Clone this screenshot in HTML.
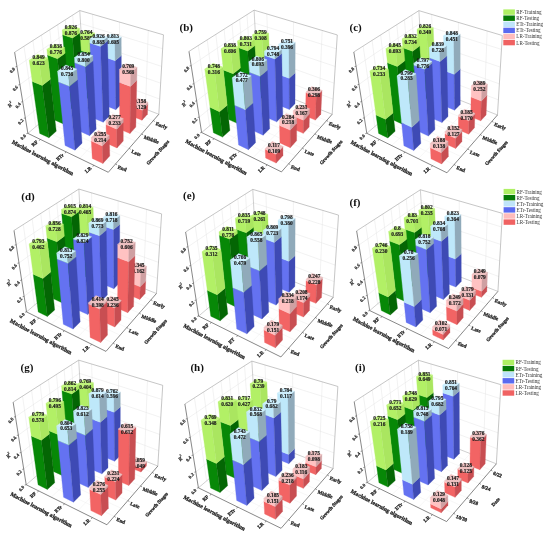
<!DOCTYPE html>
<html><head><meta charset="utf-8"><style>
html,body{margin:0;padding:0;background:#fff;}
svg{display:block;}
text{font-family:"Liberation Serif", "Times New Roman", serif;}
</style></head><body>
<svg width="550" height="538" viewBox="0 0 550 538">
<rect width="550" height="538" fill="#fff"/>
<line x1="35.83" y1="126.61" x2="23.97" y2="46.27" stroke="#e2e2e2" stroke-width="0.45"/>
<line x1="35.83" y1="126.61" x2="115.52" y2="163.98" stroke="#eeeeee" stroke-width="0.45"/>
<line x1="43.52" y1="120.11" x2="32.92" y2="40.54" stroke="#e2e2e2" stroke-width="0.45"/>
<line x1="43.52" y1="120.11" x2="122.45" y2="156.03" stroke="#eeeeee" stroke-width="0.45"/>
<line x1="50.94" y1="113.83" x2="41.51" y2="35.04" stroke="#e2e2e2" stroke-width="0.45"/>
<line x1="50.94" y1="113.83" x2="129.11" y2="148.38" stroke="#eeeeee" stroke-width="0.45"/>
<line x1="58.09" y1="107.77" x2="49.77" y2="29.76" stroke="#e2e2e2" stroke-width="0.45"/>
<line x1="58.09" y1="107.77" x2="135.51" y2="141.03" stroke="#eeeeee" stroke-width="0.45"/>
<line x1="65.01" y1="101.93" x2="57.71" y2="24.68" stroke="#e2e2e2" stroke-width="0.45"/>
<line x1="65.01" y1="101.93" x2="141.67" y2="133.96" stroke="#eeeeee" stroke-width="0.45"/>
<line x1="71.69" y1="96.27" x2="65.34" y2="19.79" stroke="#e2e2e2" stroke-width="0.45"/>
<line x1="71.69" y1="96.27" x2="147.60" y2="127.14" stroke="#eeeeee" stroke-width="0.45"/>
<line x1="78.15" y1="90.81" x2="72.70" y2="15.09" stroke="#e2e2e2" stroke-width="0.45"/>
<line x1="78.15" y1="90.81" x2="153.32" y2="120.58" stroke="#eeeeee" stroke-width="0.45"/>
<line x1="95.87" y1="89.95" x2="92.57" y2="14.26" stroke="#e2e2e2" stroke-width="0.45"/>
<line x1="119.89" y1="99.22" x2="119.46" y2="22.06" stroke="#e2e2e2" stroke-width="0.45"/>
<line x1="145.44" y1="109.08" x2="148.28" y2="30.42" stroke="#e2e2e2" stroke-width="0.45"/>
<line x1="40.11" y1="139.29" x2="95.87" y2="89.95" stroke="#eeeeee" stroke-width="0.45"/>
<line x1="52.79" y1="145.42" x2="107.70" y2="94.52" stroke="#eeeeee" stroke-width="0.45"/>
<line x1="65.93" y1="151.77" x2="119.89" y2="99.22" stroke="#eeeeee" stroke-width="0.45"/>
<line x1="79.54" y1="158.36" x2="132.47" y2="104.07" stroke="#eeeeee" stroke-width="0.45"/>
<line x1="93.66" y1="165.19" x2="145.44" y2="109.08" stroke="#eeeeee" stroke-width="0.45"/>
<line x1="25.35" y1="117.96" x2="83.51" y2="71.09" stroke="#e2e2e2" stroke-width="0.45"/>
<line x1="83.51" y1="71.09" x2="159.72" y2="99.10" stroke="#e2e2e2" stroke-width="0.45"/>
<line x1="22.71" y1="101.73" x2="82.58" y2="55.98" stroke="#e2e2e2" stroke-width="0.45"/>
<line x1="82.58" y1="55.98" x2="160.65" y2="83.17" stroke="#e2e2e2" stroke-width="0.45"/>
<line x1="19.91" y1="84.61" x2="81.60" y2="40.15" stroke="#e2e2e2" stroke-width="0.45"/>
<line x1="81.60" y1="40.15" x2="161.63" y2="66.40" stroke="#e2e2e2" stroke-width="0.45"/>
<line x1="16.97" y1="66.51" x2="80.58" y2="23.55" stroke="#e2e2e2" stroke-width="0.45"/>
<line x1="80.58" y1="23.55" x2="162.67" y2="48.73" stroke="#e2e2e2" stroke-width="0.45"/>
<line x1="14.64" y1="52.24" x2="79.78" y2="10.55" stroke="#a0a0a0" stroke-width="0.6"/>
<line x1="79.78" y1="10.55" x2="163.48" y2="34.83" stroke="#a0a0a0" stroke-width="0.6"/>
<line x1="163.48" y1="34.83" x2="158.83" y2="114.25" stroke="#a0a0a0" stroke-width="0.6"/>
<line x1="84.39" y1="85.52" x2="79.78" y2="10.55" stroke="#a0a0a0" stroke-width="0.5"/>
<line x1="27.86" y1="133.36" x2="84.39" y2="85.52" stroke="#a0a0a0" stroke-width="0.5"/>
<line x1="84.39" y1="85.52" x2="158.83" y2="114.25" stroke="#a0a0a0" stroke-width="0.5"/>
<line x1="27.86" y1="133.36" x2="14.64" y2="52.24" stroke="#555" stroke-width="0.7"/>
<line x1="27.86" y1="133.36" x2="108.30" y2="172.27" stroke="#555" stroke-width="0.7"/>
<line x1="108.30" y1="172.27" x2="158.83" y2="114.25" stroke="#555" stroke-width="0.7"/>
<line x1="27.86" y1="133.36" x2="26.36" y2="133.66" stroke="#555" stroke-width="0.6"/>
<text x="23.26" y="137.16" font-size="4.7" font-weight="bold" text-anchor="middle" dominant-baseline="central" fill="#222" stroke="#222" stroke-width="0.15" transform="rotate(-47.0 23.26 137.16)">0.0</text>
<line x1="25.35" y1="117.96" x2="23.85" y2="118.26" stroke="#555" stroke-width="0.6"/>
<text x="20.75" y="121.76" font-size="4.7" font-weight="bold" text-anchor="middle" dominant-baseline="central" fill="#222" stroke="#222" stroke-width="0.15" transform="rotate(-47.0 20.75 121.76)">0.2</text>
<line x1="22.71" y1="101.73" x2="21.21" y2="102.03" stroke="#555" stroke-width="0.6"/>
<text x="18.11" y="105.53" font-size="4.7" font-weight="bold" text-anchor="middle" dominant-baseline="central" fill="#222" stroke="#222" stroke-width="0.15" transform="rotate(-47.0 18.11 105.53)">0.4</text>
<line x1="19.91" y1="84.61" x2="18.41" y2="84.91" stroke="#555" stroke-width="0.6"/>
<text x="15.31" y="88.41" font-size="4.7" font-weight="bold" text-anchor="middle" dominant-baseline="central" fill="#222" stroke="#222" stroke-width="0.15" transform="rotate(-47.0 15.31 88.41)">0.6</text>
<line x1="16.97" y1="66.51" x2="15.47" y2="66.81" stroke="#555" stroke-width="0.6"/>
<text x="12.37" y="70.31" font-size="4.7" font-weight="bold" text-anchor="middle" dominant-baseline="central" fill="#222" stroke="#222" stroke-width="0.15" transform="rotate(-47.0 12.37 70.31)">0.8</text>
<line x1="40.11" y1="139.29" x2="39.21" y2="140.79" stroke="#555" stroke-width="0.6"/>
<line x1="65.93" y1="151.77" x2="65.03" y2="153.27" stroke="#555" stroke-width="0.6"/>
<line x1="93.66" y1="165.19" x2="92.76" y2="166.69" stroke="#555" stroke-width="0.6"/>
<line x1="115.52" y1="163.98" x2="117.02" y2="164.88" stroke="#555" stroke-width="0.6"/>
<line x1="129.11" y1="148.38" x2="130.61" y2="149.28" stroke="#555" stroke-width="0.6"/>
<line x1="141.67" y1="133.96" x2="143.17" y2="134.86" stroke="#555" stroke-width="0.6"/>
<line x1="153.32" y1="120.58" x2="154.82" y2="121.48" stroke="#555" stroke-width="0.6"/>
<polygon points="82.36,96.30 91.14,99.82 88.71,53.10 79.30,49.89" fill="#078807" stroke="#078807" stroke-width="0.3" stroke-linejoin="round"/>
<polygon points="91.14,99.82 97.06,94.49 95.10,48.18 88.71,53.10" fill="#046604" stroke="#046604" stroke-width="0.3" stroke-linejoin="round"/>
<polygon points="79.30,49.89 88.71,53.10 87.91,37.83 78.30,34.73" fill="#b2f066" stroke="#b2f066" stroke-width="0.3" stroke-linejoin="round"/>
<polygon points="88.71,53.10 95.10,48.18 94.47,33.07 87.91,37.83" fill="#aae660" stroke="#aae660" stroke-width="0.3" stroke-linejoin="round"/>
<polygon points="78.30,34.73 87.91,37.83 94.47,33.07 84.95,30.08" fill="#bff47c" stroke="#bff47c" stroke-width="0.3" stroke-linejoin="round"/>
<text x="86.41" y="33.60" font-size="5.4" font-weight="bold" text-anchor="middle" fill="#1a1a1a" stroke="#1a1a1a" stroke-width="0.15">0.764</text>
<text x="86.41" y="39.50" font-size="5.4" font-weight="bold" text-anchor="middle" fill="#1a1a1a" stroke="#1a1a1a" stroke-width="0.15">0.589</text>
<polygon points="69.12,107.81 78.06,111.59 72.58,38.03 62.65,34.76" fill="#078807" stroke="#078807" stroke-width="0.3" stroke-linejoin="round"/>
<polygon points="78.06,111.59 84.40,105.89 79.77,33.01 72.58,38.03" fill="#046604" stroke="#046604" stroke-width="0.3" stroke-linejoin="round"/>
<polygon points="62.65,34.76 72.58,38.03 72.22,33.29 62.23,30.06" fill="#b2f066" stroke="#b2f066" stroke-width="0.3" stroke-linejoin="round"/>
<polygon points="72.58,38.03 79.77,33.01 79.47,28.32 72.22,33.29" fill="#aae660" stroke="#aae660" stroke-width="0.3" stroke-linejoin="round"/>
<polygon points="62.23,30.06 72.22,33.29 79.47,28.32 69.57,25.22" fill="#bff47c" stroke="#bff47c" stroke-width="0.3" stroke-linejoin="round"/>
<text x="70.87" y="28.89" font-size="5.4" font-weight="bold" text-anchor="middle" fill="#1a1a1a" stroke="#1a1a1a" stroke-width="0.15">0.926</text>
<text x="70.87" y="34.79" font-size="5.4" font-weight="bold" text-anchor="middle" fill="#1a1a1a" stroke="#1a1a1a" stroke-width="0.15">0.876</text>
<polygon points="106.43,105.95 115.77,109.70 115.16,60.75 105.08,57.33" fill="#6472f1" stroke="#6472f1" stroke-width="0.3" stroke-linejoin="round"/>
<polygon points="115.77,109.70 121.47,104.04 121.32,55.52 115.16,60.75" fill="#3e4ab4" stroke="#3e4ab4" stroke-width="0.3" stroke-linejoin="round"/>
<polygon points="105.08,57.33 115.16,60.75 114.93,42.06 104.57,38.78" fill="#bee8fa" stroke="#bee8fa" stroke-width="0.3" stroke-linejoin="round"/>
<polygon points="115.16,60.75 121.32,55.52 121.26,37.02 114.93,42.06" fill="#90aaba" stroke="#90aaba" stroke-width="0.3" stroke-linejoin="round"/>
<polygon points="104.57,38.78 114.93,42.06 121.26,37.02 111.01,33.87" fill="#cdeefc" stroke="#cdeefc" stroke-width="0.3" stroke-linejoin="round"/>
<text x="112.94" y="37.60" font-size="5.4" font-weight="bold" text-anchor="middle" fill="#1a1a1a" stroke="#1a1a1a" stroke-width="0.15">0.813</text>
<text x="112.94" y="43.50" font-size="5.4" font-weight="bold" text-anchor="middle" fill="#1a1a1a" stroke="#1a1a1a" stroke-width="0.15">0.605</text>
<polygon points="54.94,120.15 64.02,124.22 57.50,58.73 47.51,55.10" fill="#078807" stroke="#078807" stroke-width="0.3" stroke-linejoin="round"/>
<polygon points="64.02,124.22 70.83,118.10 65.16,53.18 57.50,58.73" fill="#046604" stroke="#046604" stroke-width="0.3" stroke-linejoin="round"/>
<polygon points="47.51,55.10 57.50,58.73 56.91,52.87 46.85,49.29" fill="#b2f066" stroke="#b2f066" stroke-width="0.3" stroke-linejoin="round"/>
<polygon points="57.50,58.73 65.16,53.18 64.65,47.39 56.91,52.87" fill="#aae660" stroke="#aae660" stroke-width="0.3" stroke-linejoin="round"/>
<polygon points="46.85,49.29 56.91,52.87 64.65,47.39 54.68,43.95" fill="#bff47c" stroke="#bff47c" stroke-width="0.3" stroke-linejoin="round"/>
<text x="55.78" y="48.04" font-size="5.4" font-weight="bold" text-anchor="middle" fill="#1a1a1a" stroke="#1a1a1a" stroke-width="0.15">0.838</text>
<text x="55.78" y="53.94" font-size="5.4" font-weight="bold" text-anchor="middle" fill="#1a1a1a" stroke="#1a1a1a" stroke-width="0.15">0.776</text>
<polygon points="93.63,118.18 103.16,122.22 100.59,46.40 89.91,42.89" fill="#6472f1" stroke="#6472f1" stroke-width="0.3" stroke-linejoin="round"/>
<polygon points="103.16,122.22 109.27,116.15 107.52,41.02 100.59,46.40" fill="#3e4ab4" stroke="#3e4ab4" stroke-width="0.3" stroke-linejoin="round"/>
<polygon points="89.91,42.89 100.59,46.40 100.46,42.42 89.71,38.94" fill="#bee8fa" stroke="#bee8fa" stroke-width="0.3" stroke-linejoin="round"/>
<polygon points="100.59,46.40 107.52,41.02 107.43,37.09 100.46,42.42" fill="#90aaba" stroke="#90aaba" stroke-width="0.3" stroke-linejoin="round"/>
<polygon points="89.71,38.94 100.46,42.42 107.43,37.09 96.79,33.75" fill="#cdeefc" stroke="#cdeefc" stroke-width="0.3" stroke-linejoin="round"/>
<text x="98.59" y="37.71" font-size="5.4" font-weight="bold" text-anchor="middle" fill="#1a1a1a" stroke="#1a1a1a" stroke-width="0.15">0.926</text>
<text x="98.59" y="43.61" font-size="5.4" font-weight="bold" text-anchor="middle" fill="#1a1a1a" stroke="#1a1a1a" stroke-width="0.15">0.885</text>
<polygon points="132.06,116.23 142.02,120.23 142.33,110.26 132.20,106.32" fill="#f26464" stroke="#f26464" stroke-width="0.3" stroke-linejoin="round"/>
<polygon points="142.02,120.23 147.46,114.21 147.85,104.31 142.33,110.26" fill="#c84e52" stroke="#c84e52" stroke-width="0.3" stroke-linejoin="round"/>
<polygon points="132.20,106.32 142.33,110.26 142.40,107.97 132.23,104.04" fill="#ffc2c2" stroke="#ffc2c2" stroke-width="0.3" stroke-linejoin="round"/>
<polygon points="142.33,110.26 147.85,104.31 147.94,102.04 142.40,107.97" fill="#cfa0a2" stroke="#cfa0a2" stroke-width="0.3" stroke-linejoin="round"/>
<polygon points="132.23,104.04 142.40,107.97 147.94,102.04 137.88,98.26" fill="#ecc0c0" stroke="#ecc0c0" stroke-width="0.3" stroke-linejoin="round"/>
<text x="140.11" y="102.74" font-size="5.4" font-weight="bold" text-anchor="middle" fill="#1a1a1a" stroke="#1a1a1a" stroke-width="0.15">0.158</text>
<text x="140.11" y="108.64" font-size="5.4" font-weight="bold" text-anchor="middle" fill="#1a1a1a" stroke="#1a1a1a" stroke-width="0.15">0.129</text>
<polygon points="39.69,133.42 48.93,137.81 42.22,85.44 32.26,81.38" fill="#078807" stroke="#078807" stroke-width="0.3" stroke-linejoin="round"/>
<polygon points="48.93,137.81 56.25,131.22 50.33,79.28 42.22,85.44" fill="#046604" stroke="#046604" stroke-width="0.3" stroke-linejoin="round"/>
<polygon points="32.26,81.38 42.22,85.44 39.49,64.04 29.23,60.14" fill="#b2f066" stroke="#b2f066" stroke-width="0.3" stroke-linejoin="round"/>
<polygon points="42.22,85.44 50.33,79.28 47.91,58.10 39.49,64.04" fill="#aae660" stroke="#aae660" stroke-width="0.3" stroke-linejoin="round"/>
<polygon points="29.23,60.14 39.49,64.04 47.91,58.10 37.74,54.36" fill="#bff47c" stroke="#bff47c" stroke-width="0.3" stroke-linejoin="round"/>
<text x="38.60" y="58.82" font-size="5.4" font-weight="bold" text-anchor="middle" fill="#1a1a1a" stroke="#1a1a1a" stroke-width="0.15">0.849</text>
<text x="38.60" y="64.72" font-size="5.4" font-weight="bold" text-anchor="middle" fill="#1a1a1a" stroke="#1a1a1a" stroke-width="0.15">0.623</text>
<polygon points="79.88,131.33 89.59,135.68 85.60,66.70 74.81,62.81" fill="#6472f1" stroke="#6472f1" stroke-width="0.3" stroke-linejoin="round"/>
<polygon points="89.59,135.68 96.18,129.15 93.03,60.77 85.60,66.70" fill="#3e4ab4" stroke="#3e4ab4" stroke-width="0.3" stroke-linejoin="round"/>
<polygon points="74.81,62.81 85.60,66.70 85.30,61.45 74.43,57.60" fill="#bee8fa" stroke="#bee8fa" stroke-width="0.3" stroke-linejoin="round"/>
<polygon points="85.60,66.70 93.03,60.77 92.79,55.58 85.30,61.45" fill="#90aaba" stroke="#90aaba" stroke-width="0.3" stroke-linejoin="round"/>
<polygon points="74.43,57.60 85.30,61.45 92.79,55.58 82.03,51.89" fill="#cdeefc" stroke="#cdeefc" stroke-width="0.3" stroke-linejoin="round"/>
<text x="83.63" y="56.29" font-size="5.4" font-weight="bold" text-anchor="middle" fill="#1a1a1a" stroke="#1a1a1a" stroke-width="0.15">0.854</text>
<text x="83.63" y="62.19" font-size="5.4" font-weight="bold" text-anchor="middle" fill="#1a1a1a" stroke="#1a1a1a" stroke-width="0.15">0.800</text>
<polygon points="119.78,129.25 129.97,133.57 130.50,86.40 119.50,82.39" fill="#f26464" stroke="#f26464" stroke-width="0.3" stroke-linejoin="round"/>
<polygon points="129.97,133.57 135.82,127.09 136.80,80.32 130.50,86.40" fill="#c84e52" stroke="#c84e52" stroke-width="0.3" stroke-linejoin="round"/>
<polygon points="119.50,82.39 130.50,86.40 130.65,73.26 119.42,69.35" fill="#ffc2c2" stroke="#ffc2c2" stroke-width="0.3" stroke-linejoin="round"/>
<polygon points="130.50,86.40 136.80,80.32 137.07,67.31 130.65,73.26" fill="#cfa0a2" stroke="#cfa0a2" stroke-width="0.3" stroke-linejoin="round"/>
<polygon points="119.42,69.35 130.65,73.26 137.07,67.31 125.97,63.54" fill="#ecc0c0" stroke="#ecc0c0" stroke-width="0.3" stroke-linejoin="round"/>
<text x="128.27" y="68.02" font-size="5.4" font-weight="bold" text-anchor="middle" fill="#1a1a1a" stroke="#1a1a1a" stroke-width="0.15">0.709</text>
<text x="128.27" y="73.92" font-size="5.4" font-weight="bold" text-anchor="middle" fill="#1a1a1a" stroke="#1a1a1a" stroke-width="0.15">0.566</text>
<polygon points="65.06,145.49 74.96,150.20 69.52,86.22 58.61,81.91" fill="#6472f1" stroke="#6472f1" stroke-width="0.3" stroke-linejoin="round"/>
<polygon points="74.96,150.20 82.07,143.15 77.52,79.69 69.52,86.22" fill="#3e4ab4" stroke="#3e4ab4" stroke-width="0.3" stroke-linejoin="round"/>
<polygon points="58.61,81.91 69.52,86.22 68.61,75.50 57.53,71.28" fill="#bee8fa" stroke="#bee8fa" stroke-width="0.3" stroke-linejoin="round"/>
<polygon points="69.52,86.22 77.52,79.69 76.76,69.09 68.61,75.50" fill="#90aaba" stroke="#90aaba" stroke-width="0.3" stroke-linejoin="round"/>
<polygon points="57.53,71.28 68.61,75.50 76.76,69.09 65.78,65.05" fill="#cdeefc" stroke="#cdeefc" stroke-width="0.3" stroke-linejoin="round"/>
<text x="67.17" y="69.88" font-size="5.4" font-weight="bold" text-anchor="middle" fill="#1a1a1a" stroke="#1a1a1a" stroke-width="0.15">0.845</text>
<text x="67.17" y="75.78" font-size="5.4" font-weight="bold" text-anchor="middle" fill="#1a1a1a" stroke="#1a1a1a" stroke-width="0.15">0.736</text>
<polygon points="106.56,143.29 116.97,147.95 116.76,129.14 106.02,124.57" fill="#f26464" stroke="#f26464" stroke-width="0.3" stroke-linejoin="round"/>
<polygon points="116.97,147.95 123.28,140.97 123.28,122.28 116.76,129.14" fill="#c84e52" stroke="#c84e52" stroke-width="0.3" stroke-linejoin="round"/>
<polygon points="106.02,124.57 116.76,129.14 116.72,125.44 105.91,120.90" fill="#ffc2c2" stroke="#ffc2c2" stroke-width="0.3" stroke-linejoin="round"/>
<polygon points="116.76,129.14 123.28,122.28 123.28,118.62 116.72,125.44" fill="#cfa0a2" stroke="#cfa0a2" stroke-width="0.3" stroke-linejoin="round"/>
<polygon points="105.91,120.90 116.72,125.44 123.28,118.62 112.58,114.25" fill="#ecc0c0" stroke="#ecc0c0" stroke-width="0.3" stroke-linejoin="round"/>
<text x="114.62" y="119.46" font-size="5.4" font-weight="bold" text-anchor="middle" fill="#1a1a1a" stroke="#1a1a1a" stroke-width="0.15">0.277</text>
<text x="114.62" y="125.36" font-size="5.4" font-weight="bold" text-anchor="middle" fill="#1a1a1a" stroke="#1a1a1a" stroke-width="0.15">0.233</text>
<polygon points="92.28,158.44 102.92,163.50 102.27,146.04 91.32,141.06" fill="#f26464" stroke="#f26464" stroke-width="0.3" stroke-linejoin="round"/>
<polygon points="102.92,163.50 109.75,155.95 109.33,138.59 102.27,146.04" fill="#c84e52" stroke="#c84e52" stroke-width="0.3" stroke-linejoin="round"/>
<polygon points="91.32,141.06 102.27,146.04 102.14,142.57 91.12,137.61" fill="#ffc2c2" stroke="#ffc2c2" stroke-width="0.3" stroke-linejoin="round"/>
<polygon points="102.27,146.04 109.33,138.59 109.24,135.14 102.14,142.57" fill="#cfa0a2" stroke="#cfa0a2" stroke-width="0.3" stroke-linejoin="round"/>
<polygon points="91.12,137.61 102.14,142.57 109.24,135.14 98.34,130.38" fill="#ecc0c0" stroke="#ecc0c0" stroke-width="0.3" stroke-linejoin="round"/>
<text x="100.21" y="136.07" font-size="5.4" font-weight="bold" text-anchor="middle" fill="#1a1a1a" stroke="#1a1a1a" stroke-width="0.15">0.255</text>
<text x="100.21" y="141.97" font-size="5.4" font-weight="bold" text-anchor="middle" fill="#1a1a1a" stroke="#1a1a1a" stroke-width="0.15">0.214</text>
<text x="34.71" y="143.49" font-size="4.8" font-weight="bold" text-anchor="middle" dominant-baseline="central" fill="#222" stroke="#222" stroke-width="0.28" transform="rotate(-42.0 34.71 143.49)">RF</text>
<text x="59.93" y="157.27" font-size="4.8" font-weight="bold" text-anchor="middle" dominant-baseline="central" fill="#222" stroke="#222" stroke-width="0.28" transform="rotate(-42.0 59.93 157.27)">ETr</text>
<text x="88.26" y="169.79" font-size="4.8" font-weight="bold" text-anchor="middle" dominant-baseline="central" fill="#222" stroke="#222" stroke-width="0.28" transform="rotate(-42.0 88.26 169.79)">LR</text>
<text x="42.83" y="157.67" font-size="5.75" font-weight="bold" text-anchor="middle" dominant-baseline="central" fill="#222" stroke="#222" stroke-width="0.28" transform="rotate(28.0 42.83 157.67)">Machine learning algorithm</text>
<text x="118.02" y="166.58" font-size="5.1" font-weight="bold" text-anchor="start" dominant-baseline="central" fill="#222" stroke="#222" stroke-width="0.28" transform="rotate(20.0 118.02 166.58)">End</text>
<text x="131.61" y="150.98" font-size="5.1" font-weight="bold" text-anchor="start" dominant-baseline="central" fill="#222" stroke="#222" stroke-width="0.28" transform="rotate(20.0 131.61 150.98)">Late</text>
<text x="144.17" y="136.56" font-size="5.1" font-weight="bold" text-anchor="start" dominant-baseline="central" fill="#222" stroke="#222" stroke-width="0.28" transform="rotate(20.0 144.17 136.56)">Middle</text>
<text x="155.82" y="123.18" font-size="5.1" font-weight="bold" text-anchor="start" dominant-baseline="central" fill="#222" stroke="#222" stroke-width="0.28" transform="rotate(20.0 155.82 123.18)">Early</text>
<text x="157.91" y="152.53" font-size="5.0" font-weight="bold" text-anchor="middle" dominant-baseline="central" fill="#222" stroke="#222" stroke-width="0.28" transform="rotate(-48.0 157.91 152.53)">Growth Stages</text>
<text x="10.21" y="104.73" font-size="5.4" font-weight="bold" font-style="italic" fill="#222" stroke="#222" stroke-width="0.15" text-anchor="middle" dominant-baseline="central" transform="rotate(-45 10.21 104.73)">R<tspan font-size="3.4" dy="-2">2</tspan></text>
<line x1="209.60" y1="125.83" x2="198.29" y2="45.50" stroke="#e2e2e2" stroke-width="0.45"/>
<line x1="209.60" y1="125.83" x2="288.72" y2="163.67" stroke="#eeeeee" stroke-width="0.45"/>
<line x1="217.29" y1="119.38" x2="207.23" y2="39.83" stroke="#e2e2e2" stroke-width="0.45"/>
<line x1="217.29" y1="119.38" x2="295.67" y2="155.76" stroke="#eeeeee" stroke-width="0.45"/>
<line x1="224.72" y1="113.16" x2="215.83" y2="34.39" stroke="#e2e2e2" stroke-width="0.45"/>
<line x1="224.72" y1="113.16" x2="302.35" y2="148.17" stroke="#eeeeee" stroke-width="0.45"/>
<line x1="231.88" y1="107.16" x2="224.08" y2="29.17" stroke="#e2e2e2" stroke-width="0.45"/>
<line x1="231.88" y1="107.16" x2="308.77" y2="140.86" stroke="#eeeeee" stroke-width="0.45"/>
<line x1="238.80" y1="101.36" x2="232.01" y2="24.14" stroke="#e2e2e2" stroke-width="0.45"/>
<line x1="238.80" y1="101.36" x2="314.95" y2="133.83" stroke="#eeeeee" stroke-width="0.45"/>
<line x1="245.49" y1="95.75" x2="239.65" y2="19.31" stroke="#e2e2e2" stroke-width="0.45"/>
<line x1="245.49" y1="95.75" x2="320.90" y2="127.06" stroke="#eeeeee" stroke-width="0.45"/>
<line x1="251.96" y1="90.33" x2="247.00" y2="14.65" stroke="#e2e2e2" stroke-width="0.45"/>
<line x1="251.96" y1="90.33" x2="326.64" y2="120.54" stroke="#eeeeee" stroke-width="0.45"/>
<line x1="269.62" y1="89.59" x2="266.80" y2="13.95" stroke="#e2e2e2" stroke-width="0.45"/>
<line x1="293.48" y1="99.00" x2="293.53" y2="21.91" stroke="#e2e2e2" stroke-width="0.45"/>
<line x1="318.86" y1="109.01" x2="322.18" y2="30.45" stroke="#e2e2e2" stroke-width="0.45"/>
<line x1="213.78" y1="138.52" x2="269.62" y2="89.59" stroke="#eeeeee" stroke-width="0.45"/>
<line x1="226.37" y1="144.73" x2="281.37" y2="94.22" stroke="#eeeeee" stroke-width="0.45"/>
<line x1="239.41" y1="151.16" x2="293.48" y2="99.00" stroke="#eeeeee" stroke-width="0.45"/>
<line x1="252.93" y1="157.82" x2="305.97" y2="103.92" stroke="#eeeeee" stroke-width="0.45"/>
<line x1="266.94" y1="164.73" x2="318.86" y2="109.01" stroke="#eeeeee" stroke-width="0.45"/>
<line x1="199.21" y1="117.13" x2="257.42" y2="70.66" stroke="#e2e2e2" stroke-width="0.45"/>
<line x1="257.42" y1="70.66" x2="333.14" y2="99.12" stroke="#e2e2e2" stroke-width="0.45"/>
<line x1="196.68" y1="100.90" x2="256.59" y2="55.57" stroke="#e2e2e2" stroke-width="0.45"/>
<line x1="256.59" y1="55.57" x2="334.17" y2="83.22" stroke="#e2e2e2" stroke-width="0.45"/>
<line x1="194.01" y1="83.78" x2="255.72" y2="39.75" stroke="#e2e2e2" stroke-width="0.45"/>
<line x1="255.72" y1="39.75" x2="335.25" y2="66.47" stroke="#e2e2e2" stroke-width="0.45"/>
<line x1="191.18" y1="65.67" x2="254.81" y2="23.15" stroke="#e2e2e2" stroke-width="0.45"/>
<line x1="254.81" y1="23.15" x2="336.39" y2="48.82" stroke="#e2e2e2" stroke-width="0.45"/>
<line x1="188.96" y1="51.41" x2="254.09" y2="10.17" stroke="#a0a0a0" stroke-width="0.6"/>
<line x1="254.09" y1="10.17" x2="337.29" y2="34.95" stroke="#a0a0a0" stroke-width="0.6"/>
<line x1="337.29" y1="34.95" x2="332.17" y2="114.25" stroke="#a0a0a0" stroke-width="0.6"/>
<line x1="258.21" y1="85.09" x2="254.09" y2="10.17" stroke="#a0a0a0" stroke-width="0.5"/>
<line x1="201.61" y1="132.53" x2="258.21" y2="85.09" stroke="#a0a0a0" stroke-width="0.5"/>
<line x1="258.21" y1="85.09" x2="332.17" y2="114.25" stroke="#a0a0a0" stroke-width="0.5"/>
<line x1="201.61" y1="132.53" x2="188.96" y2="51.41" stroke="#555" stroke-width="0.7"/>
<line x1="201.61" y1="132.53" x2="281.48" y2="171.90" stroke="#555" stroke-width="0.7"/>
<line x1="281.48" y1="171.90" x2="332.17" y2="114.25" stroke="#555" stroke-width="0.7"/>
<line x1="201.61" y1="132.53" x2="200.11" y2="132.83" stroke="#555" stroke-width="0.6"/>
<text x="197.01" y="136.33" font-size="4.7" font-weight="bold" text-anchor="middle" dominant-baseline="central" fill="#222" stroke="#222" stroke-width="0.15" transform="rotate(-47.0 197.01 136.33)">0.0</text>
<line x1="199.21" y1="117.13" x2="197.71" y2="117.43" stroke="#555" stroke-width="0.6"/>
<text x="194.61" y="120.93" font-size="4.7" font-weight="bold" text-anchor="middle" dominant-baseline="central" fill="#222" stroke="#222" stroke-width="0.15" transform="rotate(-47.0 194.61 120.93)">0.2</text>
<line x1="196.68" y1="100.90" x2="195.18" y2="101.20" stroke="#555" stroke-width="0.6"/>
<text x="192.08" y="104.70" font-size="4.7" font-weight="bold" text-anchor="middle" dominant-baseline="central" fill="#222" stroke="#222" stroke-width="0.15" transform="rotate(-47.0 192.08 104.70)">0.4</text>
<line x1="194.01" y1="83.78" x2="192.51" y2="84.08" stroke="#555" stroke-width="0.6"/>
<text x="189.41" y="87.58" font-size="4.7" font-weight="bold" text-anchor="middle" dominant-baseline="central" fill="#222" stroke="#222" stroke-width="0.15" transform="rotate(-47.0 189.41 87.58)">0.6</text>
<line x1="191.18" y1="65.67" x2="189.68" y2="65.97" stroke="#555" stroke-width="0.6"/>
<text x="186.58" y="69.47" font-size="4.7" font-weight="bold" text-anchor="middle" dominant-baseline="central" fill="#222" stroke="#222" stroke-width="0.15" transform="rotate(-47.0 186.58 69.47)">0.8</text>
<line x1="213.78" y1="138.52" x2="212.88" y2="140.02" stroke="#555" stroke-width="0.6"/>
<line x1="239.41" y1="151.16" x2="238.51" y2="152.66" stroke="#555" stroke-width="0.6"/>
<line x1="266.94" y1="164.73" x2="266.04" y2="166.23" stroke="#555" stroke-width="0.6"/>
<line x1="288.72" y1="163.67" x2="290.22" y2="164.57" stroke="#555" stroke-width="0.6"/>
<line x1="302.35" y1="148.17" x2="303.85" y2="149.07" stroke="#555" stroke-width="0.6"/>
<line x1="314.95" y1="133.83" x2="316.45" y2="134.73" stroke="#555" stroke-width="0.6"/>
<line x1="326.64" y1="120.54" x2="328.14" y2="121.44" stroke="#555" stroke-width="0.6"/>
<polygon points="256.12,95.84 264.84,99.42 263.77,75.85 254.73,72.42" fill="#078807" stroke="#078807" stroke-width="0.3" stroke-linejoin="round"/>
<polygon points="264.84,99.42 270.77,94.13 269.93,70.76 263.77,75.85" fill="#046604" stroke="#046604" stroke-width="0.3" stroke-linejoin="round"/>
<polygon points="254.73,72.42 263.77,75.85 262.04,37.92 252.49,34.76" fill="#b2f066" stroke="#b2f066" stroke-width="0.3" stroke-linejoin="round"/>
<polygon points="263.77,75.85 269.93,70.76 268.59,33.19 262.04,37.92" fill="#aae660" stroke="#aae660" stroke-width="0.3" stroke-linejoin="round"/>
<polygon points="252.49,34.76 262.04,37.92 268.59,33.19 259.13,30.15" fill="#bff47c" stroke="#bff47c" stroke-width="0.3" stroke-linejoin="round"/>
<text x="260.56" y="33.67" font-size="5.4" font-weight="bold" text-anchor="middle" fill="#1a1a1a" stroke="#1a1a1a" stroke-width="0.15">0.759</text>
<text x="260.56" y="39.57" font-size="5.4" font-weight="bold" text-anchor="middle" fill="#1a1a1a" stroke="#1a1a1a" stroke-width="0.15">0.308</text>
<polygon points="242.87,107.26 251.74,111.09 247.65,50.95 237.96,47.52" fill="#078807" stroke="#078807" stroke-width="0.3" stroke-linejoin="round"/>
<polygon points="251.74,111.09 258.09,105.43 254.69,45.83 247.65,50.95" fill="#046604" stroke="#046604" stroke-width="0.3" stroke-linejoin="round"/>
<polygon points="237.96,47.52 247.65,50.95 247.20,44.38 237.43,40.99" fill="#b2f066" stroke="#b2f066" stroke-width="0.3" stroke-linejoin="round"/>
<polygon points="247.65,50.95 254.69,45.83 254.32,39.33 247.20,44.38" fill="#aae660" stroke="#aae660" stroke-width="0.3" stroke-linejoin="round"/>
<polygon points="237.43,40.99 247.20,44.38 254.32,39.33 244.63,36.07" fill="#bff47c" stroke="#bff47c" stroke-width="0.3" stroke-linejoin="round"/>
<text x="245.89" y="39.86" font-size="5.4" font-weight="bold" text-anchor="middle" fill="#1a1a1a" stroke="#1a1a1a" stroke-width="0.15">0.803</text>
<text x="245.89" y="45.76" font-size="5.4" font-weight="bold" text-anchor="middle" fill="#1a1a1a" stroke="#1a1a1a" stroke-width="0.15">0.731</text>
<polygon points="280.03,105.64 289.31,109.44 289.12,78.30 279.37,74.68" fill="#6472f1" stroke="#6472f1" stroke-width="0.3" stroke-linejoin="round"/>
<polygon points="289.31,109.44 295.02,103.82 295.12,72.94 289.12,78.30" fill="#3e4ab4" stroke="#3e4ab4" stroke-width="0.3" stroke-linejoin="round"/>
<polygon points="279.37,74.68 289.12,78.30 288.93,47.54 278.72,44.15" fill="#bee8fa" stroke="#bee8fa" stroke-width="0.3" stroke-linejoin="round"/>
<polygon points="289.12,78.30 295.12,72.94 295.21,42.49 288.93,47.54" fill="#90aaba" stroke="#90aaba" stroke-width="0.3" stroke-linejoin="round"/>
<polygon points="278.72,44.15 288.93,47.54 295.21,42.49 285.11,39.22" fill="#cdeefc" stroke="#cdeefc" stroke-width="0.3" stroke-linejoin="round"/>
<text x="286.99" y="43.02" font-size="5.4" font-weight="bold" text-anchor="middle" fill="#1a1a1a" stroke="#1a1a1a" stroke-width="0.15">0.751</text>
<text x="286.99" y="48.92" font-size="5.4" font-weight="bold" text-anchor="middle" fill="#1a1a1a" stroke="#1a1a1a" stroke-width="0.15">0.396</text>
<polygon points="228.66,119.50 237.69,123.62 233.04,73.70 223.33,69.90" fill="#078807" stroke="#078807" stroke-width="0.3" stroke-linejoin="round"/>
<polygon points="237.69,123.62 244.50,117.55 240.50,68.05 233.04,73.70" fill="#046604" stroke="#046604" stroke-width="0.3" stroke-linejoin="round"/>
<polygon points="223.33,69.90 233.04,73.70 231.05,52.30 221.05,48.66" fill="#b2f066" stroke="#b2f066" stroke-width="0.3" stroke-linejoin="round"/>
<polygon points="233.04,73.70 240.50,68.05 238.79,46.87 231.05,52.30" fill="#aae660" stroke="#aae660" stroke-width="0.3" stroke-linejoin="round"/>
<polygon points="221.05,48.66 231.05,52.30 238.79,46.87 228.88,43.37" fill="#bff47c" stroke="#bff47c" stroke-width="0.3" stroke-linejoin="round"/>
<text x="229.95" y="47.46" font-size="5.4" font-weight="bold" text-anchor="middle" fill="#1a1a1a" stroke="#1a1a1a" stroke-width="0.15">0.838</text>
<text x="229.95" y="53.36" font-size="5.4" font-weight="bold" text-anchor="middle" fill="#1a1a1a" stroke="#1a1a1a" stroke-width="0.15">0.606</text>
<polygon points="267.21,117.78 276.67,121.86 274.95,59.07 264.52,55.39" fill="#6472f1" stroke="#6472f1" stroke-width="0.3" stroke-linejoin="round"/>
<polygon points="276.67,121.86 282.80,115.84 281.74,53.60 274.95,59.07" fill="#3e4ab4" stroke="#3e4ab4" stroke-width="0.3" stroke-linejoin="round"/>
<polygon points="264.52,55.39 274.95,59.07 274.83,54.77 264.34,51.13" fill="#bee8fa" stroke="#bee8fa" stroke-width="0.3" stroke-linejoin="round"/>
<polygon points="274.95,59.07 281.74,53.60 281.67,49.35 274.83,54.77" fill="#90aaba" stroke="#90aaba" stroke-width="0.3" stroke-linejoin="round"/>
<polygon points="264.34,51.13 274.83,54.77 281.67,49.35 271.28,45.85" fill="#cdeefc" stroke="#cdeefc" stroke-width="0.3" stroke-linejoin="round"/>
<text x="273.03" y="49.94" font-size="5.4" font-weight="bold" text-anchor="middle" fill="#1a1a1a" stroke="#1a1a1a" stroke-width="0.15">0.794</text>
<text x="273.03" y="55.84" font-size="5.4" font-weight="bold" text-anchor="middle" fill="#1a1a1a" stroke="#1a1a1a" stroke-width="0.15">0.748</text>
<polygon points="305.49,116.06 315.39,120.12 316.26,96.60 305.97,92.69" fill="#f26464" stroke="#f26464" stroke-width="0.3" stroke-linejoin="round"/>
<polygon points="315.39,120.12 320.84,114.14 321.91,90.81 316.26,96.60" fill="#c84e52" stroke="#c84e52" stroke-width="0.3" stroke-linejoin="round"/>
<polygon points="305.97,92.69 316.26,96.60 316.29,95.95 305.98,92.04" fill="#ffc2c2" stroke="#ffc2c2" stroke-width="0.3" stroke-linejoin="round"/>
<polygon points="316.26,96.60 321.91,90.81 321.94,90.16 316.29,95.95" fill="#cfa0a2" stroke="#cfa0a2" stroke-width="0.3" stroke-linejoin="round"/>
<polygon points="305.98,92.04 316.29,95.95 321.94,90.16 311.75,86.39" fill="#ecc0c0" stroke="#ecc0c0" stroke-width="0.3" stroke-linejoin="round"/>
<text x="313.98" y="90.80" font-size="5.4" font-weight="bold" text-anchor="middle" fill="#1a1a1a" stroke="#1a1a1a" stroke-width="0.15">0.306</text>
<text x="313.98" y="96.70" font-size="5.4" font-weight="bold" text-anchor="middle" fill="#1a1a1a" stroke="#1a1a1a" stroke-width="0.15">0.298</text>
<polygon points="213.40,132.66 222.57,137.11 219.48,111.68 209.96,107.37" fill="#078807" stroke="#078807" stroke-width="0.3" stroke-linejoin="round"/>
<polygon points="222.57,137.11 229.90,130.56 227.19,105.33 219.48,111.68" fill="#046604" stroke="#046604" stroke-width="0.3" stroke-linejoin="round"/>
<polygon points="209.96,107.37 219.48,111.68 214.81,73.09 204.75,69.05" fill="#b2f066" stroke="#b2f066" stroke-width="0.3" stroke-linejoin="round"/>
<polygon points="219.48,111.68 227.19,105.33 223.09,67.10 214.81,73.09" fill="#aae660" stroke="#aae660" stroke-width="0.3" stroke-linejoin="round"/>
<polygon points="204.75,69.05 214.81,73.09 223.09,67.10 213.11,63.22" fill="#bff47c" stroke="#bff47c" stroke-width="0.3" stroke-linejoin="round"/>
<text x="213.94" y="67.77" font-size="5.4" font-weight="bold" text-anchor="middle" fill="#1a1a1a" stroke="#1a1a1a" stroke-width="0.15">0.748</text>
<text x="213.94" y="73.67" font-size="5.4" font-weight="bold" text-anchor="middle" fill="#1a1a1a" stroke="#1a1a1a" stroke-width="0.15">0.316</text>
<polygon points="253.43,130.82 263.08,135.23 260.05,76.26 249.48,72.22" fill="#6472f1" stroke="#6472f1" stroke-width="0.3" stroke-linejoin="round"/>
<polygon points="263.08,135.23 269.68,128.74 267.35,70.27 260.05,76.26" fill="#3e4ab4" stroke="#3e4ab4" stroke-width="0.3" stroke-linejoin="round"/>
<polygon points="249.48,72.22 260.05,76.26 259.50,65.72 248.78,61.76" fill="#bee8fa" stroke="#bee8fa" stroke-width="0.3" stroke-linejoin="round"/>
<polygon points="260.05,76.26 267.35,70.27 266.94,59.84 259.50,65.72" fill="#90aaba" stroke="#90aaba" stroke-width="0.3" stroke-linejoin="round"/>
<polygon points="248.78,61.76 259.50,65.72 266.94,59.84 256.32,56.05" fill="#cdeefc" stroke="#cdeefc" stroke-width="0.3" stroke-linejoin="round"/>
<text x="257.88" y="60.50" font-size="5.4" font-weight="bold" text-anchor="middle" fill="#1a1a1a" stroke="#1a1a1a" stroke-width="0.15">0.806</text>
<text x="257.88" y="66.40" font-size="5.4" font-weight="bold" text-anchor="middle" fill="#1a1a1a" stroke="#1a1a1a" stroke-width="0.15">0.695</text>
<polygon points="293.19,129.00 303.30,133.37 303.53,120.22 293.19,115.92" fill="#f26464" stroke="#f26464" stroke-width="0.3" stroke-linejoin="round"/>
<polygon points="303.30,133.37 309.17,126.94 309.52,113.88 303.53,120.22" fill="#c84e52" stroke="#c84e52" stroke-width="0.3" stroke-linejoin="round"/>
<polygon points="293.19,115.92 303.53,120.22 303.62,115.02 293.19,110.75" fill="#ffc2c2" stroke="#ffc2c2" stroke-width="0.3" stroke-linejoin="round"/>
<polygon points="303.53,120.22 309.52,113.88 309.66,108.72 303.62,115.02" fill="#cfa0a2" stroke="#cfa0a2" stroke-width="0.3" stroke-linejoin="round"/>
<polygon points="293.19,110.75 303.62,115.02 309.66,108.72 299.34,104.61" fill="#ecc0c0" stroke="#ecc0c0" stroke-width="0.3" stroke-linejoin="round"/>
<text x="301.45" y="109.43" font-size="5.4" font-weight="bold" text-anchor="middle" fill="#1a1a1a" stroke="#1a1a1a" stroke-width="0.15">0.231</text>
<text x="301.45" y="115.33" font-size="5.4" font-weight="bold" text-anchor="middle" fill="#1a1a1a" stroke="#1a1a1a" stroke-width="0.15">0.167</text>
<polygon points="238.59,144.88 248.42,149.65 245.29,109.78 234.82,105.23" fill="#6472f1" stroke="#6472f1" stroke-width="0.3" stroke-linejoin="round"/>
<polygon points="248.42,149.65 255.54,142.65 252.96,103.08 245.29,109.78" fill="#3e4ab4" stroke="#3e4ab4" stroke-width="0.3" stroke-linejoin="round"/>
<polygon points="234.82,105.23 245.29,109.78 243.12,82.20 232.22,77.85" fill="#bee8fa" stroke="#bee8fa" stroke-width="0.3" stroke-linejoin="round"/>
<polygon points="245.29,109.78 252.96,103.08 251.18,75.76 243.12,82.20" fill="#90aaba" stroke="#90aaba" stroke-width="0.3" stroke-linejoin="round"/>
<polygon points="232.22,77.85 243.12,82.20 251.18,75.76 240.38,71.60" fill="#cdeefc" stroke="#cdeefc" stroke-width="0.3" stroke-linejoin="round"/>
<text x="241.73" y="76.51" font-size="5.4" font-weight="bold" text-anchor="middle" fill="#1a1a1a" stroke="#1a1a1a" stroke-width="0.15">0.772</text>
<text x="241.73" y="82.41" font-size="5.4" font-weight="bold" text-anchor="middle" fill="#1a1a1a" stroke="#1a1a1a" stroke-width="0.15">0.477</text>
<polygon points="279.93,142.93 290.27,147.66 290.18,130.11 279.53,125.48" fill="#f26464" stroke="#f26464" stroke-width="0.3" stroke-linejoin="round"/>
<polygon points="290.27,147.66 296.60,140.72 296.70,123.29 290.18,130.11" fill="#c84e52" stroke="#c84e52" stroke-width="0.3" stroke-linejoin="round"/>
<polygon points="279.53,125.48 290.18,130.11 290.15,124.58 279.41,119.98" fill="#ffc2c2" stroke="#ffc2c2" stroke-width="0.3" stroke-linejoin="round"/>
<polygon points="290.18,130.11 296.70,123.29 296.73,117.81 290.15,124.58" fill="#cfa0a2" stroke="#cfa0a2" stroke-width="0.3" stroke-linejoin="round"/>
<polygon points="279.41,119.98 290.15,124.58 296.73,117.81 286.10,113.38" fill="#ecc0c0" stroke="#ecc0c0" stroke-width="0.3" stroke-linejoin="round"/>
<text x="288.09" y="118.59" font-size="5.4" font-weight="bold" text-anchor="middle" fill="#1a1a1a" stroke="#1a1a1a" stroke-width="0.15">0.284</text>
<text x="288.09" y="124.49" font-size="5.4" font-weight="bold" text-anchor="middle" fill="#1a1a1a" stroke="#1a1a1a" stroke-width="0.15">0.218</text>
<polygon points="265.61,157.99 276.17,163.11 275.91,154.35 265.19,149.27" fill="#f26464" stroke="#f26464" stroke-width="0.3" stroke-linejoin="round"/>
<polygon points="276.17,163.11 283.02,155.60 282.87,146.90 275.91,154.35" fill="#c84e52" stroke="#c84e52" stroke-width="0.3" stroke-linejoin="round"/>
<polygon points="265.19,149.27 275.91,154.35 275.89,153.70 265.15,148.62" fill="#ffc2c2" stroke="#ffc2c2" stroke-width="0.3" stroke-linejoin="round"/>
<polygon points="275.91,154.35 282.87,146.90 282.86,146.25 275.89,153.70" fill="#cfa0a2" stroke="#cfa0a2" stroke-width="0.3" stroke-linejoin="round"/>
<polygon points="265.15,148.62 275.89,153.70 282.86,146.25 272.23,141.37" fill="#ecc0c0" stroke="#ecc0c0" stroke-width="0.3" stroke-linejoin="round"/>
<text x="274.03" y="147.13" font-size="5.4" font-weight="bold" text-anchor="middle" fill="#1a1a1a" stroke="#1a1a1a" stroke-width="0.15">0.117</text>
<text x="274.03" y="153.03" font-size="5.4" font-weight="bold" text-anchor="middle" fill="#1a1a1a" stroke="#1a1a1a" stroke-width="0.15">0.109</text>
<text x="208.38" y="142.72" font-size="4.8" font-weight="bold" text-anchor="middle" dominant-baseline="central" fill="#222" stroke="#222" stroke-width="0.28" transform="rotate(-42.0 208.38 142.72)">RF</text>
<text x="233.41" y="156.66" font-size="4.8" font-weight="bold" text-anchor="middle" dominant-baseline="central" fill="#222" stroke="#222" stroke-width="0.28" transform="rotate(-42.0 233.41 156.66)">ETr</text>
<text x="261.54" y="169.33" font-size="4.8" font-weight="bold" text-anchor="middle" dominant-baseline="central" fill="#222" stroke="#222" stroke-width="0.28" transform="rotate(-42.0 261.54 169.33)">LR</text>
<text x="216.31" y="157.06" font-size="5.75" font-weight="bold" text-anchor="middle" dominant-baseline="central" fill="#222" stroke="#222" stroke-width="0.28" transform="rotate(28.0 216.31 157.06)">Machine learning algorithm</text>
<text x="291.22" y="166.27" font-size="5.1" font-weight="bold" text-anchor="start" dominant-baseline="central" fill="#222" stroke="#222" stroke-width="0.28" transform="rotate(20.0 291.22 166.27)">End</text>
<text x="304.85" y="150.77" font-size="5.1" font-weight="bold" text-anchor="start" dominant-baseline="central" fill="#222" stroke="#222" stroke-width="0.28" transform="rotate(20.0 304.85 150.77)">Late</text>
<text x="317.45" y="136.43" font-size="5.1" font-weight="bold" text-anchor="start" dominant-baseline="central" fill="#222" stroke="#222" stroke-width="0.28" transform="rotate(20.0 317.45 136.43)">Middle</text>
<text x="329.14" y="123.14" font-size="5.1" font-weight="bold" text-anchor="start" dominant-baseline="central" fill="#222" stroke="#222" stroke-width="0.28" transform="rotate(20.0 329.14 123.14)">Early</text>
<text x="331.17" y="152.36" font-size="5.0" font-weight="bold" text-anchor="middle" dominant-baseline="central" fill="#222" stroke="#222" stroke-width="0.28" transform="rotate(-48.0 331.17 152.36)">Growth Stages</text>
<text x="184.18" y="103.90" font-size="5.4" font-weight="bold" font-style="italic" fill="#222" stroke="#222" stroke-width="0.15" text-anchor="middle" dominant-baseline="central" transform="rotate(-45 184.18 103.90)">R<tspan font-size="3.4" dy="-2">2</tspan></text>
<text x="179.50" y="30.50" font-size="11" font-weight="bold" text-anchor="start" fill="#111">(b)</text>
<line x1="374.77" y1="126.60" x2="363.14" y2="46.06" stroke="#e2e2e2" stroke-width="0.45"/>
<line x1="374.77" y1="126.60" x2="454.15" y2="164.53" stroke="#eeeeee" stroke-width="0.45"/>
<line x1="382.45" y1="120.13" x2="372.08" y2="40.38" stroke="#e2e2e2" stroke-width="0.45"/>
<line x1="382.45" y1="120.13" x2="461.08" y2="156.61" stroke="#eeeeee" stroke-width="0.45"/>
<line x1="389.86" y1="113.90" x2="380.66" y2="34.93" stroke="#e2e2e2" stroke-width="0.45"/>
<line x1="389.86" y1="113.90" x2="467.74" y2="148.99" stroke="#eeeeee" stroke-width="0.45"/>
<line x1="397.02" y1="107.88" x2="388.90" y2="29.69" stroke="#e2e2e2" stroke-width="0.45"/>
<line x1="397.02" y1="107.88" x2="474.14" y2="141.67" stroke="#eeeeee" stroke-width="0.45"/>
<line x1="403.92" y1="102.06" x2="396.83" y2="24.65" stroke="#e2e2e2" stroke-width="0.45"/>
<line x1="403.92" y1="102.06" x2="480.30" y2="134.62" stroke="#eeeeee" stroke-width="0.45"/>
<line x1="410.60" y1="96.44" x2="404.46" y2="19.81" stroke="#e2e2e2" stroke-width="0.45"/>
<line x1="410.60" y1="96.44" x2="486.24" y2="127.84" stroke="#eeeeee" stroke-width="0.45"/>
<line x1="417.06" y1="91.01" x2="411.81" y2="15.14" stroke="#e2e2e2" stroke-width="0.45"/>
<line x1="417.06" y1="91.01" x2="491.95" y2="121.30" stroke="#eeeeee" stroke-width="0.45"/>
<line x1="434.74" y1="90.26" x2="431.62" y2="14.44" stroke="#e2e2e2" stroke-width="0.45"/>
<line x1="458.67" y1="99.70" x2="458.42" y2="22.42" stroke="#e2e2e2" stroke-width="0.45"/>
<line x1="484.13" y1="109.73" x2="487.15" y2="30.98" stroke="#e2e2e2" stroke-width="0.45"/>
<line x1="379.01" y1="139.32" x2="434.74" y2="90.26" stroke="#eeeeee" stroke-width="0.45"/>
<line x1="391.64" y1="145.54" x2="446.52" y2="94.91" stroke="#eeeeee" stroke-width="0.45"/>
<line x1="404.73" y1="151.99" x2="458.67" y2="99.70" stroke="#eeeeee" stroke-width="0.45"/>
<line x1="418.29" y1="158.67" x2="471.20" y2="104.64" stroke="#eeeeee" stroke-width="0.45"/>
<line x1="432.35" y1="165.60" x2="484.13" y2="109.73" stroke="#eeeeee" stroke-width="0.45"/>
<line x1="364.34" y1="117.87" x2="422.45" y2="71.29" stroke="#e2e2e2" stroke-width="0.45"/>
<line x1="422.45" y1="71.29" x2="498.39" y2="99.83" stroke="#e2e2e2" stroke-width="0.45"/>
<line x1="361.74" y1="101.60" x2="421.56" y2="56.15" stroke="#e2e2e2" stroke-width="0.45"/>
<line x1="421.56" y1="56.15" x2="499.36" y2="83.88" stroke="#e2e2e2" stroke-width="0.45"/>
<line x1="359.00" y1="84.43" x2="420.63" y2="40.30" stroke="#e2e2e2" stroke-width="0.45"/>
<line x1="420.63" y1="40.30" x2="500.38" y2="67.10" stroke="#e2e2e2" stroke-width="0.45"/>
<line x1="356.10" y1="66.29" x2="419.65" y2="23.66" stroke="#e2e2e2" stroke-width="0.45"/>
<line x1="419.65" y1="23.66" x2="501.45" y2="49.40" stroke="#e2e2e2" stroke-width="0.45"/>
<line x1="353.82" y1="51.98" x2="418.88" y2="10.64" stroke="#a0a0a0" stroke-width="0.6"/>
<line x1="418.88" y1="10.64" x2="502.30" y2="35.49" stroke="#a0a0a0" stroke-width="0.6"/>
<line x1="502.30" y1="35.49" x2="497.47" y2="114.99" stroke="#a0a0a0" stroke-width="0.6"/>
<line x1="423.30" y1="85.76" x2="418.88" y2="10.64" stroke="#a0a0a0" stroke-width="0.5"/>
<line x1="366.80" y1="133.31" x2="423.30" y2="85.76" stroke="#a0a0a0" stroke-width="0.5"/>
<line x1="423.30" y1="85.76" x2="497.47" y2="114.99" stroke="#a0a0a0" stroke-width="0.5"/>
<line x1="366.80" y1="133.31" x2="353.82" y2="51.98" stroke="#555" stroke-width="0.7"/>
<line x1="366.80" y1="133.31" x2="446.94" y2="172.79" stroke="#555" stroke-width="0.7"/>
<line x1="446.94" y1="172.79" x2="497.47" y2="114.99" stroke="#555" stroke-width="0.7"/>
<line x1="366.80" y1="133.31" x2="365.30" y2="133.61" stroke="#555" stroke-width="0.6"/>
<text x="362.20" y="137.11" font-size="4.7" font-weight="bold" text-anchor="middle" dominant-baseline="central" fill="#222" stroke="#222" stroke-width="0.15" transform="rotate(-47.0 362.20 137.11)">0.0</text>
<line x1="364.34" y1="117.87" x2="362.84" y2="118.17" stroke="#555" stroke-width="0.6"/>
<text x="359.74" y="121.67" font-size="4.7" font-weight="bold" text-anchor="middle" dominant-baseline="central" fill="#222" stroke="#222" stroke-width="0.15" transform="rotate(-47.0 359.74 121.67)">0.2</text>
<line x1="361.74" y1="101.60" x2="360.24" y2="101.90" stroke="#555" stroke-width="0.6"/>
<text x="357.14" y="105.40" font-size="4.7" font-weight="bold" text-anchor="middle" dominant-baseline="central" fill="#222" stroke="#222" stroke-width="0.15" transform="rotate(-47.0 357.14 105.40)">0.4</text>
<line x1="359.00" y1="84.43" x2="357.50" y2="84.73" stroke="#555" stroke-width="0.6"/>
<text x="354.40" y="88.23" font-size="4.7" font-weight="bold" text-anchor="middle" dominant-baseline="central" fill="#222" stroke="#222" stroke-width="0.15" transform="rotate(-47.0 354.40 88.23)">0.6</text>
<line x1="356.10" y1="66.29" x2="354.60" y2="66.59" stroke="#555" stroke-width="0.6"/>
<text x="351.50" y="70.09" font-size="4.7" font-weight="bold" text-anchor="middle" dominant-baseline="central" fill="#222" stroke="#222" stroke-width="0.15" transform="rotate(-47.0 351.50 70.09)">0.8</text>
<line x1="379.01" y1="139.32" x2="378.11" y2="140.82" stroke="#555" stroke-width="0.6"/>
<line x1="404.73" y1="151.99" x2="403.83" y2="153.49" stroke="#555" stroke-width="0.6"/>
<line x1="432.35" y1="165.60" x2="431.45" y2="167.10" stroke="#555" stroke-width="0.6"/>
<line x1="454.15" y1="164.53" x2="455.65" y2="165.43" stroke="#555" stroke-width="0.6"/>
<line x1="467.74" y1="148.99" x2="469.24" y2="149.89" stroke="#555" stroke-width="0.6"/>
<line x1="480.30" y1="134.62" x2="481.80" y2="135.52" stroke="#555" stroke-width="0.6"/>
<line x1="491.95" y1="121.30" x2="493.45" y2="122.20" stroke="#555" stroke-width="0.6"/>
<polygon points="421.24,96.54 429.99,100.12 428.66,73.21 419.55,69.79" fill="#078807" stroke="#078807" stroke-width="0.3" stroke-linejoin="round"/>
<polygon points="429.99,100.12 435.91,94.82 434.85,68.14 428.66,73.21" fill="#046604" stroke="#046604" stroke-width="0.3" stroke-linejoin="round"/>
<polygon points="419.55,69.79 428.66,73.21 426.65,32.43 417.00,29.31" fill="#b2f066" stroke="#b2f066" stroke-width="0.3" stroke-linejoin="round"/>
<polygon points="428.66,73.21 434.85,68.14 433.25,27.76 426.65,32.43" fill="#aae660" stroke="#aae660" stroke-width="0.3" stroke-linejoin="round"/>
<polygon points="417.00,29.31 426.65,32.43 433.25,27.76 423.69,24.75" fill="#bff47c" stroke="#bff47c" stroke-width="0.3" stroke-linejoin="round"/>
<text x="425.15" y="28.23" font-size="5.4" font-weight="bold" text-anchor="middle" fill="#1a1a1a" stroke="#1a1a1a" stroke-width="0.15">0.826</text>
<text x="425.15" y="34.13" font-size="5.4" font-weight="bold" text-anchor="middle" fill="#1a1a1a" stroke="#1a1a1a" stroke-width="0.15">0.349</text>
<polygon points="408.02,107.98 416.92,111.82 412.57,51.26 402.85,47.81" fill="#078807" stroke="#078807" stroke-width="0.3" stroke-linejoin="round"/>
<polygon points="416.92,111.82 423.25,106.15 419.60,46.12 412.57,51.26" fill="#046604" stroke="#046604" stroke-width="0.3" stroke-linejoin="round"/>
<polygon points="402.85,47.81 412.57,51.26 411.92,42.25 402.09,38.88" fill="#b2f066" stroke="#b2f066" stroke-width="0.3" stroke-linejoin="round"/>
<polygon points="412.57,51.26 419.60,46.12 419.06,37.21 411.92,42.25" fill="#aae660" stroke="#aae660" stroke-width="0.3" stroke-linejoin="round"/>
<polygon points="402.09,38.88 411.92,42.25 419.06,37.21 409.31,33.97" fill="#bff47c" stroke="#bff47c" stroke-width="0.3" stroke-linejoin="round"/>
<text x="410.60" y="37.74" font-size="5.4" font-weight="bold" text-anchor="middle" fill="#1a1a1a" stroke="#1a1a1a" stroke-width="0.15">0.832</text>
<text x="410.60" y="43.64" font-size="5.4" font-weight="bold" text-anchor="middle" fill="#1a1a1a" stroke="#1a1a1a" stroke-width="0.15">0.734</text>
<polygon points="445.22,106.35 454.53,110.17 454.18,74.35 444.33,70.76" fill="#6472f1" stroke="#6472f1" stroke-width="0.3" stroke-linejoin="round"/>
<polygon points="454.53,110.17 460.23,104.54 460.21,69.03 454.18,74.35" fill="#3e4ab4" stroke="#3e4ab4" stroke-width="0.3" stroke-linejoin="round"/>
<polygon points="444.33,70.76 454.18,74.35 453.82,39.17 443.45,35.84" fill="#bee8fa" stroke="#bee8fa" stroke-width="0.3" stroke-linejoin="round"/>
<polygon points="454.18,74.35 460.21,69.03 460.18,34.20 453.82,39.17" fill="#90aaba" stroke="#90aaba" stroke-width="0.3" stroke-linejoin="round"/>
<polygon points="443.45,35.84 453.82,39.17 460.18,34.20 449.92,31.00" fill="#cdeefc" stroke="#cdeefc" stroke-width="0.3" stroke-linejoin="round"/>
<text x="451.84" y="34.72" font-size="5.4" font-weight="bold" text-anchor="middle" fill="#1a1a1a" stroke="#1a1a1a" stroke-width="0.15">0.848</text>
<text x="451.84" y="40.62" font-size="5.4" font-weight="bold" text-anchor="middle" fill="#1a1a1a" stroke="#1a1a1a" stroke-width="0.15">0.451</text>
<polygon points="393.84,120.25 402.89,124.38 397.28,66.46 387.44,62.70" fill="#078807" stroke="#078807" stroke-width="0.3" stroke-linejoin="round"/>
<polygon points="402.89,124.38 409.69,118.29 404.84,60.87 397.28,66.46" fill="#046604" stroke="#046604" stroke-width="0.3" stroke-linejoin="round"/>
<polygon points="387.44,62.70 397.28,66.46 395.91,52.21 385.87,48.57" fill="#b2f066" stroke="#b2f066" stroke-width="0.3" stroke-linejoin="round"/>
<polygon points="397.28,66.46 404.84,60.87 403.65,46.78 395.91,52.21" fill="#aae660" stroke="#aae660" stroke-width="0.3" stroke-linejoin="round"/>
<polygon points="385.87,48.57 395.91,52.21 403.65,46.78 393.70,43.27" fill="#bff47c" stroke="#bff47c" stroke-width="0.3" stroke-linejoin="round"/>
<text x="394.78" y="47.37" font-size="5.4" font-weight="bold" text-anchor="middle" fill="#1a1a1a" stroke="#1a1a1a" stroke-width="0.15">0.845</text>
<text x="394.78" y="53.27" font-size="5.4" font-weight="bold" text-anchor="middle" fill="#1a1a1a" stroke="#1a1a1a" stroke-width="0.15">0.693</text>
<polygon points="432.43,118.52 441.93,122.62 440.01,61.52 429.59,57.82" fill="#6472f1" stroke="#6472f1" stroke-width="0.3" stroke-linejoin="round"/>
<polygon points="441.93,122.62 448.04,116.58 446.78,56.02 440.01,61.52" fill="#3e4ab4" stroke="#3e4ab4" stroke-width="0.3" stroke-linejoin="round"/>
<polygon points="429.59,57.82 440.01,61.52 439.69,51.09 429.11,47.48" fill="#bee8fa" stroke="#bee8fa" stroke-width="0.3" stroke-linejoin="round"/>
<polygon points="440.01,61.52 446.78,56.02 446.56,45.71 439.69,51.09" fill="#90aaba" stroke="#90aaba" stroke-width="0.3" stroke-linejoin="round"/>
<polygon points="429.11,47.48 439.69,51.09 446.56,45.71 436.09,42.23" fill="#cdeefc" stroke="#cdeefc" stroke-width="0.3" stroke-linejoin="round"/>
<text x="437.86" y="46.29" font-size="5.4" font-weight="bold" text-anchor="middle" fill="#1a1a1a" stroke="#1a1a1a" stroke-width="0.15">0.839</text>
<text x="437.86" y="52.19" font-size="5.4" font-weight="bold" text-anchor="middle" fill="#1a1a1a" stroke="#1a1a1a" stroke-width="0.15">0.728</text>
<polygon points="470.76,116.81 480.69,120.87 481.35,101.06 471.09,97.11" fill="#f26464" stroke="#f26464" stroke-width="0.3" stroke-linejoin="round"/>
<polygon points="480.69,120.87 486.12,114.88 486.95,95.22 481.35,101.06" fill="#c84e52" stroke="#c84e52" stroke-width="0.3" stroke-linejoin="round"/>
<polygon points="471.09,97.11 481.35,101.06 481.73,89.73 471.28,85.85" fill="#ffc2c2" stroke="#ffc2c2" stroke-width="0.3" stroke-linejoin="round"/>
<polygon points="481.35,101.06 486.95,95.22 487.42,83.99 481.73,89.73" fill="#cfa0a2" stroke="#cfa0a2" stroke-width="0.3" stroke-linejoin="round"/>
<polygon points="471.28,85.85 481.73,89.73 487.42,83.99 477.09,80.25" fill="#ecc0c0" stroke="#ecc0c0" stroke-width="0.3" stroke-linejoin="round"/>
<text x="479.37" y="84.62" font-size="5.4" font-weight="bold" text-anchor="middle" fill="#1a1a1a" stroke="#1a1a1a" stroke-width="0.15">0.389</text>
<text x="479.37" y="90.52" font-size="5.4" font-weight="bold" text-anchor="middle" fill="#1a1a1a" stroke="#1a1a1a" stroke-width="0.15">0.252</text>
<polygon points="378.60,133.44 387.80,137.90 385.48,119.32 376.02,114.96" fill="#078807" stroke="#078807" stroke-width="0.3" stroke-linejoin="round"/>
<polygon points="387.80,137.90 395.12,131.34 393.07,112.89 385.48,119.32" fill="#046604" stroke="#046604" stroke-width="0.3" stroke-linejoin="round"/>
<polygon points="376.02,114.96 385.48,119.32 379.95,75.05 369.88,70.99" fill="#b2f066" stroke="#b2f066" stroke-width="0.3" stroke-linejoin="round"/>
<polygon points="385.48,119.32 393.07,112.89 388.20,69.03 379.95,75.05" fill="#aae660" stroke="#aae660" stroke-width="0.3" stroke-linejoin="round"/>
<polygon points="369.88,70.99 379.95,75.05 388.20,69.03 378.21,65.14" fill="#bff47c" stroke="#bff47c" stroke-width="0.3" stroke-linejoin="round"/>
<text x="379.07" y="69.71" font-size="5.4" font-weight="bold" text-anchor="middle" fill="#1a1a1a" stroke="#1a1a1a" stroke-width="0.15">0.734</text>
<text x="379.07" y="75.61" font-size="5.4" font-weight="bold" text-anchor="middle" fill="#1a1a1a" stroke="#1a1a1a" stroke-width="0.15">0.233</text>
<polygon points="418.69,131.60 428.36,136.02 424.68,69.22 413.96,65.24" fill="#6472f1" stroke="#6472f1" stroke-width="0.3" stroke-linejoin="round"/>
<polygon points="428.36,136.02 434.94,129.52 432.07,63.30 424.68,69.22" fill="#3e4ab4" stroke="#3e4ab4" stroke-width="0.3" stroke-linejoin="round"/>
<polygon points="413.96,65.24 424.68,69.22 424.57,67.20 413.82,63.23" fill="#bee8fa" stroke="#bee8fa" stroke-width="0.3" stroke-linejoin="round"/>
<polygon points="424.68,69.22 432.07,63.30 431.98,61.31 424.57,67.20" fill="#90aaba" stroke="#90aaba" stroke-width="0.3" stroke-linejoin="round"/>
<polygon points="413.82,63.23 424.57,67.20 431.98,61.31 421.34,57.49" fill="#cdeefc" stroke="#cdeefc" stroke-width="0.3" stroke-linejoin="round"/>
<text x="422.93" y="61.97" font-size="5.4" font-weight="bold" text-anchor="middle" fill="#1a1a1a" stroke="#1a1a1a" stroke-width="0.15">0.797</text>
<text x="422.93" y="67.87" font-size="5.4" font-weight="bold" text-anchor="middle" fill="#1a1a1a" stroke="#1a1a1a" stroke-width="0.15">0.776</text>
<polygon points="458.49,129.78 468.64,134.16 468.82,120.73 458.44,116.42" fill="#f26464" stroke="#f26464" stroke-width="0.3" stroke-linejoin="round"/>
<polygon points="468.64,134.16 474.48,127.71 474.79,114.38 468.82,120.73" fill="#c84e52" stroke="#c84e52" stroke-width="0.3" stroke-linejoin="round"/>
<polygon points="458.44,116.42 468.82,120.73 468.83,119.51 458.44,115.21" fill="#ffc2c2" stroke="#ffc2c2" stroke-width="0.3" stroke-linejoin="round"/>
<polygon points="468.82,120.73 474.79,114.38 474.82,113.17 468.83,119.51" fill="#cfa0a2" stroke="#cfa0a2" stroke-width="0.3" stroke-linejoin="round"/>
<polygon points="458.44,115.21 468.83,119.51 474.82,113.17 464.53,109.03" fill="#ecc0c0" stroke="#ecc0c0" stroke-width="0.3" stroke-linejoin="round"/>
<text x="466.65" y="113.89" font-size="5.4" font-weight="bold" text-anchor="middle" fill="#1a1a1a" stroke="#1a1a1a" stroke-width="0.15">0.185</text>
<text x="466.65" y="119.79" font-size="5.4" font-weight="bold" text-anchor="middle" fill="#1a1a1a" stroke="#1a1a1a" stroke-width="0.15">0.170</text>
<polygon points="403.88,145.69 413.74,150.47 411.83,127.24 401.60,122.59" fill="#6472f1" stroke="#6472f1" stroke-width="0.3" stroke-linejoin="round"/>
<polygon points="413.74,150.47 420.84,143.45 419.25,120.39 411.83,127.24" fill="#3e4ab4" stroke="#3e4ab4" stroke-width="0.3" stroke-linejoin="round"/>
<polygon points="401.60,122.59 411.83,127.24 407.96,80.20 396.99,75.86" fill="#bee8fa" stroke="#bee8fa" stroke-width="0.3" stroke-linejoin="round"/>
<polygon points="411.83,127.24 419.25,120.39 416.04,73.78 407.96,80.20" fill="#90aaba" stroke="#90aaba" stroke-width="0.3" stroke-linejoin="round"/>
<polygon points="396.99,75.86 407.96,80.20 416.04,73.78 405.17,69.62" fill="#cdeefc" stroke="#cdeefc" stroke-width="0.3" stroke-linejoin="round"/>
<text x="406.54" y="74.52" font-size="5.4" font-weight="bold" text-anchor="middle" fill="#1a1a1a" stroke="#1a1a1a" stroke-width="0.15">0.799</text>
<text x="406.54" y="80.42" font-size="5.4" font-weight="bold" text-anchor="middle" fill="#1a1a1a" stroke="#1a1a1a" stroke-width="0.15">0.285</text>
<polygon points="445.27,143.74 455.64,148.48 455.55,138.36 445.00,133.68" fill="#f26464" stroke="#f26464" stroke-width="0.3" stroke-linejoin="round"/>
<polygon points="455.64,148.48 461.95,141.53 461.97,131.48 455.55,138.36" fill="#c84e52" stroke="#c84e52" stroke-width="0.3" stroke-linejoin="round"/>
<polygon points="445.00,133.68 455.55,138.36 455.53,136.33 444.95,131.65" fill="#ffc2c2" stroke="#ffc2c2" stroke-width="0.3" stroke-linejoin="round"/>
<polygon points="455.55,138.36 461.97,131.48 461.98,129.46 455.53,136.33" fill="#cfa0a2" stroke="#cfa0a2" stroke-width="0.3" stroke-linejoin="round"/>
<polygon points="444.95,131.65 455.53,136.33 461.98,129.46 451.50,124.96" fill="#ecc0c0" stroke="#ecc0c0" stroke-width="0.3" stroke-linejoin="round"/>
<text x="453.49" y="130.25" font-size="5.4" font-weight="bold" text-anchor="middle" fill="#1a1a1a" stroke="#1a1a1a" stroke-width="0.15">0.152</text>
<text x="453.49" y="136.15" font-size="5.4" font-weight="bold" text-anchor="middle" fill="#1a1a1a" stroke="#1a1a1a" stroke-width="0.15">0.127</text>
<polygon points="430.99,158.84 441.58,163.97 441.20,152.81 430.40,147.73" fill="#f26464" stroke="#f26464" stroke-width="0.3" stroke-linejoin="round"/>
<polygon points="441.58,163.97 448.41,156.44 448.17,145.35 441.20,152.81" fill="#c84e52" stroke="#c84e52" stroke-width="0.3" stroke-linejoin="round"/>
<polygon points="430.40,147.73 441.20,152.81 441.06,148.66 430.18,143.60" fill="#ffc2c2" stroke="#ffc2c2" stroke-width="0.3" stroke-linejoin="round"/>
<polygon points="441.20,152.81 448.17,145.35 448.08,141.23 441.06,148.66" fill="#cfa0a2" stroke="#cfa0a2" stroke-width="0.3" stroke-linejoin="round"/>
<polygon points="430.18,143.60 441.06,148.66 448.08,141.23 437.32,136.36" fill="#ecc0c0" stroke="#ecc0c0" stroke-width="0.3" stroke-linejoin="round"/>
<text x="439.16" y="142.11" font-size="5.4" font-weight="bold" text-anchor="middle" fill="#1a1a1a" stroke="#1a1a1a" stroke-width="0.15">0.188</text>
<text x="439.16" y="148.01" font-size="5.4" font-weight="bold" text-anchor="middle" fill="#1a1a1a" stroke="#1a1a1a" stroke-width="0.15">0.138</text>
<text x="373.61" y="143.52" font-size="4.8" font-weight="bold" text-anchor="middle" dominant-baseline="central" fill="#222" stroke="#222" stroke-width="0.28" transform="rotate(-42.0 373.61 143.52)">RF</text>
<text x="398.73" y="157.49" font-size="4.8" font-weight="bold" text-anchor="middle" dominant-baseline="central" fill="#222" stroke="#222" stroke-width="0.28" transform="rotate(-42.0 398.73 157.49)">ETr</text>
<text x="426.95" y="170.20" font-size="4.8" font-weight="bold" text-anchor="middle" dominant-baseline="central" fill="#222" stroke="#222" stroke-width="0.28" transform="rotate(-42.0 426.95 170.20)">LR</text>
<text x="381.63" y="157.89" font-size="5.75" font-weight="bold" text-anchor="middle" dominant-baseline="central" fill="#222" stroke="#222" stroke-width="0.28" transform="rotate(28.0 381.63 157.89)">Machine learning algorithm</text>
<text x="456.65" y="167.13" font-size="5.1" font-weight="bold" text-anchor="start" dominant-baseline="central" fill="#222" stroke="#222" stroke-width="0.28" transform="rotate(20.0 456.65 167.13)">End</text>
<text x="470.24" y="151.59" font-size="5.1" font-weight="bold" text-anchor="start" dominant-baseline="central" fill="#222" stroke="#222" stroke-width="0.28" transform="rotate(20.0 470.24 151.59)">Late</text>
<text x="482.80" y="137.22" font-size="5.1" font-weight="bold" text-anchor="start" dominant-baseline="central" fill="#222" stroke="#222" stroke-width="0.28" transform="rotate(20.0 482.80 137.22)">Middle</text>
<text x="494.45" y="123.90" font-size="5.1" font-weight="bold" text-anchor="start" dominant-baseline="central" fill="#222" stroke="#222" stroke-width="0.28" transform="rotate(20.0 494.45 123.90)">Early</text>
<text x="496.54" y="153.17" font-size="5.0" font-weight="bold" text-anchor="middle" dominant-baseline="central" fill="#222" stroke="#222" stroke-width="0.28" transform="rotate(-48.0 496.54 153.17)">Growth Stages</text>
<text x="349.24" y="104.60" font-size="5.4" font-weight="bold" font-style="italic" fill="#222" stroke="#222" stroke-width="0.15" text-anchor="middle" dominant-baseline="central" transform="rotate(-45 349.24 104.60)">R<tspan font-size="3.4" dy="-2">2</tspan></text>
<text x="349.50" y="30.50" font-size="11" font-weight="bold" text-anchor="start" fill="#111">(c)</text>
<line x1="34.47" y1="305.17" x2="23.29" y2="224.53" stroke="#e2e2e2" stroke-width="0.45"/>
<line x1="34.47" y1="305.17" x2="113.18" y2="343.12" stroke="#eeeeee" stroke-width="0.45"/>
<line x1="42.13" y1="298.69" x2="32.20" y2="218.84" stroke="#e2e2e2" stroke-width="0.45"/>
<line x1="42.13" y1="298.69" x2="120.10" y2="335.18" stroke="#eeeeee" stroke-width="0.45"/>
<line x1="49.53" y1="292.44" x2="40.75" y2="213.38" stroke="#e2e2e2" stroke-width="0.45"/>
<line x1="49.53" y1="292.44" x2="126.75" y2="327.56" stroke="#eeeeee" stroke-width="0.45"/>
<line x1="56.66" y1="286.41" x2="48.97" y2="208.13" stroke="#e2e2e2" stroke-width="0.45"/>
<line x1="56.66" y1="286.41" x2="133.15" y2="320.22" stroke="#eeeeee" stroke-width="0.45"/>
<line x1="63.56" y1="280.59" x2="56.87" y2="203.09" stroke="#e2e2e2" stroke-width="0.45"/>
<line x1="63.56" y1="280.59" x2="139.30" y2="313.16" stroke="#eeeeee" stroke-width="0.45"/>
<line x1="70.22" y1="274.96" x2="64.47" y2="198.23" stroke="#e2e2e2" stroke-width="0.45"/>
<line x1="70.22" y1="274.96" x2="145.23" y2="306.37" stroke="#eeeeee" stroke-width="0.45"/>
<line x1="76.66" y1="269.52" x2="71.80" y2="193.56" stroke="#e2e2e2" stroke-width="0.45"/>
<line x1="76.66" y1="269.52" x2="150.94" y2="299.82" stroke="#eeeeee" stroke-width="0.45"/>
<line x1="94.23" y1="268.77" x2="91.49" y2="192.85" stroke="#e2e2e2" stroke-width="0.45"/>
<line x1="117.97" y1="278.21" x2="118.09" y2="200.83" stroke="#e2e2e2" stroke-width="0.45"/>
<line x1="143.21" y1="288.24" x2="146.59" y2="209.39" stroke="#e2e2e2" stroke-width="0.45"/>
<line x1="38.62" y1="317.90" x2="94.23" y2="268.77" stroke="#eeeeee" stroke-width="0.45"/>
<line x1="51.15" y1="324.13" x2="105.92" y2="273.42" stroke="#eeeeee" stroke-width="0.45"/>
<line x1="64.12" y1="330.58" x2="117.97" y2="278.21" stroke="#eeeeee" stroke-width="0.45"/>
<line x1="77.56" y1="337.26" x2="130.39" y2="283.15" stroke="#eeeeee" stroke-width="0.45"/>
<line x1="91.50" y1="344.20" x2="143.21" y2="288.24" stroke="#eeeeee" stroke-width="0.45"/>
<line x1="24.14" y1="296.43" x2="82.11" y2="249.78" stroke="#e2e2e2" stroke-width="0.45"/>
<line x1="82.11" y1="249.78" x2="157.44" y2="278.32" stroke="#e2e2e2" stroke-width="0.45"/>
<line x1="21.64" y1="280.15" x2="81.30" y2="234.62" stroke="#e2e2e2" stroke-width="0.45"/>
<line x1="81.30" y1="234.62" x2="158.47" y2="262.35" stroke="#e2e2e2" stroke-width="0.45"/>
<line x1="18.99" y1="262.96" x2="80.44" y2="218.74" stroke="#e2e2e2" stroke-width="0.45"/>
<line x1="80.44" y1="218.74" x2="159.56" y2="245.55" stroke="#e2e2e2" stroke-width="0.45"/>
<line x1="16.20" y1="244.79" x2="79.55" y2="202.09" stroke="#e2e2e2" stroke-width="0.45"/>
<line x1="79.55" y1="202.09" x2="160.72" y2="227.83" stroke="#e2e2e2" stroke-width="0.45"/>
<line x1="14.00" y1="230.47" x2="78.85" y2="189.05" stroke="#a0a0a0" stroke-width="0.6"/>
<line x1="78.85" y1="189.05" x2="161.62" y2="213.90" stroke="#a0a0a0" stroke-width="0.6"/>
<line x1="161.62" y1="213.90" x2="156.45" y2="293.51" stroke="#a0a0a0" stroke-width="0.6"/>
<line x1="82.89" y1="264.26" x2="78.85" y2="189.05" stroke="#a0a0a0" stroke-width="0.5"/>
<line x1="26.52" y1="311.89" x2="82.89" y2="264.26" stroke="#a0a0a0" stroke-width="0.5"/>
<line x1="82.89" y1="264.26" x2="156.45" y2="293.51" stroke="#a0a0a0" stroke-width="0.5"/>
<line x1="26.52" y1="311.89" x2="14.00" y2="230.47" stroke="#555" stroke-width="0.7"/>
<line x1="26.52" y1="311.89" x2="105.96" y2="351.39" stroke="#555" stroke-width="0.7"/>
<line x1="105.96" y1="351.39" x2="156.45" y2="293.51" stroke="#555" stroke-width="0.7"/>
<line x1="26.52" y1="311.89" x2="25.02" y2="312.19" stroke="#555" stroke-width="0.6"/>
<text x="21.92" y="315.69" font-size="4.7" font-weight="bold" text-anchor="middle" dominant-baseline="central" fill="#222" stroke="#222" stroke-width="0.15" transform="rotate(-47.0 21.92 315.69)">0.0</text>
<line x1="24.14" y1="296.43" x2="22.64" y2="296.73" stroke="#555" stroke-width="0.6"/>
<text x="19.54" y="300.23" font-size="4.7" font-weight="bold" text-anchor="middle" dominant-baseline="central" fill="#222" stroke="#222" stroke-width="0.15" transform="rotate(-47.0 19.54 300.23)">0.2</text>
<line x1="21.64" y1="280.15" x2="20.14" y2="280.45" stroke="#555" stroke-width="0.6"/>
<text x="17.04" y="283.95" font-size="4.7" font-weight="bold" text-anchor="middle" dominant-baseline="central" fill="#222" stroke="#222" stroke-width="0.15" transform="rotate(-47.0 17.04 283.95)">0.4</text>
<line x1="18.99" y1="262.96" x2="17.49" y2="263.26" stroke="#555" stroke-width="0.6"/>
<text x="14.39" y="266.76" font-size="4.7" font-weight="bold" text-anchor="middle" dominant-baseline="central" fill="#222" stroke="#222" stroke-width="0.15" transform="rotate(-47.0 14.39 266.76)">0.6</text>
<line x1="16.20" y1="244.79" x2="14.70" y2="245.09" stroke="#555" stroke-width="0.6"/>
<text x="11.60" y="248.59" font-size="4.7" font-weight="bold" text-anchor="middle" dominant-baseline="central" fill="#222" stroke="#222" stroke-width="0.15" transform="rotate(-47.0 11.60 248.59)">0.8</text>
<line x1="38.62" y1="317.90" x2="37.72" y2="319.40" stroke="#555" stroke-width="0.6"/>
<line x1="64.12" y1="330.58" x2="63.22" y2="332.08" stroke="#555" stroke-width="0.6"/>
<line x1="91.50" y1="344.20" x2="90.60" y2="345.70" stroke="#555" stroke-width="0.6"/>
<line x1="113.18" y1="343.12" x2="114.68" y2="344.02" stroke="#555" stroke-width="0.6"/>
<line x1="126.75" y1="327.56" x2="128.25" y2="328.46" stroke="#555" stroke-width="0.6"/>
<line x1="139.30" y1="313.16" x2="140.80" y2="314.06" stroke="#555" stroke-width="0.6"/>
<line x1="150.94" y1="299.82" x2="152.44" y2="300.72" stroke="#555" stroke-width="0.6"/>
<polygon points="80.79,275.05 89.47,278.63 87.85,242.22 78.69,238.86" fill="#078807" stroke="#078807" stroke-width="0.3" stroke-linejoin="round"/>
<polygon points="89.47,278.63 95.37,273.33 94.12,237.22 87.85,242.22" fill="#046604" stroke="#046604" stroke-width="0.3" stroke-linejoin="round"/>
<polygon points="78.69,238.86 87.85,242.22 86.51,211.95 76.95,208.82" fill="#b2f066" stroke="#b2f066" stroke-width="0.3" stroke-linejoin="round"/>
<polygon points="87.85,242.22 94.12,237.22 93.09,207.26 86.51,211.95" fill="#aae660" stroke="#aae660" stroke-width="0.3" stroke-linejoin="round"/>
<polygon points="76.95,208.82 86.51,211.95 93.09,207.26 83.61,204.25" fill="#bff47c" stroke="#bff47c" stroke-width="0.3" stroke-linejoin="round"/>
<text x="85.04" y="207.74" font-size="5.4" font-weight="bold" text-anchor="middle" fill="#1a1a1a" stroke="#1a1a1a" stroke-width="0.15">0.814</text>
<text x="85.04" y="213.64" font-size="5.4" font-weight="bold" text-anchor="middle" fill="#1a1a1a" stroke="#1a1a1a" stroke-width="0.15">0.465</text>
<polygon points="67.60,286.51 76.42,290.36 71.52,216.76 61.71,213.42" fill="#078807" stroke="#078807" stroke-width="0.3" stroke-linejoin="round"/>
<polygon points="76.42,290.36 82.74,284.68 78.68,211.76 71.52,216.76" fill="#046604" stroke="#046604" stroke-width="0.3" stroke-linejoin="round"/>
<polygon points="61.71,213.42 71.52,216.76 71.26,212.86 61.40,209.56" fill="#b2f066" stroke="#b2f066" stroke-width="0.3" stroke-linejoin="round"/>
<polygon points="71.52,216.76 78.68,211.76 78.47,207.91 71.26,212.86" fill="#aae660" stroke="#aae660" stroke-width="0.3" stroke-linejoin="round"/>
<polygon points="61.40,209.56 71.26,212.86 78.47,207.91 68.69,204.73" fill="#bff47c" stroke="#bff47c" stroke-width="0.3" stroke-linejoin="round"/>
<text x="69.96" y="208.43" font-size="5.4" font-weight="bold" text-anchor="middle" fill="#1a1a1a" stroke="#1a1a1a" stroke-width="0.15">0.915</text>
<text x="69.96" y="214.33" font-size="5.4" font-weight="bold" text-anchor="middle" fill="#1a1a1a" stroke="#1a1a1a" stroke-width="0.15">0.874</text>
<polygon points="104.58,284.87 113.81,288.69 113.50,229.55 103.39,226.13" fill="#6472f1" stroke="#6472f1" stroke-width="0.3" stroke-linejoin="round"/>
<polygon points="113.81,288.69 119.50,283.05 119.73,224.44 113.50,229.55" fill="#3e4ab4" stroke="#3e4ab4" stroke-width="0.3" stroke-linejoin="round"/>
<polygon points="103.39,226.13 113.50,229.55 113.45,220.58 103.21,217.23" fill="#bee8fa" stroke="#bee8fa" stroke-width="0.3" stroke-linejoin="round"/>
<polygon points="113.50,229.55 119.73,224.44 119.77,215.57 113.45,220.58" fill="#90aaba" stroke="#90aaba" stroke-width="0.3" stroke-linejoin="round"/>
<polygon points="103.21,217.23 113.45,220.58 119.77,215.57 109.63,212.35" fill="#cdeefc" stroke="#cdeefc" stroke-width="0.3" stroke-linejoin="round"/>
<text x="111.51" y="216.10" font-size="5.4" font-weight="bold" text-anchor="middle" fill="#1a1a1a" stroke="#1a1a1a" stroke-width="0.15">0.816</text>
<text x="111.51" y="222.00" font-size="5.4" font-weight="bold" text-anchor="middle" fill="#1a1a1a" stroke="#1a1a1a" stroke-width="0.15">0.718</text>
<polygon points="53.45,298.81 62.42,302.94 56.83,241.71 47.02,237.98" fill="#078807" stroke="#078807" stroke-width="0.3" stroke-linejoin="round"/>
<polygon points="62.42,302.94 69.21,296.84 64.41,236.15 56.83,241.71" fill="#046604" stroke="#046604" stroke-width="0.3" stroke-linejoin="round"/>
<polygon points="47.02,237.98 56.83,241.71 55.72,229.63 45.75,225.99" fill="#b2f066" stroke="#b2f066" stroke-width="0.3" stroke-linejoin="round"/>
<polygon points="56.83,241.71 64.41,236.15 63.46,224.20 55.72,229.63" fill="#aae660" stroke="#aae660" stroke-width="0.3" stroke-linejoin="round"/>
<polygon points="45.75,225.99 55.72,229.63 63.46,224.20 53.57,220.70" fill="#bff47c" stroke="#bff47c" stroke-width="0.3" stroke-linejoin="round"/>
<text x="54.63" y="224.79" font-size="5.4" font-weight="bold" text-anchor="middle" fill="#1a1a1a" stroke="#1a1a1a" stroke-width="0.15">0.856</text>
<text x="54.63" y="230.69" font-size="5.4" font-weight="bold" text-anchor="middle" fill="#1a1a1a" stroke="#1a1a1a" stroke-width="0.15">0.728</text>
<polygon points="91.81,297.06 101.22,301.16 99.50,235.80 89.09,232.13" fill="#6472f1" stroke="#6472f1" stroke-width="0.3" stroke-linejoin="round"/>
<polygon points="101.22,301.16 107.33,295.11 106.29,230.33 99.50,235.80" fill="#3e4ab4" stroke="#3e4ab4" stroke-width="0.3" stroke-linejoin="round"/>
<polygon points="89.09,232.13 99.50,235.80 99.26,226.67 88.72,223.08" fill="#bee8fa" stroke="#bee8fa" stroke-width="0.3" stroke-linejoin="round"/>
<polygon points="99.50,235.80 106.29,230.33 106.14,221.30 99.26,226.67" fill="#90aaba" stroke="#90aaba" stroke-width="0.3" stroke-linejoin="round"/>
<polygon points="88.72,223.08 99.26,226.67 106.14,221.30 95.71,217.85" fill="#cdeefc" stroke="#cdeefc" stroke-width="0.3" stroke-linejoin="round"/>
<text x="97.45" y="221.89" font-size="5.4" font-weight="bold" text-anchor="middle" fill="#1a1a1a" stroke="#1a1a1a" stroke-width="0.15">0.869</text>
<text x="97.45" y="227.79" font-size="5.4" font-weight="bold" text-anchor="middle" fill="#1a1a1a" stroke="#1a1a1a" stroke-width="0.15">0.773</text>
<polygon points="129.90,295.33 139.75,299.40 140.22,286.79 130.17,282.80" fill="#f26464" stroke="#f26464" stroke-width="0.3" stroke-linejoin="round"/>
<polygon points="139.75,299.40 145.18,293.40 145.76,280.89 140.22,286.79" fill="#c84e52" stroke="#c84e52" stroke-width="0.3" stroke-linejoin="round"/>
<polygon points="130.17,282.80 140.22,286.79 140.79,271.90 130.48,268.00" fill="#ffc2c2" stroke="#ffc2c2" stroke-width="0.3" stroke-linejoin="round"/>
<polygon points="140.22,286.79 145.76,280.89 146.44,266.12 140.79,271.90" fill="#cfa0a2" stroke="#cfa0a2" stroke-width="0.3" stroke-linejoin="round"/>
<polygon points="130.48,268.00 140.79,271.90 146.44,266.12 136.25,262.36" fill="#ecc0c0" stroke="#ecc0c0" stroke-width="0.3" stroke-linejoin="round"/>
<text x="138.48" y="266.76" font-size="5.4" font-weight="bold" text-anchor="middle" fill="#1a1a1a" stroke="#1a1a1a" stroke-width="0.15">0.345</text>
<text x="138.48" y="272.66" font-size="5.4" font-weight="bold" text-anchor="middle" fill="#1a1a1a" stroke="#1a1a1a" stroke-width="0.15">0.162</text>
<polygon points="38.24,312.02 47.37,316.48 42.82,278.39 33.18,274.16" fill="#078807" stroke="#078807" stroke-width="0.3" stroke-linejoin="round"/>
<polygon points="47.37,316.48 54.67,309.91 50.68,272.12 42.82,278.39" fill="#046604" stroke="#046604" stroke-width="0.3" stroke-linejoin="round"/>
<polygon points="33.18,274.16 42.82,278.39 39.19,247.91 29.12,243.89" fill="#b2f066" stroke="#b2f066" stroke-width="0.3" stroke-linejoin="round"/>
<polygon points="42.82,278.39 50.68,272.12 47.50,241.94 39.19,247.91" fill="#aae660" stroke="#aae660" stroke-width="0.3" stroke-linejoin="round"/>
<polygon points="29.12,243.89 39.19,247.91 47.50,241.94 37.52,238.08" fill="#bff47c" stroke="#bff47c" stroke-width="0.3" stroke-linejoin="round"/>
<text x="38.34" y="242.61" font-size="5.4" font-weight="bold" text-anchor="middle" fill="#1a1a1a" stroke="#1a1a1a" stroke-width="0.15">0.793</text>
<text x="38.34" y="248.51" font-size="5.4" font-weight="bold" text-anchor="middle" fill="#1a1a1a" stroke="#1a1a1a" stroke-width="0.15">0.462</text>
<polygon points="78.09,310.16 87.68,314.58 84.10,243.06 73.40,239.11" fill="#6472f1" stroke="#6472f1" stroke-width="0.3" stroke-linejoin="round"/>
<polygon points="87.68,314.58 94.25,308.07 91.53,237.18 84.10,243.06" fill="#3e4ab4" stroke="#3e4ab4" stroke-width="0.3" stroke-linejoin="round"/>
<polygon points="73.40,239.11 84.10,243.06 84.07,242.57 73.37,238.63" fill="#bee8fa" stroke="#bee8fa" stroke-width="0.3" stroke-linejoin="round"/>
<polygon points="84.10,243.06 91.53,237.18 91.51,236.70 84.07,242.57" fill="#90aaba" stroke="#90aaba" stroke-width="0.3" stroke-linejoin="round"/>
<polygon points="73.37,238.63 84.07,242.57 91.51,236.70 80.91,232.91" fill="#cdeefc" stroke="#cdeefc" stroke-width="0.3" stroke-linejoin="round"/>
<text x="82.46" y="237.36" font-size="5.4" font-weight="bold" text-anchor="middle" fill="#1a1a1a" stroke="#1a1a1a" stroke-width="0.15">0.829</text>
<text x="82.46" y="243.26" font-size="5.4" font-weight="bold" text-anchor="middle" fill="#1a1a1a" stroke="#1a1a1a" stroke-width="0.15">0.824</text>
<polygon points="117.65,308.32 127.71,312.70 128.63,261.78 117.70,257.72" fill="#f26464" stroke="#f26464" stroke-width="0.3" stroke-linejoin="round"/>
<polygon points="127.71,312.70 133.55,306.25 134.95,255.75 128.63,261.78" fill="#c84e52" stroke="#c84e52" stroke-width="0.3" stroke-linejoin="round"/>
<polygon points="117.70,257.72 128.63,261.78 128.88,248.17 117.71,244.21" fill="#ffc2c2" stroke="#ffc2c2" stroke-width="0.3" stroke-linejoin="round"/>
<polygon points="128.63,261.78 134.95,255.75 135.33,242.28 128.88,248.17" fill="#cfa0a2" stroke="#cfa0a2" stroke-width="0.3" stroke-linejoin="round"/>
<polygon points="117.71,244.21 128.88,248.17 135.33,242.28 124.29,238.47" fill="#ecc0c0" stroke="#ecc0c0" stroke-width="0.3" stroke-linejoin="round"/>
<text x="126.55" y="242.94" font-size="5.4" font-weight="bold" text-anchor="middle" fill="#1a1a1a" stroke="#1a1a1a" stroke-width="0.15">0.752</text>
<text x="126.55" y="248.84" font-size="5.4" font-weight="bold" text-anchor="middle" fill="#1a1a1a" stroke="#1a1a1a" stroke-width="0.15">0.606</text>
<polygon points="63.30,324.28 73.08,329.06 68.02,263.31 57.21,258.94" fill="#6472f1" stroke="#6472f1" stroke-width="0.3" stroke-linejoin="round"/>
<polygon points="73.08,329.06 80.17,322.03 76.02,256.83 68.02,263.31" fill="#3e4ab4" stroke="#3e4ab4" stroke-width="0.3" stroke-linejoin="round"/>
<polygon points="57.21,258.94 68.02,263.31 67.56,257.31 56.66,252.99" fill="#bee8fa" stroke="#bee8fa" stroke-width="0.3" stroke-linejoin="round"/>
<polygon points="68.02,263.31 76.02,256.83 75.64,250.89 67.56,257.31" fill="#90aaba" stroke="#90aaba" stroke-width="0.3" stroke-linejoin="round"/>
<polygon points="56.66,252.99 67.56,257.31 75.64,250.89 64.84,246.75" fill="#cdeefc" stroke="#cdeefc" stroke-width="0.3" stroke-linejoin="round"/>
<text x="66.18" y="251.64" font-size="5.4" font-weight="bold" text-anchor="middle" fill="#1a1a1a" stroke="#1a1a1a" stroke-width="0.15">0.813</text>
<text x="66.18" y="257.54" font-size="5.4" font-weight="bold" text-anchor="middle" fill="#1a1a1a" stroke="#1a1a1a" stroke-width="0.15">0.752</text>
<polygon points="104.44,322.31 114.73,327.05 114.65,307.93 104.03,303.29" fill="#f26464" stroke="#f26464" stroke-width="0.3" stroke-linejoin="round"/>
<polygon points="114.73,327.05 121.03,320.08 121.16,301.10 114.65,307.93" fill="#c84e52" stroke="#c84e52" stroke-width="0.3" stroke-linejoin="round"/>
<polygon points="104.03,303.29 114.65,307.93 114.65,307.18 104.01,302.54" fill="#ffc2c2" stroke="#ffc2c2" stroke-width="0.3" stroke-linejoin="round"/>
<polygon points="114.65,307.93 121.16,301.10 121.17,300.35 114.65,307.18" fill="#cfa0a2" stroke="#cfa0a2" stroke-width="0.3" stroke-linejoin="round"/>
<polygon points="104.01,302.54 114.65,307.18 121.17,300.35 110.65,295.89" fill="#ecc0c0" stroke="#ecc0c0" stroke-width="0.3" stroke-linejoin="round"/>
<text x="112.61" y="301.15" font-size="5.4" font-weight="bold" text-anchor="middle" fill="#1a1a1a" stroke="#1a1a1a" stroke-width="0.15">0.245</text>
<text x="112.61" y="307.05" font-size="5.4" font-weight="bold" text-anchor="middle" fill="#1a1a1a" stroke="#1a1a1a" stroke-width="0.15">0.236</text>
<polygon points="90.18,337.42 100.69,342.56 99.71,309.08 88.59,304.11" fill="#f26464" stroke="#f26464" stroke-width="0.3" stroke-linejoin="round"/>
<polygon points="100.69,342.56 107.51,335.02 106.95,301.77 99.71,309.08" fill="#c84e52" stroke="#c84e52" stroke-width="0.3" stroke-linejoin="round"/>
<polygon points="88.59,304.11 99.71,309.08 99.66,307.65 88.53,302.69" fill="#ffc2c2" stroke="#ffc2c2" stroke-width="0.3" stroke-linejoin="round"/>
<polygon points="99.71,309.08 106.95,301.77 106.93,300.35 99.66,307.65" fill="#cfa0a2" stroke="#cfa0a2" stroke-width="0.3" stroke-linejoin="round"/>
<polygon points="88.53,302.69 99.66,307.65 106.93,300.35 95.91,295.60" fill="#ecc0c0" stroke="#ecc0c0" stroke-width="0.3" stroke-linejoin="round"/>
<text x="97.75" y="301.22" font-size="5.4" font-weight="bold" text-anchor="middle" fill="#1a1a1a" stroke="#1a1a1a" stroke-width="0.15">0.414</text>
<text x="97.75" y="307.12" font-size="5.4" font-weight="bold" text-anchor="middle" fill="#1a1a1a" stroke="#1a1a1a" stroke-width="0.15">0.398</text>
<text x="33.22" y="322.10" font-size="4.8" font-weight="bold" text-anchor="middle" dominant-baseline="central" fill="#222" stroke="#222" stroke-width="0.28" transform="rotate(-42.0 33.22 322.10)">RF</text>
<text x="58.12" y="336.08" font-size="4.8" font-weight="bold" text-anchor="middle" dominant-baseline="central" fill="#222" stroke="#222" stroke-width="0.28" transform="rotate(-42.0 58.12 336.08)">ETr</text>
<text x="86.10" y="348.80" font-size="4.8" font-weight="bold" text-anchor="middle" dominant-baseline="central" fill="#222" stroke="#222" stroke-width="0.28" transform="rotate(-42.0 86.10 348.80)">LR</text>
<text x="41.02" y="336.48" font-size="5.75" font-weight="bold" text-anchor="middle" dominant-baseline="central" fill="#222" stroke="#222" stroke-width="0.28" transform="rotate(28.0 41.02 336.48)">Machine learning algorithm</text>
<text x="115.68" y="345.72" font-size="5.1" font-weight="bold" text-anchor="start" dominant-baseline="central" fill="#222" stroke="#222" stroke-width="0.28" transform="rotate(20.0 115.68 345.72)">End</text>
<text x="129.25" y="330.16" font-size="5.1" font-weight="bold" text-anchor="start" dominant-baseline="central" fill="#222" stroke="#222" stroke-width="0.28" transform="rotate(20.0 129.25 330.16)">Late</text>
<text x="141.80" y="315.76" font-size="5.1" font-weight="bold" text-anchor="start" dominant-baseline="central" fill="#222" stroke="#222" stroke-width="0.28" transform="rotate(20.0 141.80 315.76)">Middle</text>
<text x="153.44" y="302.42" font-size="5.1" font-weight="bold" text-anchor="start" dominant-baseline="central" fill="#222" stroke="#222" stroke-width="0.28" transform="rotate(20.0 153.44 302.42)">Early</text>
<text x="155.55" y="331.72" font-size="5.0" font-weight="bold" text-anchor="middle" dominant-baseline="central" fill="#222" stroke="#222" stroke-width="0.28" transform="rotate(-48.0 155.55 331.72)">Growth Stages</text>
<text x="9.14" y="283.15" font-size="5.4" font-weight="bold" font-style="italic" fill="#222" stroke="#222" stroke-width="0.15" text-anchor="middle" dominant-baseline="central" transform="rotate(-45 9.14 283.15)">R<tspan font-size="3.4" dy="-2">2</tspan></text>
<text x="21.30" y="199.80" font-size="11" font-weight="bold" text-anchor="start" fill="#111">(d)</text>
<line x1="206.86" y1="309.14" x2="195.24" y2="225.90" stroke="#e2e2e2" stroke-width="0.45"/>
<line x1="206.86" y1="309.14" x2="288.39" y2="348.43" stroke="#eeeeee" stroke-width="0.45"/>
<line x1="214.80" y1="302.47" x2="204.47" y2="220.04" stroke="#e2e2e2" stroke-width="0.45"/>
<line x1="214.80" y1="302.47" x2="295.56" y2="340.24" stroke="#eeeeee" stroke-width="0.45"/>
<line x1="222.45" y1="296.03" x2="213.32" y2="214.42" stroke="#e2e2e2" stroke-width="0.45"/>
<line x1="222.45" y1="296.03" x2="302.44" y2="332.38" stroke="#eeeeee" stroke-width="0.45"/>
<line x1="229.84" y1="289.82" x2="221.83" y2="209.01" stroke="#e2e2e2" stroke-width="0.45"/>
<line x1="229.84" y1="289.82" x2="309.07" y2="324.82" stroke="#eeeeee" stroke-width="0.45"/>
<line x1="236.97" y1="283.82" x2="230.02" y2="203.82" stroke="#e2e2e2" stroke-width="0.45"/>
<line x1="236.97" y1="283.82" x2="315.44" y2="317.55" stroke="#eeeeee" stroke-width="0.45"/>
<line x1="243.87" y1="278.02" x2="237.89" y2="198.82" stroke="#e2e2e2" stroke-width="0.45"/>
<line x1="243.87" y1="278.02" x2="321.57" y2="310.54" stroke="#eeeeee" stroke-width="0.45"/>
<line x1="250.54" y1="272.41" x2="245.47" y2="194.00" stroke="#e2e2e2" stroke-width="0.45"/>
<line x1="250.54" y1="272.41" x2="327.49" y2="303.79" stroke="#eeeeee" stroke-width="0.45"/>
<line x1="268.74" y1="271.66" x2="265.87" y2="193.30" stroke="#e2e2e2" stroke-width="0.45"/>
<line x1="293.33" y1="281.44" x2="293.42" y2="201.58" stroke="#e2e2e2" stroke-width="0.45"/>
<line x1="319.48" y1="291.83" x2="322.94" y2="210.45" stroke="#e2e2e2" stroke-width="0.45"/>
<line x1="211.16" y1="322.29" x2="268.74" y2="271.66" stroke="#eeeeee" stroke-width="0.45"/>
<line x1="224.14" y1="328.74" x2="280.85" y2="276.47" stroke="#eeeeee" stroke-width="0.45"/>
<line x1="237.58" y1="335.42" x2="293.33" y2="281.44" stroke="#eeeeee" stroke-width="0.45"/>
<line x1="251.50" y1="342.33" x2="306.20" y2="286.55" stroke="#eeeeee" stroke-width="0.45"/>
<line x1="265.94" y1="349.51" x2="319.48" y2="291.83" stroke="#eeeeee" stroke-width="0.45"/>
<line x1="196.16" y1="300.11" x2="256.18" y2="252.04" stroke="#e2e2e2" stroke-width="0.45"/>
<line x1="256.18" y1="252.04" x2="334.20" y2="281.61" stroke="#e2e2e2" stroke-width="0.45"/>
<line x1="193.56" y1="283.30" x2="255.33" y2="236.40" stroke="#e2e2e2" stroke-width="0.45"/>
<line x1="255.33" y1="236.40" x2="335.27" y2="265.13" stroke="#e2e2e2" stroke-width="0.45"/>
<line x1="190.81" y1="265.55" x2="254.44" y2="220.01" stroke="#e2e2e2" stroke-width="0.45"/>
<line x1="254.44" y1="220.01" x2="336.39" y2="247.79" stroke="#e2e2e2" stroke-width="0.45"/>
<line x1="187.91" y1="246.80" x2="253.50" y2="202.82" stroke="#e2e2e2" stroke-width="0.45"/>
<line x1="253.50" y1="202.82" x2="337.58" y2="229.50" stroke="#e2e2e2" stroke-width="0.45"/>
<line x1="185.62" y1="232.01" x2="252.77" y2="189.36" stroke="#a0a0a0" stroke-width="0.6"/>
<line x1="252.77" y1="189.36" x2="338.51" y2="215.13" stroke="#a0a0a0" stroke-width="0.6"/>
<line x1="338.51" y1="215.13" x2="333.19" y2="297.28" stroke="#a0a0a0" stroke-width="0.6"/>
<line x1="256.99" y1="266.99" x2="252.77" y2="189.36" stroke="#a0a0a0" stroke-width="0.5"/>
<line x1="198.63" y1="316.07" x2="256.99" y2="266.99" stroke="#a0a0a0" stroke-width="0.5"/>
<line x1="256.99" y1="266.99" x2="333.19" y2="297.28" stroke="#a0a0a0" stroke-width="0.5"/>
<line x1="198.63" y1="316.07" x2="185.62" y2="232.01" stroke="#555" stroke-width="0.7"/>
<line x1="198.63" y1="316.07" x2="280.93" y2="356.95" stroke="#555" stroke-width="0.7"/>
<line x1="280.93" y1="356.95" x2="333.19" y2="297.28" stroke="#555" stroke-width="0.7"/>
<line x1="198.63" y1="316.07" x2="197.13" y2="316.37" stroke="#555" stroke-width="0.6"/>
<text x="194.03" y="319.87" font-size="4.7" font-weight="bold" text-anchor="middle" dominant-baseline="central" fill="#222" stroke="#222" stroke-width="0.15" transform="rotate(-47.0 194.03 319.87)">0.0</text>
<line x1="196.16" y1="300.11" x2="194.66" y2="300.41" stroke="#555" stroke-width="0.6"/>
<text x="191.56" y="303.91" font-size="4.7" font-weight="bold" text-anchor="middle" dominant-baseline="central" fill="#222" stroke="#222" stroke-width="0.15" transform="rotate(-47.0 191.56 303.91)">0.2</text>
<line x1="193.56" y1="283.30" x2="192.06" y2="283.60" stroke="#555" stroke-width="0.6"/>
<text x="188.96" y="287.10" font-size="4.7" font-weight="bold" text-anchor="middle" dominant-baseline="central" fill="#222" stroke="#222" stroke-width="0.15" transform="rotate(-47.0 188.96 287.10)">0.4</text>
<line x1="190.81" y1="265.55" x2="189.31" y2="265.85" stroke="#555" stroke-width="0.6"/>
<text x="186.21" y="269.35" font-size="4.7" font-weight="bold" text-anchor="middle" dominant-baseline="central" fill="#222" stroke="#222" stroke-width="0.15" transform="rotate(-47.0 186.21 269.35)">0.6</text>
<line x1="187.91" y1="246.80" x2="186.41" y2="247.10" stroke="#555" stroke-width="0.6"/>
<text x="183.31" y="250.60" font-size="4.7" font-weight="bold" text-anchor="middle" dominant-baseline="central" fill="#222" stroke="#222" stroke-width="0.15" transform="rotate(-47.0 183.31 250.60)">0.8</text>
<line x1="211.16" y1="322.29" x2="210.26" y2="323.79" stroke="#555" stroke-width="0.6"/>
<line x1="237.58" y1="335.42" x2="236.68" y2="336.92" stroke="#555" stroke-width="0.6"/>
<line x1="265.94" y1="349.51" x2="265.04" y2="351.01" stroke="#555" stroke-width="0.6"/>
<line x1="288.39" y1="348.43" x2="289.89" y2="349.33" stroke="#555" stroke-width="0.6"/>
<line x1="302.44" y1="332.38" x2="303.94" y2="333.28" stroke="#555" stroke-width="0.6"/>
<line x1="315.44" y1="317.55" x2="316.94" y2="318.45" stroke="#555" stroke-width="0.6"/>
<line x1="327.49" y1="303.79" x2="328.99" y2="304.69" stroke="#555" stroke-width="0.6"/>
<polygon points="254.82,278.13 263.81,281.84 262.89,261.27 253.62,257.68" fill="#078807" stroke="#078807" stroke-width="0.3" stroke-linejoin="round"/>
<polygon points="263.81,281.84 269.92,276.37 269.20,255.96 262.89,261.27" fill="#046604" stroke="#046604" stroke-width="0.3" stroke-linejoin="round"/>
<polygon points="253.62,257.68 262.89,261.27 260.99,219.13 251.17,215.84" fill="#b2f066" stroke="#b2f066" stroke-width="0.3" stroke-linejoin="round"/>
<polygon points="262.89,261.27 269.20,255.96 267.74,214.24 260.99,219.13" fill="#aae660" stroke="#aae660" stroke-width="0.3" stroke-linejoin="round"/>
<polygon points="251.17,215.84 260.99,219.13 267.74,214.24 258.01,211.06" fill="#bff47c" stroke="#bff47c" stroke-width="0.3" stroke-linejoin="round"/>
<text x="259.48" y="214.74" font-size="5.4" font-weight="bold" text-anchor="middle" fill="#1a1a1a" stroke="#1a1a1a" stroke-width="0.15">0.748</text>
<text x="259.48" y="220.64" font-size="5.4" font-weight="bold" text-anchor="middle" fill="#1a1a1a" stroke="#1a1a1a" stroke-width="0.15">0.261</text>
<polygon points="241.16,289.94 250.30,293.92 246.19,232.73 236.22,229.15" fill="#078807" stroke="#078807" stroke-width="0.3" stroke-linejoin="round"/>
<polygon points="250.30,293.92 256.85,288.06 253.44,227.42 246.19,232.73" fill="#046604" stroke="#046604" stroke-width="0.3" stroke-linejoin="round"/>
<polygon points="236.22,229.15 246.19,232.73 245.45,221.72 235.34,218.23" fill="#b2f066" stroke="#b2f066" stroke-width="0.3" stroke-linejoin="round"/>
<polygon points="246.19,232.73 253.44,227.42 252.82,216.53 245.45,221.72" fill="#aae660" stroke="#aae660" stroke-width="0.3" stroke-linejoin="round"/>
<polygon points="235.34,218.23 245.45,221.72 252.82,216.53 242.80,213.17" fill="#bff47c" stroke="#bff47c" stroke-width="0.3" stroke-linejoin="round"/>
<text x="244.10" y="217.08" font-size="5.4" font-weight="bold" text-anchor="middle" fill="#1a1a1a" stroke="#1a1a1a" stroke-width="0.15">0.835</text>
<text x="244.10" y="222.98" font-size="5.4" font-weight="bold" text-anchor="middle" fill="#1a1a1a" stroke="#1a1a1a" stroke-width="0.15">0.719</text>
<polygon points="279.46,288.30 289.02,292.25 288.85,261.35 278.82,257.59" fill="#6472f1" stroke="#6472f1" stroke-width="0.3" stroke-linejoin="round"/>
<polygon points="289.02,292.25 294.91,286.44 295.02,255.79 288.85,261.35" fill="#3e4ab4" stroke="#3e4ab4" stroke-width="0.3" stroke-linejoin="round"/>
<polygon points="278.82,257.59 288.85,261.35 288.63,223.67 278.05,220.19" fill="#bee8fa" stroke="#bee8fa" stroke-width="0.3" stroke-linejoin="round"/>
<polygon points="288.85,261.35 295.02,255.79 295.16,218.49 288.63,223.67" fill="#90aaba" stroke="#90aaba" stroke-width="0.3" stroke-linejoin="round"/>
<polygon points="278.05,220.19 288.63,223.67 295.16,218.49 284.68,215.13" fill="#cdeefc" stroke="#cdeefc" stroke-width="0.3" stroke-linejoin="round"/>
<text x="286.62" y="219.04" font-size="5.4" font-weight="bold" text-anchor="middle" fill="#1a1a1a" stroke="#1a1a1a" stroke-width="0.15">0.798</text>
<text x="286.62" y="224.94" font-size="5.4" font-weight="bold" text-anchor="middle" fill="#1a1a1a" stroke="#1a1a1a" stroke-width="0.15">0.380</text>
<polygon points="226.51,302.60 235.81,306.89 229.56,239.06 219.34,235.22" fill="#078807" stroke="#078807" stroke-width="0.3" stroke-linejoin="round"/>
<polygon points="235.81,306.89 242.84,300.60 237.47,233.38 229.56,239.06" fill="#046604" stroke="#046604" stroke-width="0.3" stroke-linejoin="round"/>
<polygon points="219.34,235.22 229.56,239.06 229.25,235.64 218.98,231.84" fill="#b2f066" stroke="#b2f066" stroke-width="0.3" stroke-linejoin="round"/>
<polygon points="229.56,239.06 237.47,233.38 237.20,230.00 229.25,235.64" fill="#aae660" stroke="#aae660" stroke-width="0.3" stroke-linejoin="round"/>
<polygon points="218.98,231.84 229.25,235.64 237.20,230.00 227.02,226.34" fill="#bff47c" stroke="#bff47c" stroke-width="0.3" stroke-linejoin="round"/>
<text x="228.12" y="230.62" font-size="5.4" font-weight="bold" text-anchor="middle" fill="#1a1a1a" stroke="#1a1a1a" stroke-width="0.15">0.811</text>
<text x="228.12" y="236.52" font-size="5.4" font-weight="bold" text-anchor="middle" fill="#1a1a1a" stroke="#1a1a1a" stroke-width="0.15">0.776</text>
<polygon points="266.24,300.86 275.99,305.11 274.31,242.44 263.60,238.61" fill="#6472f1" stroke="#6472f1" stroke-width="0.3" stroke-linejoin="round"/>
<polygon points="275.99,305.11 282.31,298.87 281.29,236.76 274.31,242.44" fill="#3e4ab4" stroke="#3e4ab4" stroke-width="0.3" stroke-linejoin="round"/>
<polygon points="263.60,238.61 274.31,242.44 274.08,234.13 263.25,230.36" fill="#bee8fa" stroke="#bee8fa" stroke-width="0.3" stroke-linejoin="round"/>
<polygon points="274.31,242.44 281.29,236.76 281.15,228.54 274.08,234.13" fill="#90aaba" stroke="#90aaba" stroke-width="0.3" stroke-linejoin="round"/>
<polygon points="263.25,230.36 274.08,234.13 281.15,228.54 270.43,224.91" fill="#cdeefc" stroke="#cdeefc" stroke-width="0.3" stroke-linejoin="round"/>
<text x="272.23" y="229.15" font-size="5.4" font-weight="bold" text-anchor="middle" fill="#1a1a1a" stroke="#1a1a1a" stroke-width="0.15">0.809</text>
<text x="272.23" y="235.05" font-size="5.4" font-weight="bold" text-anchor="middle" fill="#1a1a1a" stroke="#1a1a1a" stroke-width="0.15">0.723</text>
<polygon points="305.70,299.13 315.89,303.34 316.59,284.87 306.08,280.77" fill="#f26464" stroke="#f26464" stroke-width="0.3" stroke-linejoin="round"/>
<polygon points="315.89,303.34 321.52,297.15 322.36,278.83 316.59,284.87" fill="#c84e52" stroke="#c84e52" stroke-width="0.3" stroke-linejoin="round"/>
<polygon points="306.08,280.77 316.59,284.87 316.65,283.28 306.11,279.19" fill="#ffc2c2" stroke="#ffc2c2" stroke-width="0.3" stroke-linejoin="round"/>
<polygon points="316.59,284.87 322.36,278.83 322.43,277.25 316.65,283.28" fill="#cfa0a2" stroke="#cfa0a2" stroke-width="0.3" stroke-linejoin="round"/>
<polygon points="306.11,279.19 316.65,283.28 322.43,277.25 312.01,273.30" fill="#ecc0c0" stroke="#ecc0c0" stroke-width="0.3" stroke-linejoin="round"/>
<text x="314.29" y="277.92" font-size="5.4" font-weight="bold" text-anchor="middle" fill="#1a1a1a" stroke="#1a1a1a" stroke-width="0.15">0.247</text>
<text x="314.29" y="283.82" font-size="5.4" font-weight="bold" text-anchor="middle" fill="#1a1a1a" stroke="#1a1a1a" stroke-width="0.15">0.228</text>
<polygon points="210.77,316.22 220.22,320.83 217.10,294.84 207.29,290.36" fill="#078807" stroke="#078807" stroke-width="0.3" stroke-linejoin="round"/>
<polygon points="220.22,320.83 227.79,314.07 225.04,288.26 217.10,294.84" fill="#046604" stroke="#046604" stroke-width="0.3" stroke-linejoin="round"/>
<polygon points="207.29,290.36 217.10,294.84 212.41,255.78 202.06,251.58" fill="#b2f066" stroke="#b2f066" stroke-width="0.3" stroke-linejoin="round"/>
<polygon points="217.10,294.84 225.04,288.26 220.93,249.57 212.41,255.78" fill="#aae660" stroke="#aae660" stroke-width="0.3" stroke-linejoin="round"/>
<polygon points="202.06,251.58 212.41,255.78 220.93,249.57 210.67,245.54" fill="#bff47c" stroke="#bff47c" stroke-width="0.3" stroke-linejoin="round"/>
<text x="211.52" y="250.27" font-size="5.4" font-weight="bold" text-anchor="middle" fill="#1a1a1a" stroke="#1a1a1a" stroke-width="0.15">0.735</text>
<text x="211.52" y="256.17" font-size="5.4" font-weight="bold" text-anchor="middle" fill="#1a1a1a" stroke="#1a1a1a" stroke-width="0.15">0.312</text>
<polygon points="252.04,314.36 261.98,318.94 259.54,270.84 248.85,266.55" fill="#6472f1" stroke="#6472f1" stroke-width="0.3" stroke-linejoin="round"/>
<polygon points="261.98,318.94 268.78,312.23 266.92,264.52 259.54,270.84" fill="#3e4ab4" stroke="#3e4ab4" stroke-width="0.3" stroke-linejoin="round"/>
<polygon points="248.85,266.55 259.54,270.84 258.02,240.97 246.88,236.91" fill="#bee8fa" stroke="#bee8fa" stroke-width="0.3" stroke-linejoin="round"/>
<polygon points="259.54,270.84 266.92,264.52 265.76,234.96 258.02,240.97" fill="#90aaba" stroke="#90aaba" stroke-width="0.3" stroke-linejoin="round"/>
<polygon points="246.88,236.91 258.02,240.97 265.76,234.96 254.73,231.06" fill="#cdeefc" stroke="#cdeefc" stroke-width="0.3" stroke-linejoin="round"/>
<text x="256.35" y="235.63" font-size="5.4" font-weight="bold" text-anchor="middle" fill="#1a1a1a" stroke="#1a1a1a" stroke-width="0.15">0.865</text>
<text x="256.35" y="241.53" font-size="5.4" font-weight="bold" text-anchor="middle" fill="#1a1a1a" stroke="#1a1a1a" stroke-width="0.15">0.558</text>
<polygon points="293.01,312.52 303.43,317.05 303.68,302.84 293.02,298.38" fill="#f26464" stroke="#f26464" stroke-width="0.3" stroke-linejoin="round"/>
<polygon points="303.43,317.05 309.48,310.40 309.87,296.29 303.68,302.84" fill="#c84e52" stroke="#c84e52" stroke-width="0.3" stroke-linejoin="round"/>
<polygon points="293.02,298.38 303.68,302.84 303.73,299.99 293.02,295.54" fill="#ffc2c2" stroke="#ffc2c2" stroke-width="0.3" stroke-linejoin="round"/>
<polygon points="303.68,302.84 309.87,296.29 309.94,293.46 303.73,299.99" fill="#cfa0a2" stroke="#cfa0a2" stroke-width="0.3" stroke-linejoin="round"/>
<polygon points="293.02,295.54 303.73,299.99 309.94,293.46 299.34,289.17" fill="#ecc0c0" stroke="#ecc0c0" stroke-width="0.3" stroke-linejoin="round"/>
<text x="301.50" y="294.20" font-size="5.4" font-weight="bold" text-anchor="middle" fill="#1a1a1a" stroke="#1a1a1a" stroke-width="0.15">0.208</text>
<text x="301.50" y="300.10" font-size="5.4" font-weight="bold" text-anchor="middle" fill="#1a1a1a" stroke="#1a1a1a" stroke-width="0.15">0.174</text>
<polygon points="236.73,328.91 246.86,333.86 243.64,292.36 232.85,287.65" fill="#6472f1" stroke="#6472f1" stroke-width="0.3" stroke-linejoin="round"/>
<polygon points="246.86,333.86 254.20,326.61 251.55,285.43 243.64,292.36" fill="#3e4ab4" stroke="#3e4ab4" stroke-width="0.3" stroke-linejoin="round"/>
<polygon points="232.85,287.65 243.64,292.36 241.48,264.58 230.26,260.06" fill="#bee8fa" stroke="#bee8fa" stroke-width="0.3" stroke-linejoin="round"/>
<polygon points="243.64,292.36 251.55,285.43 249.78,257.92 241.48,264.58" fill="#90aaba" stroke="#90aaba" stroke-width="0.3" stroke-linejoin="round"/>
<polygon points="230.26,260.06 241.48,264.58 249.78,257.92 238.66,253.59" fill="#cdeefc" stroke="#cdeefc" stroke-width="0.3" stroke-linejoin="round"/>
<text x="240.05" y="258.69" font-size="5.4" font-weight="bold" text-anchor="middle" fill="#1a1a1a" stroke="#1a1a1a" stroke-width="0.15">0.766</text>
<text x="240.05" y="264.59" font-size="5.4" font-weight="bold" text-anchor="middle" fill="#1a1a1a" stroke="#1a1a1a" stroke-width="0.15">0.479</text>
<polygon points="279.34,326.94 289.99,331.84 289.91,313.66 278.94,308.85" fill="#f26464" stroke="#f26464" stroke-width="0.3" stroke-linejoin="round"/>
<polygon points="289.99,331.84 296.52,324.66 296.63,306.61 289.91,313.66" fill="#c84e52" stroke="#c84e52" stroke-width="0.3" stroke-linejoin="round"/>
<polygon points="278.94,308.85 289.91,313.66 289.86,303.53 278.71,298.78" fill="#ffc2c2" stroke="#ffc2c2" stroke-width="0.3" stroke-linejoin="round"/>
<polygon points="289.91,313.66 296.63,306.61 296.70,296.55 289.86,303.53" fill="#cfa0a2" stroke="#cfa0a2" stroke-width="0.3" stroke-linejoin="round"/>
<polygon points="278.71,298.78 289.86,303.53 296.70,296.55 285.67,291.98" fill="#ecc0c0" stroke="#ecc0c0" stroke-width="0.3" stroke-linejoin="round"/>
<text x="287.73" y="297.36" font-size="5.4" font-weight="bold" text-anchor="middle" fill="#1a1a1a" stroke="#1a1a1a" stroke-width="0.15">0.334</text>
<text x="287.73" y="303.26" font-size="5.4" font-weight="bold" text-anchor="middle" fill="#1a1a1a" stroke="#1a1a1a" stroke-width="0.15">0.218</text>
<polygon points="264.58,342.52 275.46,347.84 275.08,335.19 263.97,329.93" fill="#f26464" stroke="#f26464" stroke-width="0.3" stroke-linejoin="round"/>
<polygon points="275.46,347.84 282.52,340.06 282.30,327.50 275.08,335.19" fill="#c84e52" stroke="#c84e52" stroke-width="0.3" stroke-linejoin="round"/>
<polygon points="263.97,329.93 275.08,335.19 275.01,332.79 263.85,327.54" fill="#ffc2c2" stroke="#ffc2c2" stroke-width="0.3" stroke-linejoin="round"/>
<polygon points="275.08,335.19 282.30,327.50 282.26,325.11 275.01,332.79" fill="#cfa0a2" stroke="#cfa0a2" stroke-width="0.3" stroke-linejoin="round"/>
<polygon points="263.85,327.54 275.01,332.79 282.26,325.11 271.22,320.07" fill="#ecc0c0" stroke="#ecc0c0" stroke-width="0.3" stroke-linejoin="round"/>
<text x="273.08" y="326.02" font-size="5.4" font-weight="bold" text-anchor="middle" fill="#1a1a1a" stroke="#1a1a1a" stroke-width="0.15">0.179</text>
<text x="273.08" y="331.92" font-size="5.4" font-weight="bold" text-anchor="middle" fill="#1a1a1a" stroke="#1a1a1a" stroke-width="0.15">0.151</text>
<text x="205.76" y="326.49" font-size="4.8" font-weight="bold" text-anchor="middle" dominant-baseline="central" fill="#222" stroke="#222" stroke-width="0.28" transform="rotate(-42.0 205.76 326.49)">RF</text>
<text x="231.58" y="340.92" font-size="4.8" font-weight="bold" text-anchor="middle" dominant-baseline="central" fill="#222" stroke="#222" stroke-width="0.28" transform="rotate(-42.0 231.58 340.92)">ET</text>
<text x="260.54" y="354.11" font-size="4.8" font-weight="bold" text-anchor="middle" dominant-baseline="central" fill="#222" stroke="#222" stroke-width="0.28" transform="rotate(-42.0 260.54 354.11)">LR</text>
<text x="214.48" y="341.32" font-size="5.75" font-weight="bold" text-anchor="middle" dominant-baseline="central" fill="#222" stroke="#222" stroke-width="0.28" transform="rotate(28.0 214.48 341.32)">Machine learning algorithm</text>
<text x="290.89" y="351.03" font-size="5.1" font-weight="bold" text-anchor="start" dominant-baseline="central" fill="#222" stroke="#222" stroke-width="0.28" transform="rotate(20.0 290.89 351.03)">End</text>
<text x="304.94" y="334.98" font-size="5.1" font-weight="bold" text-anchor="start" dominant-baseline="central" fill="#222" stroke="#222" stroke-width="0.28" transform="rotate(20.0 304.94 334.98)">Late</text>
<text x="317.94" y="320.15" font-size="5.1" font-weight="bold" text-anchor="start" dominant-baseline="central" fill="#222" stroke="#222" stroke-width="0.28" transform="rotate(20.0 317.94 320.15)">Middle</text>
<text x="329.99" y="306.39" font-size="5.1" font-weight="bold" text-anchor="start" dominant-baseline="central" fill="#222" stroke="#222" stroke-width="0.28" transform="rotate(20.0 329.99 306.39)">Early</text>
<text x="331.47" y="336.32" font-size="5.0" font-weight="bold" text-anchor="middle" dominant-baseline="central" fill="#222" stroke="#222" stroke-width="0.28" transform="rotate(-48.0 331.47 336.32)">Growth Stages</text>
<text x="181.06" y="286.30" font-size="5.4" font-weight="bold" font-style="italic" fill="#222" stroke="#222" stroke-width="0.15" text-anchor="middle" dominant-baseline="central" transform="rotate(-45 181.06 286.30)">R<tspan font-size="3.4" dy="-2">2</tspan></text>
<text x="183.00" y="199.40" font-size="11" font-weight="bold" text-anchor="start" fill="#111">(e)</text>
<line x1="377.52" y1="303.93" x2="365.77" y2="225.03" stroke="#e2e2e2" stroke-width="0.45"/>
<line x1="377.52" y1="303.93" x2="455.62" y2="340.40" stroke="#eeeeee" stroke-width="0.45"/>
<line x1="385.04" y1="297.52" x2="374.52" y2="219.38" stroke="#e2e2e2" stroke-width="0.45"/>
<line x1="385.04" y1="297.52" x2="462.39" y2="332.56" stroke="#eeeeee" stroke-width="0.45"/>
<line x1="392.29" y1="291.33" x2="382.93" y2="213.95" stroke="#e2e2e2" stroke-width="0.45"/>
<line x1="392.29" y1="291.33" x2="468.90" y2="325.03" stroke="#eeeeee" stroke-width="0.45"/>
<line x1="399.29" y1="285.36" x2="391.00" y2="208.73" stroke="#e2e2e2" stroke-width="0.45"/>
<line x1="399.29" y1="285.36" x2="475.15" y2="317.78" stroke="#eeeeee" stroke-width="0.45"/>
<line x1="406.05" y1="279.59" x2="398.77" y2="203.72" stroke="#e2e2e2" stroke-width="0.45"/>
<line x1="406.05" y1="279.59" x2="481.17" y2="310.81" stroke="#eeeeee" stroke-width="0.45"/>
<line x1="412.58" y1="274.01" x2="406.24" y2="198.89" stroke="#e2e2e2" stroke-width="0.45"/>
<line x1="412.58" y1="274.01" x2="486.97" y2="304.10" stroke="#eeeeee" stroke-width="0.45"/>
<line x1="418.89" y1="268.62" x2="413.43" y2="194.24" stroke="#e2e2e2" stroke-width="0.45"/>
<line x1="418.89" y1="268.62" x2="492.56" y2="297.63" stroke="#eeeeee" stroke-width="0.45"/>
<line x1="436.25" y1="267.73" x2="432.88" y2="193.37" stroke="#e2e2e2" stroke-width="0.45"/>
<line x1="459.79" y1="276.76" x2="459.23" y2="200.95" stroke="#e2e2e2" stroke-width="0.45"/>
<line x1="484.82" y1="286.36" x2="487.47" y2="209.07" stroke="#e2e2e2" stroke-width="0.45"/>
<line x1="381.73" y1="316.37" x2="436.25" y2="267.73" stroke="#eeeeee" stroke-width="0.45"/>
<line x1="394.16" y1="322.36" x2="447.84" y2="272.17" stroke="#eeeeee" stroke-width="0.45"/>
<line x1="407.04" y1="328.56" x2="459.79" y2="276.76" stroke="#eeeeee" stroke-width="0.45"/>
<line x1="420.38" y1="334.99" x2="472.11" y2="281.48" stroke="#eeeeee" stroke-width="0.45"/>
<line x1="434.21" y1="341.65" x2="484.82" y2="286.36" stroke="#eeeeee" stroke-width="0.45"/>
<line x1="367.24" y1="295.47" x2="424.11" y2="249.23" stroke="#e2e2e2" stroke-width="0.45"/>
<line x1="424.11" y1="249.23" x2="498.79" y2="276.51" stroke="#e2e2e2" stroke-width="0.45"/>
<line x1="364.62" y1="279.53" x2="423.17" y2="234.39" stroke="#e2e2e2" stroke-width="0.45"/>
<line x1="423.17" y1="234.39" x2="499.67" y2="260.86" stroke="#e2e2e2" stroke-width="0.45"/>
<line x1="361.86" y1="262.72" x2="422.19" y2="218.84" stroke="#e2e2e2" stroke-width="0.45"/>
<line x1="422.19" y1="218.84" x2="500.61" y2="244.38" stroke="#e2e2e2" stroke-width="0.45"/>
<line x1="358.94" y1="244.94" x2="421.17" y2="202.53" stroke="#e2e2e2" stroke-width="0.45"/>
<line x1="421.17" y1="202.53" x2="501.59" y2="227.01" stroke="#e2e2e2" stroke-width="0.45"/>
<line x1="356.64" y1="230.93" x2="420.36" y2="189.77" stroke="#a0a0a0" stroke-width="0.6"/>
<line x1="420.36" y1="189.77" x2="502.36" y2="213.36" stroke="#a0a0a0" stroke-width="0.6"/>
<line x1="502.36" y1="213.36" x2="497.95" y2="291.40" stroke="#a0a0a0" stroke-width="0.6"/>
<line x1="425.00" y1="263.41" x2="420.36" y2="189.77" stroke="#a0a0a0" stroke-width="0.5"/>
<line x1="369.72" y1="310.59" x2="425.00" y2="263.41" stroke="#a0a0a0" stroke-width="0.5"/>
<line x1="425.00" y1="263.41" x2="497.95" y2="291.40" stroke="#a0a0a0" stroke-width="0.5"/>
<line x1="369.72" y1="310.59" x2="356.64" y2="230.93" stroke="#555" stroke-width="0.7"/>
<line x1="369.72" y1="310.59" x2="448.57" y2="348.56" stroke="#555" stroke-width="0.7"/>
<line x1="448.57" y1="348.56" x2="497.95" y2="291.40" stroke="#555" stroke-width="0.7"/>
<line x1="369.72" y1="310.59" x2="368.22" y2="310.89" stroke="#555" stroke-width="0.6"/>
<text x="365.12" y="314.39" font-size="4.7" font-weight="bold" text-anchor="middle" dominant-baseline="central" fill="#222" stroke="#222" stroke-width="0.15" transform="rotate(-47.0 365.12 314.39)">0.0</text>
<line x1="367.24" y1="295.47" x2="365.74" y2="295.77" stroke="#555" stroke-width="0.6"/>
<text x="362.64" y="299.27" font-size="4.7" font-weight="bold" text-anchor="middle" dominant-baseline="central" fill="#222" stroke="#222" stroke-width="0.15" transform="rotate(-47.0 362.64 299.27)">0.2</text>
<line x1="364.62" y1="279.53" x2="363.12" y2="279.83" stroke="#555" stroke-width="0.6"/>
<text x="360.02" y="283.33" font-size="4.7" font-weight="bold" text-anchor="middle" dominant-baseline="central" fill="#222" stroke="#222" stroke-width="0.15" transform="rotate(-47.0 360.02 283.33)">0.4</text>
<line x1="361.86" y1="262.72" x2="360.36" y2="263.02" stroke="#555" stroke-width="0.6"/>
<text x="357.26" y="266.52" font-size="4.7" font-weight="bold" text-anchor="middle" dominant-baseline="central" fill="#222" stroke="#222" stroke-width="0.15" transform="rotate(-47.0 357.26 266.52)">0.6</text>
<line x1="358.94" y1="244.94" x2="357.44" y2="245.24" stroke="#555" stroke-width="0.6"/>
<text x="354.34" y="248.74" font-size="4.7" font-weight="bold" text-anchor="middle" dominant-baseline="central" fill="#222" stroke="#222" stroke-width="0.15" transform="rotate(-47.0 354.34 248.74)">0.8</text>
<line x1="381.73" y1="316.37" x2="380.83" y2="317.87" stroke="#555" stroke-width="0.6"/>
<line x1="407.04" y1="328.56" x2="406.14" y2="330.06" stroke="#555" stroke-width="0.6"/>
<line x1="434.21" y1="341.65" x2="433.31" y2="343.15" stroke="#555" stroke-width="0.6"/>
<line x1="455.62" y1="340.40" x2="457.12" y2="341.30" stroke="#555" stroke-width="0.6"/>
<line x1="468.90" y1="325.03" x2="470.40" y2="325.93" stroke="#555" stroke-width="0.6"/>
<line x1="481.17" y1="310.81" x2="482.67" y2="311.71" stroke="#555" stroke-width="0.6"/>
<line x1="492.56" y1="297.63" x2="494.06" y2="298.53" stroke="#555" stroke-width="0.6"/>
<polygon points="423.03,274.00 431.63,277.44 430.69,259.92 421.85,256.59" fill="#078807" stroke="#078807" stroke-width="0.3" stroke-linejoin="round"/>
<polygon points="431.63,277.44 437.42,272.18 436.66,254.81 430.69,259.92" fill="#046604" stroke="#046604" stroke-width="0.3" stroke-linejoin="round"/>
<polygon points="421.85,256.59 430.69,259.92 428.19,213.20 418.73,210.21" fill="#b2f066" stroke="#b2f066" stroke-width="0.3" stroke-linejoin="round"/>
<polygon points="430.69,259.92 436.66,254.81 434.63,208.53 428.19,213.20" fill="#aae660" stroke="#aae660" stroke-width="0.3" stroke-linejoin="round"/>
<polygon points="418.73,210.21 428.19,213.20 434.63,208.53 425.26,205.65" fill="#bff47c" stroke="#bff47c" stroke-width="0.3" stroke-linejoin="round"/>
<text x="426.70" y="209.07" font-size="5.4" font-weight="bold" text-anchor="middle" fill="#1a1a1a" stroke="#1a1a1a" stroke-width="0.15">0.802</text>
<text x="426.70" y="214.97" font-size="5.4" font-weight="bold" text-anchor="middle" fill="#1a1a1a" stroke="#1a1a1a" stroke-width="0.15">0.235</text>
<polygon points="410.09,285.35 418.84,289.04 414.55,232.59 405.03,229.28" fill="#078807" stroke="#078807" stroke-width="0.3" stroke-linejoin="round"/>
<polygon points="418.84,289.04 425.04,283.42 421.40,227.46 414.55,232.59" fill="#046604" stroke="#046604" stroke-width="0.3" stroke-linejoin="round"/>
<polygon points="405.03,229.28 414.55,232.59 413.67,221.02 404.00,217.80" fill="#b2f066" stroke="#b2f066" stroke-width="0.3" stroke-linejoin="round"/>
<polygon points="414.55,232.59 421.40,227.46 420.66,216.01 413.67,221.02" fill="#aae660" stroke="#aae660" stroke-width="0.3" stroke-linejoin="round"/>
<polygon points="404.00,217.80 413.67,221.02 420.66,216.01 411.07,212.92" fill="#bff47c" stroke="#bff47c" stroke-width="0.3" stroke-linejoin="round"/>
<text x="412.35" y="216.60" font-size="5.4" font-weight="bold" text-anchor="middle" fill="#1a1a1a" stroke="#1a1a1a" stroke-width="0.15">0.83</text>
<text x="412.35" y="222.50" font-size="5.4" font-weight="bold" text-anchor="middle" fill="#1a1a1a" stroke="#1a1a1a" stroke-width="0.15">0.701</text>
<polygon points="446.61,283.41 455.77,287.06 455.37,259.03 445.80,255.55" fill="#6472f1" stroke="#6472f1" stroke-width="0.3" stroke-linejoin="round"/>
<polygon points="455.77,287.06 461.34,281.49 461.21,253.68 455.37,259.03" fill="#3e4ab4" stroke="#3e4ab4" stroke-width="0.3" stroke-linejoin="round"/>
<polygon points="445.80,255.55 455.37,259.03 454.82,219.70 444.65,216.52" fill="#bee8fa" stroke="#bee8fa" stroke-width="0.3" stroke-linejoin="round"/>
<polygon points="455.37,259.03 461.21,253.68 461.02,214.75 454.82,219.70" fill="#90aaba" stroke="#90aaba" stroke-width="0.3" stroke-linejoin="round"/>
<polygon points="444.65,216.52 454.82,219.70 461.02,214.75 450.96,211.68" fill="#cdeefc" stroke="#cdeefc" stroke-width="0.3" stroke-linejoin="round"/>
<text x="452.86" y="215.33" font-size="5.4" font-weight="bold" text-anchor="middle" fill="#1a1a1a" stroke="#1a1a1a" stroke-width="0.15">0.823</text>
<text x="452.86" y="221.23" font-size="5.4" font-weight="bold" text-anchor="middle" fill="#1a1a1a" stroke="#1a1a1a" stroke-width="0.15">0.364</text>
<polygon points="396.22,297.52 405.12,301.50 399.38,244.72 389.70,241.12" fill="#078807" stroke="#078807" stroke-width="0.3" stroke-linejoin="round"/>
<polygon points="405.12,301.50 411.78,295.46 406.78,239.17 399.38,244.72" fill="#046604" stroke="#046604" stroke-width="0.3" stroke-linejoin="round"/>
<polygon points="389.70,241.12 399.38,244.72 398.39,234.96 388.58,231.44" fill="#b2f066" stroke="#b2f066" stroke-width="0.3" stroke-linejoin="round"/>
<polygon points="399.38,244.72 406.78,239.17 405.92,229.51 398.39,234.96" fill="#aae660" stroke="#aae660" stroke-width="0.3" stroke-linejoin="round"/>
<polygon points="388.58,231.44 398.39,234.96 405.92,229.51 396.19,226.13" fill="#bff47c" stroke="#bff47c" stroke-width="0.3" stroke-linejoin="round"/>
<text x="397.27" y="230.17" font-size="5.4" font-weight="bold" text-anchor="middle" fill="#1a1a1a" stroke="#1a1a1a" stroke-width="0.15">0.8</text>
<text x="397.27" y="236.07" font-size="5.4" font-weight="bold" text-anchor="middle" fill="#1a1a1a" stroke="#1a1a1a" stroke-width="0.15">0.693</text>
<polygon points="434.10,295.47 443.44,299.40 441.38,241.29 431.16,237.75" fill="#6472f1" stroke="#6472f1" stroke-width="0.3" stroke-linejoin="round"/>
<polygon points="443.44,299.40 449.42,293.42 447.98,235.81 441.38,241.29" fill="#3e4ab4" stroke="#3e4ab4" stroke-width="0.3" stroke-linejoin="round"/>
<polygon points="431.16,237.75 441.38,241.29 440.97,229.72 430.57,226.27" fill="#bee8fa" stroke="#bee8fa" stroke-width="0.3" stroke-linejoin="round"/>
<polygon points="441.38,241.29 447.98,235.81 447.69,224.37 440.97,229.72" fill="#90aaba" stroke="#90aaba" stroke-width="0.3" stroke-linejoin="round"/>
<polygon points="430.57,226.27 440.97,229.72 447.69,224.37 437.40,221.05" fill="#cdeefc" stroke="#cdeefc" stroke-width="0.3" stroke-linejoin="round"/>
<text x="439.15" y="225.02" font-size="5.4" font-weight="bold" text-anchor="middle" fill="#1a1a1a" stroke="#1a1a1a" stroke-width="0.15">0.834</text>
<text x="439.15" y="230.92" font-size="5.4" font-weight="bold" text-anchor="middle" fill="#1a1a1a" stroke="#1a1a1a" stroke-width="0.15">0.708</text>
<polygon points="471.73,293.43 481.49,297.32 481.67,291.36 471.81,287.50" fill="#f26464" stroke="#f26464" stroke-width="0.3" stroke-linejoin="round"/>
<polygon points="481.49,297.32 486.81,291.39 487.03,285.48 481.67,291.36" fill="#c84e52" stroke="#c84e52" stroke-width="0.3" stroke-linejoin="round"/>
<polygon points="471.81,287.50 481.67,291.36 482.06,278.12 471.97,274.34" fill="#ffc2c2" stroke="#ffc2c2" stroke-width="0.3" stroke-linejoin="round"/>
<polygon points="481.67,291.36 487.03,285.48 487.53,272.34 482.06,278.12" fill="#cfa0a2" stroke="#cfa0a2" stroke-width="0.3" stroke-linejoin="round"/>
<polygon points="471.97,274.34 482.06,278.12 487.53,272.34 477.55,268.69" fill="#ecc0c0" stroke="#ecc0c0" stroke-width="0.3" stroke-linejoin="round"/>
<text x="479.77" y="273.03" font-size="5.4" font-weight="bold" text-anchor="middle" fill="#1a1a1a" stroke="#1a1a1a" stroke-width="0.15">0.249</text>
<text x="479.77" y="278.93" font-size="5.4" font-weight="bold" text-anchor="middle" fill="#1a1a1a" stroke="#1a1a1a" stroke-width="0.15">0.079</text>
<polygon points="381.31,310.61 390.36,314.89 388.04,296.93 378.74,292.74" fill="#078807" stroke="#078807" stroke-width="0.3" stroke-linejoin="round"/>
<polygon points="390.36,314.89 397.53,308.39 395.47,290.55 388.04,296.93" fill="#046604" stroke="#046604" stroke-width="0.3" stroke-linejoin="round"/>
<polygon points="378.74,292.74 388.04,296.93 382.25,252.20 372.34,248.32" fill="#b2f066" stroke="#b2f066" stroke-width="0.3" stroke-linejoin="round"/>
<polygon points="388.04,296.93 395.47,290.55 390.35,246.23 382.25,252.20" fill="#aae660" stroke="#aae660" stroke-width="0.3" stroke-linejoin="round"/>
<polygon points="372.34,248.32 382.25,252.20 390.35,246.23 380.51,242.51" fill="#bff47c" stroke="#bff47c" stroke-width="0.3" stroke-linejoin="round"/>
<text x="381.37" y="246.97" font-size="5.4" font-weight="bold" text-anchor="middle" fill="#1a1a1a" stroke="#1a1a1a" stroke-width="0.15">0.746</text>
<text x="381.37" y="252.87" font-size="5.4" font-weight="bold" text-anchor="middle" fill="#1a1a1a" stroke="#1a1a1a" stroke-width="0.15">0.230</text>
<polygon points="420.66,308.43 430.18,312.67 426.42,249.43 415.92,245.60" fill="#6472f1" stroke="#6472f1" stroke-width="0.3" stroke-linejoin="round"/>
<polygon points="430.18,312.67 436.62,306.23 433.63,243.53 426.42,249.43" fill="#3e4ab4" stroke="#3e4ab4" stroke-width="0.3" stroke-linejoin="round"/>
<polygon points="415.92,245.60 426.42,249.43 426.05,243.20 415.45,239.43" fill="#bee8fa" stroke="#bee8fa" stroke-width="0.3" stroke-linejoin="round"/>
<polygon points="426.42,249.43 433.63,243.53 433.33,237.37 426.05,243.20" fill="#90aaba" stroke="#90aaba" stroke-width="0.3" stroke-linejoin="round"/>
<polygon points="415.45,239.43 426.05,243.20 433.33,237.37 422.84,233.75" fill="#cdeefc" stroke="#cdeefc" stroke-width="0.3" stroke-linejoin="round"/>
<text x="424.42" y="238.10" font-size="5.4" font-weight="bold" text-anchor="middle" fill="#1a1a1a" stroke="#1a1a1a" stroke-width="0.15">0.818</text>
<text x="424.42" y="244.00" font-size="5.4" font-weight="bold" text-anchor="middle" fill="#1a1a1a" stroke="#1a1a1a" stroke-width="0.15">0.752</text>
<polygon points="459.73,306.26 469.71,310.47 469.81,300.37 459.66,296.22" fill="#f26464" stroke="#f26464" stroke-width="0.3" stroke-linejoin="round"/>
<polygon points="469.71,310.47 475.43,304.09 475.62,294.06 469.81,300.37" fill="#c84e52" stroke="#c84e52" stroke-width="0.3" stroke-linejoin="round"/>
<polygon points="459.66,296.22 469.81,300.37 469.85,296.58 459.63,292.45" fill="#ffc2c2" stroke="#ffc2c2" stroke-width="0.3" stroke-linejoin="round"/>
<polygon points="469.81,300.37 475.62,294.06 475.69,290.30 469.85,296.58" fill="#cfa0a2" stroke="#cfa0a2" stroke-width="0.3" stroke-linejoin="round"/>
<polygon points="459.63,292.45 469.85,296.58 475.69,290.30 465.58,286.32" fill="#ecc0c0" stroke="#ecc0c0" stroke-width="0.3" stroke-linejoin="round"/>
<text x="467.68" y="291.07" font-size="5.4" font-weight="bold" text-anchor="middle" fill="#1a1a1a" stroke="#1a1a1a" stroke-width="0.15">0.179</text>
<text x="467.68" y="296.97" font-size="5.4" font-weight="bold" text-anchor="middle" fill="#1a1a1a" stroke="#1a1a1a" stroke-width="0.15">0.131</text>
<polygon points="406.18,322.39 415.88,326.99 414.12,306.62 404.09,302.13" fill="#6472f1" stroke="#6472f1" stroke-width="0.3" stroke-linejoin="round"/>
<polygon points="415.88,326.99 422.82,320.03 421.34,299.81 414.12,306.62" fill="#3e4ab4" stroke="#3e4ab4" stroke-width="0.3" stroke-linejoin="round"/>
<polygon points="404.09,302.13 414.12,306.62 410.08,259.93 399.31,255.77" fill="#bee8fa" stroke="#bee8fa" stroke-width="0.3" stroke-linejoin="round"/>
<polygon points="414.12,306.62 421.34,299.81 417.96,253.54 410.08,259.93" fill="#90aaba" stroke="#90aaba" stroke-width="0.3" stroke-linejoin="round"/>
<polygon points="399.31,255.77 410.08,259.93 417.96,253.54 407.30,249.55" fill="#cdeefc" stroke="#cdeefc" stroke-width="0.3" stroke-linejoin="round"/>
<text x="408.66" y="254.35" font-size="5.4" font-weight="bold" text-anchor="middle" fill="#1a1a1a" stroke="#1a1a1a" stroke-width="0.15">0.78</text>
<text x="408.66" y="260.25" font-size="5.4" font-weight="bold" text-anchor="middle" fill="#1a1a1a" stroke="#1a1a1a" stroke-width="0.15">0.256</text>
<polygon points="446.81,320.09 457.01,324.64 456.84,311.11 446.40,306.63" fill="#f26464" stroke="#f26464" stroke-width="0.3" stroke-linejoin="round"/>
<polygon points="457.01,324.64 463.18,317.76 463.15,304.32 456.84,311.11" fill="#c84e52" stroke="#c84e52" stroke-width="0.3" stroke-linejoin="round"/>
<polygon points="446.40,306.63 456.84,311.11 456.76,304.84 446.20,300.40" fill="#ffc2c2" stroke="#ffc2c2" stroke-width="0.3" stroke-linejoin="round"/>
<polygon points="456.84,311.11 463.15,304.32 463.14,298.10 456.76,304.84" fill="#cfa0a2" stroke="#cfa0a2" stroke-width="0.3" stroke-linejoin="round"/>
<polygon points="446.20,300.40 456.76,304.84 463.14,298.10 452.70,293.83" fill="#ecc0c0" stroke="#ecc0c0" stroke-width="0.3" stroke-linejoin="round"/>
<text x="454.70" y="298.95" font-size="5.4" font-weight="bold" text-anchor="middle" fill="#1a1a1a" stroke="#1a1a1a" stroke-width="0.15">0.249</text>
<text x="454.70" y="304.85" font-size="5.4" font-weight="bold" text-anchor="middle" fill="#1a1a1a" stroke="#1a1a1a" stroke-width="0.15">0.172</text>
<polygon points="432.85,335.03 443.27,339.97 443.06,334.39 432.53,329.48" fill="#f26464" stroke="#f26464" stroke-width="0.3" stroke-linejoin="round"/>
<polygon points="443.27,339.97 449.95,332.52 449.81,326.97 443.06,334.39" fill="#c84e52" stroke="#c84e52" stroke-width="0.3" stroke-linejoin="round"/>
<polygon points="432.53,329.48 443.06,334.39 442.97,331.92 432.39,327.02" fill="#ffc2c2" stroke="#ffc2c2" stroke-width="0.3" stroke-linejoin="round"/>
<polygon points="443.06,334.39 449.81,326.97 449.74,324.52 442.97,331.92" fill="#cfa0a2" stroke="#cfa0a2" stroke-width="0.3" stroke-linejoin="round"/>
<polygon points="432.39,327.02 442.97,331.92 449.74,324.52 439.28,319.81" fill="#ecc0c0" stroke="#ecc0c0" stroke-width="0.3" stroke-linejoin="round"/>
<text x="441.09" y="325.47" font-size="5.4" font-weight="bold" text-anchor="middle" fill="#1a1a1a" stroke="#1a1a1a" stroke-width="0.15">0.102</text>
<text x="441.09" y="331.37" font-size="5.4" font-weight="bold" text-anchor="middle" fill="#1a1a1a" stroke="#1a1a1a" stroke-width="0.15">0.071</text>
<text x="376.33" y="320.57" font-size="4.8" font-weight="bold" text-anchor="middle" dominant-baseline="central" fill="#222" stroke="#222" stroke-width="0.28" transform="rotate(-42.0 376.33 320.57)">RF</text>
<text x="401.04" y="334.06" font-size="4.8" font-weight="bold" text-anchor="middle" dominant-baseline="central" fill="#222" stroke="#222" stroke-width="0.28" transform="rotate(-42.0 401.04 334.06)">ETr</text>
<text x="428.81" y="346.25" font-size="4.8" font-weight="bold" text-anchor="middle" dominant-baseline="central" fill="#222" stroke="#222" stroke-width="0.28" transform="rotate(-42.0 428.81 346.25)">LR</text>
<text x="383.94" y="334.46" font-size="5.75" font-weight="bold" text-anchor="middle" dominant-baseline="central" fill="#222" stroke="#222" stroke-width="0.28" transform="rotate(28.0 383.94 334.46)">Machine learning algorithm</text>
<text x="458.12" y="343.00" font-size="5.1" font-weight="bold" text-anchor="start" dominant-baseline="central" fill="#222" stroke="#222" stroke-width="0.28" transform="rotate(20.0 458.12 343.00)">End</text>
<text x="471.40" y="327.63" font-size="5.1" font-weight="bold" text-anchor="start" dominant-baseline="central" fill="#222" stroke="#222" stroke-width="0.28" transform="rotate(20.0 471.40 327.63)">Late</text>
<text x="483.67" y="313.41" font-size="5.1" font-weight="bold" text-anchor="start" dominant-baseline="central" fill="#222" stroke="#222" stroke-width="0.28" transform="rotate(20.0 483.67 313.41)">Middle</text>
<text x="495.06" y="300.23" font-size="5.1" font-weight="bold" text-anchor="start" dominant-baseline="central" fill="#222" stroke="#222" stroke-width="0.28" transform="rotate(20.0 495.06 300.23)">Early</text>
<text x="497.55" y="329.28" font-size="5.0" font-weight="bold" text-anchor="middle" dominant-baseline="central" fill="#222" stroke="#222" stroke-width="0.28" transform="rotate(-48.0 497.55 329.28)">Growth Stages</text>
<text x="352.12" y="282.53" font-size="5.4" font-weight="bold" font-style="italic" fill="#222" stroke="#222" stroke-width="0.15" text-anchor="middle" dominant-baseline="central" transform="rotate(-45 352.12 282.53)">R<tspan font-size="3.4" dy="-2">2</tspan></text>
<text x="349.50" y="205.90" font-size="11" font-weight="bold" text-anchor="start" fill="#111">(f)</text>
<line x1="34.23" y1="477.91" x2="22.54" y2="396.15" stroke="#e2e2e2" stroke-width="0.45"/>
<line x1="34.23" y1="477.91" x2="114.18" y2="516.37" stroke="#eeeeee" stroke-width="0.45"/>
<line x1="41.97" y1="471.34" x2="31.55" y2="390.38" stroke="#e2e2e2" stroke-width="0.45"/>
<line x1="41.97" y1="471.34" x2="121.16" y2="508.32" stroke="#eeeeee" stroke-width="0.45"/>
<line x1="49.43" y1="465.00" x2="40.19" y2="384.84" stroke="#e2e2e2" stroke-width="0.45"/>
<line x1="49.43" y1="465.00" x2="127.87" y2="500.59" stroke="#eeeeee" stroke-width="0.45"/>
<line x1="56.64" y1="458.89" x2="48.50" y2="379.51" stroke="#e2e2e2" stroke-width="0.45"/>
<line x1="56.64" y1="458.89" x2="134.32" y2="493.15" stroke="#eeeeee" stroke-width="0.45"/>
<line x1="63.60" y1="452.98" x2="56.49" y2="374.40" stroke="#e2e2e2" stroke-width="0.45"/>
<line x1="63.60" y1="452.98" x2="140.53" y2="486.00" stroke="#eeeeee" stroke-width="0.45"/>
<line x1="70.33" y1="447.27" x2="64.17" y2="369.47" stroke="#e2e2e2" stroke-width="0.45"/>
<line x1="70.33" y1="447.27" x2="146.51" y2="479.10" stroke="#eeeeee" stroke-width="0.45"/>
<line x1="76.83" y1="441.75" x2="71.58" y2="364.73" stroke="#e2e2e2" stroke-width="0.45"/>
<line x1="76.83" y1="441.75" x2="152.27" y2="472.46" stroke="#eeeeee" stroke-width="0.45"/>
<line x1="94.65" y1="440.99" x2="91.54" y2="364.00" stroke="#e2e2e2" stroke-width="0.45"/>
<line x1="118.75" y1="450.55" x2="118.53" y2="372.09" stroke="#e2e2e2" stroke-width="0.45"/>
<line x1="144.39" y1="460.72" x2="147.47" y2="380.76" stroke="#e2e2e2" stroke-width="0.45"/>
<line x1="38.49" y1="490.82" x2="94.65" y2="440.99" stroke="#eeeeee" stroke-width="0.45"/>
<line x1="51.21" y1="497.14" x2="106.52" y2="445.70" stroke="#eeeeee" stroke-width="0.45"/>
<line x1="64.39" y1="503.67" x2="118.75" y2="450.55" stroke="#eeeeee" stroke-width="0.45"/>
<line x1="78.05" y1="510.45" x2="131.37" y2="455.56" stroke="#eeeeee" stroke-width="0.45"/>
<line x1="92.21" y1="517.47" x2="144.39" y2="460.72" stroke="#eeeeee" stroke-width="0.45"/>
<line x1="23.72" y1="469.06" x2="82.28" y2="421.73" stroke="#e2e2e2" stroke-width="0.45"/>
<line x1="82.28" y1="421.73" x2="158.76" y2="450.66" stroke="#e2e2e2" stroke-width="0.45"/>
<line x1="21.11" y1="452.54" x2="81.39" y2="406.36" stroke="#e2e2e2" stroke-width="0.45"/>
<line x1="81.39" y1="406.36" x2="159.74" y2="434.47" stroke="#e2e2e2" stroke-width="0.45"/>
<line x1="18.35" y1="435.11" x2="80.45" y2="390.26" stroke="#e2e2e2" stroke-width="0.45"/>
<line x1="80.45" y1="390.26" x2="160.78" y2="417.42" stroke="#e2e2e2" stroke-width="0.45"/>
<line x1="15.44" y1="416.69" x2="79.47" y2="373.38" stroke="#e2e2e2" stroke-width="0.45"/>
<line x1="79.47" y1="373.38" x2="161.87" y2="399.46" stroke="#e2e2e2" stroke-width="0.45"/>
<line x1="13.15" y1="402.17" x2="78.71" y2="360.16" stroke="#a0a0a0" stroke-width="0.6"/>
<line x1="78.71" y1="360.16" x2="162.72" y2="385.34" stroke="#a0a0a0" stroke-width="0.6"/>
<line x1="162.72" y1="385.34" x2="157.83" y2="466.06" stroke="#a0a0a0" stroke-width="0.6"/>
<line x1="83.13" y1="436.41" x2="78.71" y2="360.16" stroke="#a0a0a0" stroke-width="0.5"/>
<line x1="26.19" y1="484.73" x2="83.13" y2="436.41" stroke="#a0a0a0" stroke-width="0.5"/>
<line x1="83.13" y1="436.41" x2="157.83" y2="466.06" stroke="#a0a0a0" stroke-width="0.5"/>
<line x1="26.19" y1="484.73" x2="13.15" y2="402.17" stroke="#555" stroke-width="0.7"/>
<line x1="26.19" y1="484.73" x2="106.90" y2="524.76" stroke="#555" stroke-width="0.7"/>
<line x1="106.90" y1="524.76" x2="157.83" y2="466.06" stroke="#555" stroke-width="0.7"/>
<line x1="26.19" y1="484.73" x2="24.69" y2="485.03" stroke="#555" stroke-width="0.6"/>
<text x="21.59" y="488.53" font-size="4.7" font-weight="bold" text-anchor="middle" dominant-baseline="central" fill="#222" stroke="#222" stroke-width="0.15" transform="rotate(-47.0 21.59 488.53)">0.0</text>
<line x1="23.72" y1="469.06" x2="22.22" y2="469.36" stroke="#555" stroke-width="0.6"/>
<text x="19.12" y="472.86" font-size="4.7" font-weight="bold" text-anchor="middle" dominant-baseline="central" fill="#222" stroke="#222" stroke-width="0.15" transform="rotate(-47.0 19.12 472.86)">0.2</text>
<line x1="21.11" y1="452.54" x2="19.61" y2="452.84" stroke="#555" stroke-width="0.6"/>
<text x="16.51" y="456.34" font-size="4.7" font-weight="bold" text-anchor="middle" dominant-baseline="central" fill="#222" stroke="#222" stroke-width="0.15" transform="rotate(-47.0 16.51 456.34)">0.4</text>
<line x1="18.35" y1="435.11" x2="16.85" y2="435.41" stroke="#555" stroke-width="0.6"/>
<text x="13.75" y="438.91" font-size="4.7" font-weight="bold" text-anchor="middle" dominant-baseline="central" fill="#222" stroke="#222" stroke-width="0.15" transform="rotate(-47.0 13.75 438.91)">0.6</text>
<line x1="15.44" y1="416.69" x2="13.94" y2="416.99" stroke="#555" stroke-width="0.6"/>
<text x="10.84" y="420.49" font-size="4.7" font-weight="bold" text-anchor="middle" dominant-baseline="central" fill="#222" stroke="#222" stroke-width="0.15" transform="rotate(-47.0 10.84 420.49)">0.8</text>
<line x1="38.49" y1="490.82" x2="37.59" y2="492.32" stroke="#555" stroke-width="0.6"/>
<line x1="64.39" y1="503.67" x2="63.49" y2="505.17" stroke="#555" stroke-width="0.6"/>
<line x1="92.21" y1="517.47" x2="91.31" y2="518.97" stroke="#555" stroke-width="0.6"/>
<line x1="114.18" y1="516.37" x2="115.68" y2="517.27" stroke="#555" stroke-width="0.6"/>
<line x1="127.87" y1="500.59" x2="129.37" y2="501.49" stroke="#555" stroke-width="0.6"/>
<line x1="140.53" y1="486.00" x2="142.03" y2="486.90" stroke="#555" stroke-width="0.6"/>
<line x1="152.27" y1="472.46" x2="153.77" y2="473.36" stroke="#555" stroke-width="0.6"/>
<polygon points="81.05,447.36 89.86,450.99 88.31,419.15 79.08,415.72" fill="#078807" stroke="#078807" stroke-width="0.3" stroke-linejoin="round"/>
<polygon points="89.86,450.99 95.82,445.61 94.60,414.04 88.31,419.15" fill="#046604" stroke="#046604" stroke-width="0.3" stroke-linejoin="round"/>
<polygon points="79.08,415.72 88.31,419.15 86.77,387.49 77.13,384.29" fill="#b2f066" stroke="#b2f066" stroke-width="0.3" stroke-linejoin="round"/>
<polygon points="88.31,419.15 94.60,414.04 93.38,382.69 86.77,387.49" fill="#aae660" stroke="#aae660" stroke-width="0.3" stroke-linejoin="round"/>
<polygon points="77.13,384.29 86.77,387.49 93.38,382.69 83.82,379.60" fill="#bff47c" stroke="#bff47c" stroke-width="0.3" stroke-linejoin="round"/>
<text x="85.27" y="383.19" font-size="5.4" font-weight="bold" text-anchor="middle" fill="#1a1a1a" stroke="#1a1a1a" stroke-width="0.15">0.769</text>
<text x="85.27" y="389.09" font-size="5.4" font-weight="bold" text-anchor="middle" fill="#1a1a1a" stroke="#1a1a1a" stroke-width="0.15">0.404</text>
<polygon points="67.72,458.99 76.69,462.88 71.81,393.95 61.92,390.52" fill="#078807" stroke="#078807" stroke-width="0.3" stroke-linejoin="round"/>
<polygon points="76.69,462.88 83.07,457.12 78.98,388.81 71.81,393.95" fill="#046604" stroke="#046604" stroke-width="0.3" stroke-linejoin="round"/>
<polygon points="61.92,390.52 71.81,393.95 71.48,389.40 61.54,386.01" fill="#b2f066" stroke="#b2f066" stroke-width="0.3" stroke-linejoin="round"/>
<polygon points="71.81,393.95 78.98,388.81 78.71,384.32 71.48,389.40" fill="#aae660" stroke="#aae660" stroke-width="0.3" stroke-linejoin="round"/>
<polygon points="61.54,386.01 71.48,389.40 78.71,384.32 68.85,381.05" fill="#bff47c" stroke="#bff47c" stroke-width="0.3" stroke-linejoin="round"/>
<text x="70.15" y="384.86" font-size="5.4" font-weight="bold" text-anchor="middle" fill="#1a1a1a" stroke="#1a1a1a" stroke-width="0.15">0.862</text>
<text x="70.15" y="390.76" font-size="5.4" font-weight="bold" text-anchor="middle" fill="#1a1a1a" stroke="#1a1a1a" stroke-width="0.15">0.814</text>
<polygon points="105.20,457.31 114.58,461.18 114.11,412.21 104.01,408.66" fill="#6472f1" stroke="#6472f1" stroke-width="0.3" stroke-linejoin="round"/>
<polygon points="114.58,461.18 120.32,455.46 120.31,406.92 114.11,412.21" fill="#3e4ab4" stroke="#3e4ab4" stroke-width="0.3" stroke-linejoin="round"/>
<polygon points="104.01,408.66 114.11,412.21 113.97,397.16 103.65,393.73" fill="#bee8fa" stroke="#bee8fa" stroke-width="0.3" stroke-linejoin="round"/>
<polygon points="114.11,412.21 120.31,406.92 120.30,392.02 113.97,397.16" fill="#90aaba" stroke="#90aaba" stroke-width="0.3" stroke-linejoin="round"/>
<polygon points="103.65,393.73 113.97,397.16 120.30,392.02 110.08,388.72" fill="#cdeefc" stroke="#cdeefc" stroke-width="0.3" stroke-linejoin="round"/>
<text x="112.00" y="392.57" font-size="5.4" font-weight="bold" text-anchor="middle" fill="#1a1a1a" stroke="#1a1a1a" stroke-width="0.15">0.762</text>
<text x="112.00" y="398.47" font-size="5.4" font-weight="bold" text-anchor="middle" fill="#1a1a1a" stroke="#1a1a1a" stroke-width="0.15">0.596</text>
<polygon points="53.44,471.45 62.55,475.65 58.64,434.77 48.97,430.83" fill="#078807" stroke="#078807" stroke-width="0.3" stroke-linejoin="round"/>
<polygon points="62.55,475.65 69.41,469.46 66.02,428.92 58.64,434.77" fill="#046604" stroke="#046604" stroke-width="0.3" stroke-linejoin="round"/>
<polygon points="48.97,430.83 58.64,434.77 56.00,407.11 45.95,403.37" fill="#b2f066" stroke="#b2f066" stroke-width="0.3" stroke-linejoin="round"/>
<polygon points="58.64,434.77 66.02,428.92 63.74,401.53 56.00,407.11" fill="#aae660" stroke="#aae660" stroke-width="0.3" stroke-linejoin="round"/>
<polygon points="45.95,403.37 56.00,407.11 63.74,401.53 53.78,397.94" fill="#bff47c" stroke="#bff47c" stroke-width="0.3" stroke-linejoin="round"/>
<text x="54.87" y="402.15" font-size="5.4" font-weight="bold" text-anchor="middle" fill="#1a1a1a" stroke="#1a1a1a" stroke-width="0.15">0.796</text>
<text x="54.87" y="408.05" font-size="5.4" font-weight="bold" text-anchor="middle" fill="#1a1a1a" stroke="#1a1a1a" stroke-width="0.15">0.495</text>
<polygon points="92.31,469.68 101.87,473.83 100.30,422.34 89.96,418.51" fill="#6472f1" stroke="#6472f1" stroke-width="0.3" stroke-linejoin="round"/>
<polygon points="101.87,473.83 108.04,467.70 107.00,416.64 100.30,422.34" fill="#3e4ab4" stroke="#3e4ab4" stroke-width="0.3" stroke-linejoin="round"/>
<polygon points="89.96,418.51 100.30,422.34 99.53,397.32 88.81,393.68" fill="#bee8fa" stroke="#bee8fa" stroke-width="0.3" stroke-linejoin="round"/>
<polygon points="100.30,422.34 107.00,416.64 106.50,391.89 99.53,397.32" fill="#90aaba" stroke="#90aaba" stroke-width="0.3" stroke-linejoin="round"/>
<polygon points="88.81,393.68 99.53,397.32 106.50,391.89 95.89,388.39" fill="#cdeefc" stroke="#cdeefc" stroke-width="0.3" stroke-linejoin="round"/>
<text x="97.68" y="392.48" font-size="5.4" font-weight="bold" text-anchor="middle" fill="#1a1a1a" stroke="#1a1a1a" stroke-width="0.15">0.879</text>
<text x="97.68" y="398.38" font-size="5.4" font-weight="bold" text-anchor="middle" fill="#1a1a1a" stroke="#1a1a1a" stroke-width="0.15">0.614</text>
<polygon points="130.92,467.91 140.92,472.04 141.05,468.22 130.99,464.13" fill="#f26464" stroke="#f26464" stroke-width="0.3" stroke-linejoin="round"/>
<polygon points="140.92,472.04 146.40,465.95 146.56,462.17 141.05,468.22" fill="#c84e52" stroke="#c84e52" stroke-width="0.3" stroke-linejoin="round"/>
<polygon points="130.99,464.13 141.05,468.22 141.08,467.44 131.00,463.35" fill="#ffc2c2" stroke="#ffc2c2" stroke-width="0.3" stroke-linejoin="round"/>
<polygon points="141.05,468.22 146.56,462.17 146.59,461.39 141.08,467.44" fill="#cfa0a2" stroke="#cfa0a2" stroke-width="0.3" stroke-linejoin="round"/>
<polygon points="131.00,463.35 141.08,467.44 146.59,461.39 136.62,457.44" fill="#ecc0c0" stroke="#ecc0c0" stroke-width="0.3" stroke-linejoin="round"/>
<text x="138.82" y="462.07" font-size="5.4" font-weight="bold" text-anchor="middle" fill="#1a1a1a" stroke="#1a1a1a" stroke-width="0.15">0.059</text>
<text x="138.82" y="467.97" font-size="5.4" font-weight="bold" text-anchor="middle" fill="#1a1a1a" stroke="#1a1a1a" stroke-width="0.15">0.049</text>
<polygon points="38.08,484.85 47.35,489.38 41.28,440.26 31.34,436.04" fill="#078807" stroke="#078807" stroke-width="0.3" stroke-linejoin="round"/>
<polygon points="47.35,489.38 54.73,482.71 49.37,434.00 41.28,440.26" fill="#046604" stroke="#046604" stroke-width="0.3" stroke-linejoin="round"/>
<polygon points="31.34,436.04 41.28,440.26 38.93,421.21 28.73,417.13" fill="#b2f066" stroke="#b2f066" stroke-width="0.3" stroke-linejoin="round"/>
<polygon points="41.28,440.26 49.37,434.00 47.30,415.14 38.93,421.21" fill="#aae660" stroke="#aae660" stroke-width="0.3" stroke-linejoin="round"/>
<polygon points="28.73,417.13 38.93,421.21 47.30,415.14 37.19,411.23" fill="#bff47c" stroke="#bff47c" stroke-width="0.3" stroke-linejoin="round"/>
<text x="38.04" y="415.84" font-size="5.4" font-weight="bold" text-anchor="middle" fill="#1a1a1a" stroke="#1a1a1a" stroke-width="0.15">0.779</text>
<text x="38.04" y="421.74" font-size="5.4" font-weight="bold" text-anchor="middle" fill="#1a1a1a" stroke="#1a1a1a" stroke-width="0.15">0.578</text>
<polygon points="78.46,482.96 88.21,487.45 85.37,435.22 74.82,431.06" fill="#6472f1" stroke="#6472f1" stroke-width="0.3" stroke-linejoin="round"/>
<polygon points="88.21,487.45 94.84,480.84 92.63,429.05 85.37,435.22" fill="#3e4ab4" stroke="#3e4ab4" stroke-width="0.3" stroke-linejoin="round"/>
<polygon points="74.82,431.06 85.37,435.22 84.27,415.02 73.41,411.02" fill="#bee8fa" stroke="#bee8fa" stroke-width="0.3" stroke-linejoin="round"/>
<polygon points="85.37,435.22 92.63,429.05 91.77,409.06 84.27,415.02" fill="#90aaba" stroke="#90aaba" stroke-width="0.3" stroke-linejoin="round"/>
<polygon points="73.41,411.02 84.27,415.02 91.77,409.06 81.02,405.22" fill="#cdeefc" stroke="#cdeefc" stroke-width="0.3" stroke-linejoin="round"/>
<text x="82.62" y="409.73" font-size="5.4" font-weight="bold" text-anchor="middle" fill="#1a1a1a" stroke="#1a1a1a" stroke-width="0.15">0.823</text>
<text x="82.62" y="415.63" font-size="5.4" font-weight="bold" text-anchor="middle" fill="#1a1a1a" stroke="#1a1a1a" stroke-width="0.15">0.612</text>
<polygon points="118.56,481.09 128.77,485.53 129.50,433.34 118.39,429.22" fill="#f26464" stroke="#f26464" stroke-width="0.3" stroke-linejoin="round"/>
<polygon points="128.77,485.53 134.67,478.98 135.89,427.23 129.50,433.34" fill="#c84e52" stroke="#c84e52" stroke-width="0.3" stroke-linejoin="round"/>
<polygon points="118.39,429.22 129.50,433.34 129.50,433.06 118.39,428.95" fill="#ffc2c2" stroke="#ffc2c2" stroke-width="0.3" stroke-linejoin="round"/>
<polygon points="129.50,433.34 135.89,427.23 135.89,426.95 129.50,433.06" fill="#cfa0a2" stroke="#cfa0a2" stroke-width="0.3" stroke-linejoin="round"/>
<polygon points="118.39,428.95 129.50,433.06 135.89,426.95 124.90,423.00" fill="#ecc0c0" stroke="#ecc0c0" stroke-width="0.3" stroke-linejoin="round"/>
<text x="127.16" y="427.65" font-size="5.4" font-weight="bold" text-anchor="middle" fill="#1a1a1a" stroke="#1a1a1a" stroke-width="0.15">0.615</text>
<text x="127.16" y="433.55" font-size="5.4" font-weight="bold" text-anchor="middle" fill="#1a1a1a" stroke="#1a1a1a" stroke-width="0.15">0.612</text>
<polygon points="63.54,497.28 73.47,502.13 68.84,445.10 58.01,440.60" fill="#6472f1" stroke="#6472f1" stroke-width="0.3" stroke-linejoin="round"/>
<polygon points="73.47,502.13 80.63,495.00 76.78,438.43 68.84,445.10" fill="#3e4ab4" stroke="#3e4ab4" stroke-width="0.3" stroke-linejoin="round"/>
<polygon points="58.01,440.60 68.84,445.10 67.64,430.28 56.58,425.89" fill="#bee8fa" stroke="#bee8fa" stroke-width="0.3" stroke-linejoin="round"/>
<polygon points="68.84,445.10 76.78,438.43 75.78,423.76 67.64,430.28" fill="#90aaba" stroke="#90aaba" stroke-width="0.3" stroke-linejoin="round"/>
<polygon points="56.58,425.89 67.64,430.28 75.78,423.76 64.83,419.55" fill="#cdeefc" stroke="#cdeefc" stroke-width="0.3" stroke-linejoin="round"/>
<text x="66.21" y="424.52" font-size="5.4" font-weight="bold" text-anchor="middle" fill="#1a1a1a" stroke="#1a1a1a" stroke-width="0.15">0.804</text>
<text x="66.21" y="430.42" font-size="5.4" font-weight="bold" text-anchor="middle" fill="#1a1a1a" stroke="#1a1a1a" stroke-width="0.15">0.653</text>
<polygon points="105.23,495.28 115.68,500.08 115.52,481.71 104.76,477.01" fill="#f26464" stroke="#f26464" stroke-width="0.3" stroke-linejoin="round"/>
<polygon points="115.68,500.08 122.04,493.01 122.08,474.77 115.52,481.71" fill="#c84e52" stroke="#c84e52" stroke-width="0.3" stroke-linejoin="round"/>
<polygon points="104.76,477.01 115.52,481.71 115.52,481.12 104.74,476.42" fill="#ffc2c2" stroke="#ffc2c2" stroke-width="0.3" stroke-linejoin="round"/>
<polygon points="115.52,481.71 122.08,474.77 122.09,474.19 115.52,481.12" fill="#cfa0a2" stroke="#cfa0a2" stroke-width="0.3" stroke-linejoin="round"/>
<polygon points="104.74,476.42 115.52,481.12 122.09,474.19 111.42,469.66" fill="#ecc0c0" stroke="#ecc0c0" stroke-width="0.3" stroke-linejoin="round"/>
<text x="113.44" y="475.00" font-size="5.4" font-weight="bold" text-anchor="middle" fill="#1a1a1a" stroke="#1a1a1a" stroke-width="0.15">0.231</text>
<text x="113.44" y="480.90" font-size="5.4" font-weight="bold" text-anchor="middle" fill="#1a1a1a" stroke="#1a1a1a" stroke-width="0.15">0.224</text>
<polygon points="90.84,510.61 101.51,515.81 100.80,494.52 89.74,489.42" fill="#f26464" stroke="#f26464" stroke-width="0.3" stroke-linejoin="round"/>
<polygon points="101.51,515.81 108.40,508.17 107.95,487.01 100.80,494.52" fill="#c84e52" stroke="#c84e52" stroke-width="0.3" stroke-linejoin="round"/>
<polygon points="89.74,489.42 100.80,494.52 100.74,492.69 89.65,487.60" fill="#ffc2c2" stroke="#ffc2c2" stroke-width="0.3" stroke-linejoin="round"/>
<polygon points="100.80,494.52 107.95,487.01 107.91,485.20 100.74,492.69" fill="#cfa0a2" stroke="#cfa0a2" stroke-width="0.3" stroke-linejoin="round"/>
<polygon points="89.65,487.60 100.74,492.69 107.91,485.20 96.94,480.31" fill="#ecc0c0" stroke="#ecc0c0" stroke-width="0.3" stroke-linejoin="round"/>
<text x="98.81" y="486.10" font-size="5.4" font-weight="bold" text-anchor="middle" fill="#1a1a1a" stroke="#1a1a1a" stroke-width="0.15">0.276</text>
<text x="98.81" y="492.00" font-size="5.4" font-weight="bold" text-anchor="middle" fill="#1a1a1a" stroke="#1a1a1a" stroke-width="0.15">0.255</text>
<text x="33.09" y="495.02" font-size="4.8" font-weight="bold" text-anchor="middle" dominant-baseline="central" fill="#222" stroke="#222" stroke-width="0.28" transform="rotate(-42.0 33.09 495.02)">RF</text>
<text x="58.39" y="509.17" font-size="4.8" font-weight="bold" text-anchor="middle" dominant-baseline="central" fill="#222" stroke="#222" stroke-width="0.28" transform="rotate(-42.0 58.39 509.17)">ETr</text>
<text x="86.81" y="522.07" font-size="4.8" font-weight="bold" text-anchor="middle" dominant-baseline="central" fill="#222" stroke="#222" stroke-width="0.28" transform="rotate(-42.0 86.81 522.07)">LR</text>
<text x="41.29" y="509.57" font-size="5.75" font-weight="bold" text-anchor="middle" dominant-baseline="central" fill="#222" stroke="#222" stroke-width="0.28" transform="rotate(28.0 41.29 509.57)">Machine learning algorithm</text>
<text x="116.68" y="518.97" font-size="5.1" font-weight="bold" text-anchor="start" dominant-baseline="central" fill="#222" stroke="#222" stroke-width="0.28" transform="rotate(20.0 116.68 518.97)">End</text>
<text x="130.37" y="503.19" font-size="5.1" font-weight="bold" text-anchor="start" dominant-baseline="central" fill="#222" stroke="#222" stroke-width="0.28" transform="rotate(20.0 130.37 503.19)">Late</text>
<text x="143.03" y="488.60" font-size="5.1" font-weight="bold" text-anchor="start" dominant-baseline="central" fill="#222" stroke="#222" stroke-width="0.28" transform="rotate(20.0 143.03 488.60)">Middle</text>
<text x="154.77" y="475.06" font-size="5.1" font-weight="bold" text-anchor="start" dominant-baseline="central" fill="#222" stroke="#222" stroke-width="0.28" transform="rotate(20.0 154.77 475.06)">Early</text>
<text x="156.72" y="504.65" font-size="5.0" font-weight="bold" text-anchor="middle" dominant-baseline="central" fill="#222" stroke="#222" stroke-width="0.28" transform="rotate(-48.0 156.72 504.65)">Growth Stages</text>
<text x="8.61" y="455.54" font-size="5.4" font-weight="bold" font-style="italic" fill="#222" stroke="#222" stroke-width="0.15" text-anchor="middle" dominant-baseline="central" transform="rotate(-45 8.61 455.54)">R<tspan font-size="3.4" dy="-2">2</tspan></text>
<text x="20.60" y="371.30" font-size="11" font-weight="bold" text-anchor="start" fill="#111">(g)</text>
<line x1="206.62" y1="480.89" x2="194.46" y2="397.84" stroke="#e2e2e2" stroke-width="0.45"/>
<line x1="206.62" y1="480.89" x2="288.51" y2="519.76" stroke="#eeeeee" stroke-width="0.45"/>
<line x1="214.52" y1="474.20" x2="203.66" y2="391.95" stroke="#e2e2e2" stroke-width="0.45"/>
<line x1="214.52" y1="474.20" x2="295.64" y2="511.56" stroke="#eeeeee" stroke-width="0.45"/>
<line x1="222.15" y1="467.74" x2="212.49" y2="386.30" stroke="#e2e2e2" stroke-width="0.45"/>
<line x1="222.15" y1="467.74" x2="302.48" y2="503.68" stroke="#eeeeee" stroke-width="0.45"/>
<line x1="229.51" y1="461.50" x2="220.98" y2="380.87" stroke="#e2e2e2" stroke-width="0.45"/>
<line x1="229.51" y1="461.50" x2="309.06" y2="496.10" stroke="#eeeeee" stroke-width="0.45"/>
<line x1="236.61" y1="455.48" x2="229.13" y2="375.64" stroke="#e2e2e2" stroke-width="0.45"/>
<line x1="236.61" y1="455.48" x2="315.40" y2="488.81" stroke="#eeeeee" stroke-width="0.45"/>
<line x1="243.48" y1="449.66" x2="236.99" y2="370.62" stroke="#e2e2e2" stroke-width="0.45"/>
<line x1="243.48" y1="449.66" x2="321.50" y2="481.79" stroke="#eeeeee" stroke-width="0.45"/>
<line x1="250.12" y1="444.03" x2="244.55" y2="365.78" stroke="#e2e2e2" stroke-width="0.45"/>
<line x1="250.12" y1="444.03" x2="327.38" y2="475.03" stroke="#eeeeee" stroke-width="0.45"/>
<line x1="268.34" y1="443.20" x2="264.97" y2="364.98" stroke="#e2e2e2" stroke-width="0.45"/>
<line x1="293.03" y1="452.86" x2="292.61" y2="373.13" stroke="#e2e2e2" stroke-width="0.45"/>
<line x1="319.28" y1="463.12" x2="322.23" y2="381.86" stroke="#e2e2e2" stroke-width="0.45"/>
<line x1="211.01" y1="494.00" x2="268.34" y2="443.20" stroke="#eeeeee" stroke-width="0.45"/>
<line x1="224.05" y1="500.38" x2="280.50" y2="447.96" stroke="#eeeeee" stroke-width="0.45"/>
<line x1="237.55" y1="506.99" x2="293.03" y2="452.86" stroke="#eeeeee" stroke-width="0.45"/>
<line x1="251.53" y1="513.83" x2="305.95" y2="457.91" stroke="#eeeeee" stroke-width="0.45"/>
<line x1="266.04" y1="520.93" x2="319.28" y2="463.12" stroke="#eeeeee" stroke-width="0.45"/>
<line x1="195.85" y1="471.92" x2="255.64" y2="423.67" stroke="#e2e2e2" stroke-width="0.45"/>
<line x1="255.64" y1="423.67" x2="333.96" y2="452.85" stroke="#e2e2e2" stroke-width="0.45"/>
<line x1="193.14" y1="455.15" x2="254.69" y2="408.06" stroke="#e2e2e2" stroke-width="0.45"/>
<line x1="254.69" y1="408.06" x2="334.92" y2="436.40" stroke="#e2e2e2" stroke-width="0.45"/>
<line x1="190.27" y1="437.45" x2="253.69" y2="391.70" stroke="#e2e2e2" stroke-width="0.45"/>
<line x1="253.69" y1="391.70" x2="335.94" y2="419.08" stroke="#e2e2e2" stroke-width="0.45"/>
<line x1="187.25" y1="418.73" x2="252.65" y2="374.54" stroke="#e2e2e2" stroke-width="0.45"/>
<line x1="252.65" y1="374.54" x2="337.01" y2="400.82" stroke="#e2e2e2" stroke-width="0.45"/>
<line x1="184.86" y1="403.98" x2="251.83" y2="361.11" stroke="#a0a0a0" stroke-width="0.6"/>
<line x1="251.83" y1="361.11" x2="337.85" y2="386.46" stroke="#a0a0a0" stroke-width="0.6"/>
<line x1="337.85" y1="386.46" x2="333.04" y2="468.50" stroke="#a0a0a0" stroke-width="0.6"/>
<line x1="256.55" y1="438.59" x2="251.83" y2="361.11" stroke="#a0a0a0" stroke-width="0.5"/>
<line x1="198.42" y1="487.84" x2="256.55" y2="438.59" stroke="#a0a0a0" stroke-width="0.5"/>
<line x1="256.55" y1="438.59" x2="333.04" y2="468.50" stroke="#a0a0a0" stroke-width="0.5"/>
<line x1="198.42" y1="487.84" x2="184.86" y2="403.98" stroke="#555" stroke-width="0.7"/>
<line x1="198.42" y1="487.84" x2="281.09" y2="528.30" stroke="#555" stroke-width="0.7"/>
<line x1="281.09" y1="528.30" x2="333.04" y2="468.50" stroke="#555" stroke-width="0.7"/>
<line x1="198.42" y1="487.84" x2="196.92" y2="488.14" stroke="#555" stroke-width="0.6"/>
<text x="193.82" y="491.64" font-size="4.7" font-weight="bold" text-anchor="middle" dominant-baseline="central" fill="#222" stroke="#222" stroke-width="0.15" transform="rotate(-47.0 193.82 491.64)">0.0</text>
<line x1="195.85" y1="471.92" x2="194.35" y2="472.22" stroke="#555" stroke-width="0.6"/>
<text x="191.25" y="475.72" font-size="4.7" font-weight="bold" text-anchor="middle" dominant-baseline="central" fill="#222" stroke="#222" stroke-width="0.15" transform="rotate(-47.0 191.25 475.72)">0.2</text>
<line x1="193.14" y1="455.15" x2="191.64" y2="455.45" stroke="#555" stroke-width="0.6"/>
<text x="188.54" y="458.95" font-size="4.7" font-weight="bold" text-anchor="middle" dominant-baseline="central" fill="#222" stroke="#222" stroke-width="0.15" transform="rotate(-47.0 188.54 458.95)">0.4</text>
<line x1="190.27" y1="437.45" x2="188.77" y2="437.75" stroke="#555" stroke-width="0.6"/>
<text x="185.67" y="441.25" font-size="4.7" font-weight="bold" text-anchor="middle" dominant-baseline="central" fill="#222" stroke="#222" stroke-width="0.15" transform="rotate(-47.0 185.67 441.25)">0.6</text>
<line x1="187.25" y1="418.73" x2="185.75" y2="419.03" stroke="#555" stroke-width="0.6"/>
<text x="182.65" y="422.53" font-size="4.7" font-weight="bold" text-anchor="middle" dominant-baseline="central" fill="#222" stroke="#222" stroke-width="0.15" transform="rotate(-47.0 182.65 422.53)">0.8</text>
<line x1="211.01" y1="494.00" x2="210.11" y2="495.50" stroke="#555" stroke-width="0.6"/>
<line x1="237.55" y1="506.99" x2="236.65" y2="508.49" stroke="#555" stroke-width="0.6"/>
<line x1="266.04" y1="520.93" x2="265.14" y2="522.43" stroke="#555" stroke-width="0.6"/>
<line x1="288.51" y1="519.76" x2="290.01" y2="520.66" stroke="#555" stroke-width="0.6"/>
<line x1="302.48" y1="503.68" x2="303.98" y2="504.58" stroke="#555" stroke-width="0.6"/>
<line x1="315.40" y1="488.81" x2="316.90" y2="489.71" stroke="#555" stroke-width="0.6"/>
<line x1="327.38" y1="475.03" x2="328.88" y2="475.93" stroke="#555" stroke-width="0.6"/>
<polygon points="254.45,449.72 263.47,453.38 262.51,434.63 253.23,431.08" fill="#078807" stroke="#078807" stroke-width="0.3" stroke-linejoin="round"/>
<polygon points="263.47,453.38 269.56,447.90 268.78,429.30 262.51,434.63" fill="#046604" stroke="#046604" stroke-width="0.3" stroke-linejoin="round"/>
<polygon points="253.23,431.08 262.51,434.63 260.05,386.92 250.15,383.71" fill="#b2f066" stroke="#b2f066" stroke-width="0.3" stroke-linejoin="round"/>
<polygon points="262.51,434.63 268.78,429.30 266.82,382.04 260.05,386.92" fill="#aae660" stroke="#aae660" stroke-width="0.3" stroke-linejoin="round"/>
<polygon points="250.15,383.71 260.05,386.92 266.82,382.04 257.00,378.95" fill="#bff47c" stroke="#bff47c" stroke-width="0.3" stroke-linejoin="round"/>
<text x="258.50" y="382.57" font-size="5.4" font-weight="bold" text-anchor="middle" fill="#1a1a1a" stroke="#1a1a1a" stroke-width="0.15">0.79</text>
<text x="258.50" y="388.47" font-size="5.4" font-weight="bold" text-anchor="middle" fill="#1a1a1a" stroke="#1a1a1a" stroke-width="0.15">0.239</text>
<polygon points="240.84,461.57 250.02,465.51 247.45,430.61 237.80,426.89" fill="#078807" stroke="#078807" stroke-width="0.3" stroke-linejoin="round"/>
<polygon points="250.02,465.51 256.54,459.63 254.37,425.03 247.45,430.61" fill="#046604" stroke="#046604" stroke-width="0.3" stroke-linejoin="round"/>
<polygon points="237.80,426.89 247.45,430.61 245.53,404.62 235.53,401.09" fill="#b2f066" stroke="#b2f066" stroke-width="0.3" stroke-linejoin="round"/>
<polygon points="247.45,430.61 254.37,425.03 252.75,399.29 245.53,404.62" fill="#aae660" stroke="#aae660" stroke-width="0.3" stroke-linejoin="round"/>
<polygon points="235.53,401.09 245.53,404.62 252.75,399.29 242.83,395.89" fill="#bff47c" stroke="#bff47c" stroke-width="0.3" stroke-linejoin="round"/>
<text x="244.16" y="399.89" font-size="5.4" font-weight="bold" text-anchor="middle" fill="#1a1a1a" stroke="#1a1a1a" stroke-width="0.15">0.717</text>
<text x="244.16" y="405.79" font-size="5.4" font-weight="bold" text-anchor="middle" fill="#1a1a1a" stroke="#1a1a1a" stroke-width="0.15">0.427</text>
<polygon points="279.18,459.77 288.79,463.67 288.68,454.48 278.94,450.63" fill="#6472f1" stroke="#6472f1" stroke-width="0.3" stroke-linejoin="round"/>
<polygon points="288.79,463.67 294.65,457.84 294.62,448.73 288.68,454.48" fill="#3e4ab4" stroke="#3e4ab4" stroke-width="0.3" stroke-linejoin="round"/>
<polygon points="278.94,450.63 288.68,454.48 287.98,396.54 277.37,393.09" fill="#bee8fa" stroke="#bee8fa" stroke-width="0.3" stroke-linejoin="round"/>
<polygon points="288.68,454.48 294.62,448.73 294.46,391.32 287.98,396.54" fill="#90aaba" stroke="#90aaba" stroke-width="0.3" stroke-linejoin="round"/>
<polygon points="277.37,393.09 287.98,396.54 294.46,391.32 283.97,388.01" fill="#cdeefc" stroke="#cdeefc" stroke-width="0.3" stroke-linejoin="round"/>
<text x="285.94" y="391.91" font-size="5.4" font-weight="bold" text-anchor="middle" fill="#1a1a1a" stroke="#1a1a1a" stroke-width="0.15">0.784</text>
<text x="285.94" y="397.81" font-size="5.4" font-weight="bold" text-anchor="middle" fill="#1a1a1a" stroke="#1a1a1a" stroke-width="0.15">0.117</text>
<polygon points="226.26,474.28 235.60,478.51 230.37,425.60 220.31,421.70" fill="#078807" stroke="#078807" stroke-width="0.3" stroke-linejoin="round"/>
<polygon points="235.60,478.51 242.59,472.21 238.05,419.74 230.37,425.60" fill="#046604" stroke="#046604" stroke-width="0.3" stroke-linejoin="round"/>
<polygon points="220.31,421.70 230.37,425.60 228.38,405.46 218.04,401.72" fill="#b2f066" stroke="#b2f066" stroke-width="0.3" stroke-linejoin="round"/>
<polygon points="230.37,425.60 238.05,419.74 236.33,399.81 228.38,405.46" fill="#aae660" stroke="#aae660" stroke-width="0.3" stroke-linejoin="round"/>
<polygon points="218.04,401.72 228.38,405.46 236.33,399.81 226.08,396.22" fill="#bff47c" stroke="#bff47c" stroke-width="0.3" stroke-linejoin="round"/>
<text x="227.21" y="400.46" font-size="5.4" font-weight="bold" text-anchor="middle" fill="#1a1a1a" stroke="#1a1a1a" stroke-width="0.15">0.831</text>
<text x="227.21" y="406.36" font-size="5.4" font-weight="bold" text-anchor="middle" fill="#1a1a1a" stroke="#1a1a1a" stroke-width="0.15">0.620</text>
<polygon points="266.03,472.37 275.82,476.56 273.86,417.89 263.18,414.08" fill="#6472f1" stroke="#6472f1" stroke-width="0.3" stroke-linejoin="round"/>
<polygon points="275.82,476.56 282.11,470.31 280.77,412.15 273.86,417.89" fill="#3e4ab4" stroke="#3e4ab4" stroke-width="0.3" stroke-linejoin="round"/>
<polygon points="263.18,414.08 273.86,417.89 273.52,407.57 262.68,403.83" fill="#bee8fa" stroke="#bee8fa" stroke-width="0.3" stroke-linejoin="round"/>
<polygon points="273.86,417.89 280.77,412.15 280.54,401.93 273.52,407.57" fill="#90aaba" stroke="#90aaba" stroke-width="0.3" stroke-linejoin="round"/>
<polygon points="262.68,403.83 273.52,407.57 280.54,401.93 269.81,398.34" fill="#cdeefc" stroke="#cdeefc" stroke-width="0.3" stroke-linejoin="round"/>
<text x="271.63" y="402.58" font-size="5.4" font-weight="bold" text-anchor="middle" fill="#1a1a1a" stroke="#1a1a1a" stroke-width="0.15">0.79</text>
<text x="271.63" y="408.48" font-size="5.4" font-weight="bold" text-anchor="middle" fill="#1a1a1a" stroke="#1a1a1a" stroke-width="0.15">0.682</text>
<polygon points="305.52,470.47 315.76,474.63 316.01,466.83 305.64,462.72" fill="#f26464" stroke="#f26464" stroke-width="0.3" stroke-linejoin="round"/>
<polygon points="315.76,474.63 321.35,468.43 321.66,460.69 316.01,466.83" fill="#c84e52" stroke="#c84e52" stroke-width="0.3" stroke-linejoin="round"/>
<polygon points="305.64,462.72 316.01,466.83 316.20,460.57 305.73,456.49" fill="#ffc2c2" stroke="#ffc2c2" stroke-width="0.3" stroke-linejoin="round"/>
<polygon points="316.01,466.83 321.66,460.69 321.91,454.48 316.20,460.57" fill="#cfa0a2" stroke="#cfa0a2" stroke-width="0.3" stroke-linejoin="round"/>
<polygon points="305.73,456.49 316.20,460.57 321.91,454.48 311.55,450.54" fill="#ecc0c0" stroke="#ecc0c0" stroke-width="0.3" stroke-linejoin="round"/>
<text x="313.84" y="455.18" font-size="5.4" font-weight="bold" text-anchor="middle" fill="#1a1a1a" stroke="#1a1a1a" stroke-width="0.15">0.175</text>
<text x="313.84" y="461.08" font-size="5.4" font-weight="bold" text-anchor="middle" fill="#1a1a1a" stroke="#1a1a1a" stroke-width="0.15">0.098</text>
<polygon points="210.58,487.94 220.07,492.51 216.38,463.43 206.49,459.02" fill="#078807" stroke="#078807" stroke-width="0.3" stroke-linejoin="round"/>
<polygon points="220.07,492.51 227.61,485.72 224.34,456.85 216.38,463.43" fill="#046604" stroke="#046604" stroke-width="0.3" stroke-linejoin="round"/>
<polygon points="206.49,459.02 216.38,463.43 211.41,424.26 200.98,420.13" fill="#b2f066" stroke="#b2f066" stroke-width="0.3" stroke-linejoin="round"/>
<polygon points="216.38,463.43 224.34,456.85 219.95,418.05 211.41,424.26" fill="#aae660" stroke="#aae660" stroke-width="0.3" stroke-linejoin="round"/>
<polygon points="200.98,420.13 211.41,424.26 219.95,418.05 209.61,414.09" fill="#bff47c" stroke="#bff47c" stroke-width="0.3" stroke-linejoin="round"/>
<text x="210.49" y="418.79" font-size="5.4" font-weight="bold" text-anchor="middle" fill="#1a1a1a" stroke="#1a1a1a" stroke-width="0.15">0.769</text>
<text x="210.49" y="424.69" font-size="5.4" font-weight="bold" text-anchor="middle" fill="#1a1a1a" stroke="#1a1a1a" stroke-width="0.15">0.348</text>
<polygon points="251.89,485.90 261.87,490.43 259.07,441.50 248.33,437.27" fill="#6472f1" stroke="#6472f1" stroke-width="0.3" stroke-linejoin="round"/>
<polygon points="261.87,490.43 268.64,483.70 266.43,435.16 259.07,441.50" fill="#3e4ab4" stroke="#3e4ab4" stroke-width="0.3" stroke-linejoin="round"/>
<polygon points="248.33,437.27 259.07,441.50 257.61,415.94 246.47,411.91" fill="#bee8fa" stroke="#bee8fa" stroke-width="0.3" stroke-linejoin="round"/>
<polygon points="259.07,441.50 266.43,435.16 265.28,409.87 257.61,415.94" fill="#90aaba" stroke="#90aaba" stroke-width="0.3" stroke-linejoin="round"/>
<polygon points="246.47,411.91 257.61,415.94 265.28,409.87 254.26,406.01" fill="#cdeefc" stroke="#cdeefc" stroke-width="0.3" stroke-linejoin="round"/>
<text x="255.90" y="410.59" font-size="5.4" font-weight="bold" text-anchor="middle" fill="#1a1a1a" stroke="#1a1a1a" stroke-width="0.15">0.832</text>
<text x="255.90" y="416.49" font-size="5.4" font-weight="bold" text-anchor="middle" fill="#1a1a1a" stroke="#1a1a1a" stroke-width="0.15">0.568</text>
<polygon points="292.91,483.89 303.37,488.37 303.48,478.99 292.85,474.55" fill="#f26464" stroke="#f26464" stroke-width="0.3" stroke-linejoin="round"/>
<polygon points="303.37,488.37 309.38,481.70 309.58,472.38 303.48,478.99" fill="#c84e52" stroke="#c84e52" stroke-width="0.3" stroke-linejoin="round"/>
<polygon points="292.85,474.55 303.48,478.99 303.54,473.43 292.82,469.03" fill="#ffc2c2" stroke="#ffc2c2" stroke-width="0.3" stroke-linejoin="round"/>
<polygon points="303.48,478.99 309.58,472.38 309.70,466.87 303.54,473.43" fill="#cfa0a2" stroke="#cfa0a2" stroke-width="0.3" stroke-linejoin="round"/>
<polygon points="292.82,469.03 303.54,473.43 309.70,466.87 299.09,462.63" fill="#ecc0c0" stroke="#ecc0c0" stroke-width="0.3" stroke-linejoin="round"/>
<text x="301.28" y="467.65" font-size="5.4" font-weight="bold" text-anchor="middle" fill="#1a1a1a" stroke="#1a1a1a" stroke-width="0.15">0.183</text>
<text x="301.28" y="473.55" font-size="5.4" font-weight="bold" text-anchor="middle" fill="#1a1a1a" stroke="#1a1a1a" stroke-width="0.15">0.116</text>
<polygon points="236.66,500.49 246.83,505.39 243.40,464.63 232.58,459.96" fill="#6472f1" stroke="#6472f1" stroke-width="0.3" stroke-linejoin="round"/>
<polygon points="246.83,505.39 254.13,498.13 251.26,457.67 243.40,464.63" fill="#3e4ab4" stroke="#3e4ab4" stroke-width="0.3" stroke-linejoin="round"/>
<polygon points="232.58,459.96 243.40,464.63 241.20,438.56 229.97,434.09" fill="#bee8fa" stroke="#bee8fa" stroke-width="0.3" stroke-linejoin="round"/>
<polygon points="243.40,464.63 251.26,457.67 249.43,431.85 241.20,438.56" fill="#90aaba" stroke="#90aaba" stroke-width="0.3" stroke-linejoin="round"/>
<polygon points="229.97,434.09 241.20,438.56 249.43,431.85 238.31,427.56" fill="#cdeefc" stroke="#cdeefc" stroke-width="0.3" stroke-linejoin="round"/>
<text x="239.73" y="432.67" font-size="5.4" font-weight="bold" text-anchor="middle" fill="#1a1a1a" stroke="#1a1a1a" stroke-width="0.15">0.743</text>
<text x="239.73" y="438.57" font-size="5.4" font-weight="bold" text-anchor="middle" fill="#1a1a1a" stroke="#1a1a1a" stroke-width="0.15">0.472</text>
<polygon points="279.31,498.34 290.01,503.19 289.81,485.05 278.79,480.29" fill="#f26464" stroke="#f26464" stroke-width="0.3" stroke-linejoin="round"/>
<polygon points="290.01,503.19 296.50,496.00 296.50,477.97 289.81,485.05" fill="#c84e52" stroke="#c84e52" stroke-width="0.3" stroke-linejoin="round"/>
<polygon points="278.79,480.29 289.81,485.05 289.79,483.50 278.75,478.75" fill="#ffc2c2" stroke="#ffc2c2" stroke-width="0.3" stroke-linejoin="round"/>
<polygon points="289.81,485.05 296.50,477.97 296.50,476.44 289.79,483.50" fill="#cfa0a2" stroke="#cfa0a2" stroke-width="0.3" stroke-linejoin="round"/>
<polygon points="278.75,478.75 289.79,483.50 296.50,476.44 285.57,471.87" fill="#ecc0c0" stroke="#ecc0c0" stroke-width="0.3" stroke-linejoin="round"/>
<text x="287.65" y="477.29" font-size="5.4" font-weight="bold" text-anchor="middle" fill="#1a1a1a" stroke="#1a1a1a" stroke-width="0.15">0.236</text>
<text x="287.65" y="483.19" font-size="5.4" font-weight="bold" text-anchor="middle" fill="#1a1a1a" stroke="#1a1a1a" stroke-width="0.15">0.218</text>
<polygon points="264.63,513.96 275.56,519.22 275.10,506.60 263.94,501.40" fill="#f26464" stroke="#f26464" stroke-width="0.3" stroke-linejoin="round"/>
<polygon points="275.56,519.22 282.58,511.43 282.28,498.89 275.10,506.60" fill="#c84e52" stroke="#c84e52" stroke-width="0.3" stroke-linejoin="round"/>
<polygon points="263.94,501.40 275.10,506.60 274.99,503.69 263.78,498.50" fill="#ffc2c2" stroke="#ffc2c2" stroke-width="0.3" stroke-linejoin="round"/>
<polygon points="275.10,506.60 282.28,498.89 282.21,495.99 274.99,503.69" fill="#cfa0a2" stroke="#cfa0a2" stroke-width="0.3" stroke-linejoin="round"/>
<polygon points="263.78,498.50 274.99,503.69 282.21,495.99 271.12,491.01" fill="#ecc0c0" stroke="#ecc0c0" stroke-width="0.3" stroke-linejoin="round"/>
<text x="273.02" y="496.94" font-size="5.4" font-weight="bold" text-anchor="middle" fill="#1a1a1a" stroke="#1a1a1a" stroke-width="0.15">0.185</text>
<text x="273.02" y="502.84" font-size="5.4" font-weight="bold" text-anchor="middle" fill="#1a1a1a" stroke="#1a1a1a" stroke-width="0.15">0.151</text>
<text x="205.61" y="498.20" font-size="4.8" font-weight="bold" text-anchor="middle" dominant-baseline="central" fill="#222" stroke="#222" stroke-width="0.28" transform="rotate(-42.0 205.61 498.20)">RF</text>
<text x="231.55" y="512.49" font-size="4.8" font-weight="bold" text-anchor="middle" dominant-baseline="central" fill="#222" stroke="#222" stroke-width="0.28" transform="rotate(-42.0 231.55 512.49)">ETr</text>
<text x="260.64" y="525.53" font-size="4.8" font-weight="bold" text-anchor="middle" dominant-baseline="central" fill="#222" stroke="#222" stroke-width="0.28" transform="rotate(-42.0 260.64 525.53)">LR</text>
<text x="214.45" y="512.89" font-size="5.75" font-weight="bold" text-anchor="middle" dominant-baseline="central" fill="#222" stroke="#222" stroke-width="0.28" transform="rotate(28.0 214.45 512.89)">Machine learning algorithm</text>
<text x="291.01" y="522.36" font-size="5.1" font-weight="bold" text-anchor="start" dominant-baseline="central" fill="#222" stroke="#222" stroke-width="0.28" transform="rotate(20.0 291.01 522.36)">End</text>
<text x="304.98" y="506.28" font-size="5.1" font-weight="bold" text-anchor="start" dominant-baseline="central" fill="#222" stroke="#222" stroke-width="0.28" transform="rotate(20.0 304.98 506.28)">Late</text>
<text x="317.90" y="491.41" font-size="5.1" font-weight="bold" text-anchor="start" dominant-baseline="central" fill="#222" stroke="#222" stroke-width="0.28" transform="rotate(20.0 317.90 491.41)">Middle</text>
<text x="329.88" y="477.63" font-size="5.1" font-weight="bold" text-anchor="start" dominant-baseline="central" fill="#222" stroke="#222" stroke-width="0.28" transform="rotate(20.0 329.88 477.63)">Early</text>
<text x="331.46" y="507.60" font-size="5.0" font-weight="bold" text-anchor="middle" dominant-baseline="central" fill="#222" stroke="#222" stroke-width="0.28" transform="rotate(-48.0 331.46 507.60)">Growth Stages</text>
<text x="180.64" y="458.15" font-size="5.4" font-weight="bold" font-style="italic" fill="#222" stroke="#222" stroke-width="0.15" text-anchor="middle" dominant-baseline="central" transform="rotate(-45 180.64 458.15)">R<tspan font-size="3.4" dy="-2">2</tspan></text>
<text x="190.40" y="371.40" font-size="11" font-weight="bold" text-anchor="start" fill="#111">(h)</text>
<line x1="375.14" y1="475.88" x2="363.39" y2="395.75" stroke="#e2e2e2" stroke-width="0.45"/>
<line x1="375.14" y1="475.88" x2="453.70" y2="513.32" stroke="#eeeeee" stroke-width="0.45"/>
<line x1="382.71" y1="469.41" x2="372.21" y2="390.06" stroke="#e2e2e2" stroke-width="0.45"/>
<line x1="382.71" y1="469.41" x2="460.53" y2="505.40" stroke="#eeeeee" stroke-width="0.45"/>
<line x1="390.02" y1="463.17" x2="380.68" y2="384.60" stroke="#e2e2e2" stroke-width="0.45"/>
<line x1="390.02" y1="463.17" x2="467.08" y2="497.79" stroke="#eeeeee" stroke-width="0.45"/>
<line x1="397.07" y1="457.15" x2="388.81" y2="379.35" stroke="#e2e2e2" stroke-width="0.45"/>
<line x1="397.07" y1="457.15" x2="473.39" y2="490.48" stroke="#eeeeee" stroke-width="0.45"/>
<line x1="403.87" y1="451.34" x2="396.63" y2="374.30" stroke="#e2e2e2" stroke-width="0.45"/>
<line x1="403.87" y1="451.34" x2="479.46" y2="483.44" stroke="#eeeeee" stroke-width="0.45"/>
<line x1="410.45" y1="445.72" x2="404.15" y2="369.45" stroke="#e2e2e2" stroke-width="0.45"/>
<line x1="410.45" y1="445.72" x2="485.30" y2="476.66" stroke="#eeeeee" stroke-width="0.45"/>
<line x1="416.82" y1="440.28" x2="411.40" y2="364.77" stroke="#e2e2e2" stroke-width="0.45"/>
<line x1="416.82" y1="440.28" x2="490.93" y2="470.13" stroke="#eeeeee" stroke-width="0.45"/>
<line x1="434.29" y1="439.47" x2="430.98" y2="363.99" stroke="#e2e2e2" stroke-width="0.45"/>
<line x1="457.97" y1="448.76" x2="457.49" y2="371.83" stroke="#e2e2e2" stroke-width="0.45"/>
<line x1="483.16" y1="458.65" x2="485.90" y2="380.23" stroke="#e2e2e2" stroke-width="0.45"/>
<line x1="379.36" y1="488.53" x2="434.29" y2="439.47" stroke="#eeeeee" stroke-width="0.45"/>
<line x1="391.87" y1="494.67" x2="445.95" y2="444.04" stroke="#eeeeee" stroke-width="0.45"/>
<line x1="404.82" y1="501.04" x2="457.97" y2="448.76" stroke="#eeeeee" stroke-width="0.45"/>
<line x1="418.24" y1="507.63" x2="470.37" y2="453.63" stroke="#eeeeee" stroke-width="0.45"/>
<line x1="432.16" y1="514.47" x2="483.16" y2="458.65" stroke="#eeeeee" stroke-width="0.45"/>
<line x1="364.80" y1="467.23" x2="422.09" y2="420.63" stroke="#e2e2e2" stroke-width="0.45"/>
<line x1="422.09" y1="420.63" x2="497.22" y2="448.73" stroke="#e2e2e2" stroke-width="0.45"/>
<line x1="362.18" y1="451.05" x2="421.16" y2="405.56" stroke="#e2e2e2" stroke-width="0.45"/>
<line x1="421.16" y1="405.56" x2="498.13" y2="432.85" stroke="#e2e2e2" stroke-width="0.45"/>
<line x1="359.42" y1="433.97" x2="420.19" y2="389.78" stroke="#e2e2e2" stroke-width="0.45"/>
<line x1="420.19" y1="389.78" x2="499.09" y2="416.14" stroke="#e2e2e2" stroke-width="0.45"/>
<line x1="356.50" y1="415.91" x2="419.17" y2="373.22" stroke="#e2e2e2" stroke-width="0.45"/>
<line x1="419.17" y1="373.22" x2="500.09" y2="398.52" stroke="#e2e2e2" stroke-width="0.45"/>
<line x1="354.20" y1="401.68" x2="418.38" y2="360.27" stroke="#a0a0a0" stroke-width="0.6"/>
<line x1="418.38" y1="360.27" x2="500.88" y2="384.66" stroke="#a0a0a0" stroke-width="0.6"/>
<line x1="500.88" y1="384.66" x2="496.36" y2="463.83" stroke="#a0a0a0" stroke-width="0.6"/>
<line x1="422.97" y1="435.02" x2="418.38" y2="360.27" stroke="#a0a0a0" stroke-width="0.5"/>
<line x1="367.28" y1="482.59" x2="422.97" y2="435.02" stroke="#a0a0a0" stroke-width="0.5"/>
<line x1="422.97" y1="435.02" x2="496.36" y2="463.83" stroke="#a0a0a0" stroke-width="0.5"/>
<line x1="367.28" y1="482.59" x2="354.20" y2="401.68" stroke="#555" stroke-width="0.7"/>
<line x1="367.28" y1="482.59" x2="446.60" y2="521.57" stroke="#555" stroke-width="0.7"/>
<line x1="446.60" y1="521.57" x2="496.36" y2="463.83" stroke="#555" stroke-width="0.7"/>
<line x1="367.28" y1="482.59" x2="365.78" y2="482.89" stroke="#555" stroke-width="0.6"/>
<text x="362.68" y="486.39" font-size="4.7" font-weight="bold" text-anchor="middle" dominant-baseline="central" fill="#222" stroke="#222" stroke-width="0.15" transform="rotate(-47.0 362.68 486.39)">0.0</text>
<line x1="364.80" y1="467.23" x2="363.30" y2="467.53" stroke="#555" stroke-width="0.6"/>
<text x="360.20" y="471.03" font-size="4.7" font-weight="bold" text-anchor="middle" dominant-baseline="central" fill="#222" stroke="#222" stroke-width="0.15" transform="rotate(-47.0 360.20 471.03)">0.2</text>
<line x1="362.18" y1="451.05" x2="360.68" y2="451.35" stroke="#555" stroke-width="0.6"/>
<text x="357.58" y="454.85" font-size="4.7" font-weight="bold" text-anchor="middle" dominant-baseline="central" fill="#222" stroke="#222" stroke-width="0.15" transform="rotate(-47.0 357.58 454.85)">0.4</text>
<line x1="359.42" y1="433.97" x2="357.92" y2="434.27" stroke="#555" stroke-width="0.6"/>
<text x="354.82" y="437.77" font-size="4.7" font-weight="bold" text-anchor="middle" dominant-baseline="central" fill="#222" stroke="#222" stroke-width="0.15" transform="rotate(-47.0 354.82 437.77)">0.6</text>
<line x1="356.50" y1="415.91" x2="355.00" y2="416.21" stroke="#555" stroke-width="0.6"/>
<text x="351.90" y="419.71" font-size="4.7" font-weight="bold" text-anchor="middle" dominant-baseline="central" fill="#222" stroke="#222" stroke-width="0.15" transform="rotate(-47.0 351.90 419.71)">0.8</text>
<line x1="379.36" y1="488.53" x2="378.46" y2="490.03" stroke="#555" stroke-width="0.6"/>
<line x1="404.82" y1="501.04" x2="403.92" y2="502.54" stroke="#555" stroke-width="0.6"/>
<line x1="432.16" y1="514.47" x2="431.26" y2="515.97" stroke="#555" stroke-width="0.6"/>
<line x1="453.70" y1="513.32" x2="455.20" y2="514.22" stroke="#555" stroke-width="0.6"/>
<line x1="467.08" y1="497.79" x2="468.58" y2="498.69" stroke="#555" stroke-width="0.6"/>
<line x1="479.46" y1="483.44" x2="480.96" y2="484.34" stroke="#555" stroke-width="0.6"/>
<line x1="490.93" y1="470.13" x2="492.43" y2="471.03" stroke="#555" stroke-width="0.6"/>
<polygon points="420.97,445.76 429.63,449.29 426.93,397.57 417.59,394.38" fill="#078807" stroke="#078807" stroke-width="0.3" stroke-linejoin="round"/>
<polygon points="429.63,449.29 435.46,444.00 433.29,392.73 426.93,397.57" fill="#046604" stroke="#046604" stroke-width="0.3" stroke-linejoin="round"/>
<polygon points="417.59,394.38 426.93,397.57 426.00,379.65 416.42,376.61" fill="#b2f066" stroke="#b2f066" stroke-width="0.3" stroke-linejoin="round"/>
<polygon points="426.93,397.57 433.29,392.73 432.54,375.00 426.00,379.65" fill="#aae660" stroke="#aae660" stroke-width="0.3" stroke-linejoin="round"/>
<polygon points="416.42,376.61 426.00,379.65 432.54,375.00 423.05,372.07" fill="#bff47c" stroke="#bff47c" stroke-width="0.3" stroke-linejoin="round"/>
<text x="424.50" y="375.50" font-size="5.4" font-weight="bold" text-anchor="middle" fill="#1a1a1a" stroke="#1a1a1a" stroke-width="0.15">0.851</text>
<text x="424.50" y="381.40" font-size="5.4" font-weight="bold" text-anchor="middle" fill="#1a1a1a" stroke="#1a1a1a" stroke-width="0.15">0.649</text>
<polygon points="407.94,457.21 416.75,461.00 412.96,410.07 403.47,406.61" fill="#078807" stroke="#078807" stroke-width="0.3" stroke-linejoin="round"/>
<polygon points="416.75,461.00 422.99,455.33 419.78,404.84 412.96,410.07" fill="#046604" stroke="#046604" stroke-width="0.3" stroke-linejoin="round"/>
<polygon points="403.47,406.61 412.96,410.07 412.17,399.46 402.54,396.08" fill="#b2f066" stroke="#b2f066" stroke-width="0.3" stroke-linejoin="round"/>
<polygon points="412.96,410.07 419.78,404.84 419.12,394.33 412.17,399.46" fill="#aae660" stroke="#aae660" stroke-width="0.3" stroke-linejoin="round"/>
<polygon points="402.54,396.08 412.17,399.46 419.12,394.33 409.57,391.08" fill="#bff47c" stroke="#bff47c" stroke-width="0.3" stroke-linejoin="round"/>
<text x="410.85" y="394.90" font-size="5.4" font-weight="bold" text-anchor="middle" fill="#1a1a1a" stroke="#1a1a1a" stroke-width="0.15">0.748</text>
<text x="410.85" y="400.80" font-size="5.4" font-weight="bold" text-anchor="middle" fill="#1a1a1a" stroke="#1a1a1a" stroke-width="0.15">0.629</text>
<polygon points="444.70,455.44 453.91,459.20 453.09,396.25 442.95,392.92" fill="#6472f1" stroke="#6472f1" stroke-width="0.3" stroke-linejoin="round"/>
<polygon points="453.91,459.20 459.53,453.57 459.29,391.19 453.09,396.25" fill="#3e4ab4" stroke="#3e4ab4" stroke-width="0.3" stroke-linejoin="round"/>
<polygon points="442.95,392.92 453.09,396.25 452.99,388.24 442.73,384.98" fill="#bee8fa" stroke="#bee8fa" stroke-width="0.3" stroke-linejoin="round"/>
<polygon points="453.09,396.25 459.29,391.19 459.26,383.27 452.99,388.24" fill="#90aaba" stroke="#90aaba" stroke-width="0.3" stroke-linejoin="round"/>
<polygon points="442.73,384.98 452.99,388.24 459.26,383.27 449.11,380.13" fill="#cdeefc" stroke="#cdeefc" stroke-width="0.3" stroke-linejoin="round"/>
<text x="451.02" y="383.82" font-size="5.4" font-weight="bold" text-anchor="middle" fill="#1a1a1a" stroke="#1a1a1a" stroke-width="0.15">0.851</text>
<text x="451.02" y="389.72" font-size="5.4" font-weight="bold" text-anchor="middle" fill="#1a1a1a" stroke="#1a1a1a" stroke-width="0.15">0.764</text>
<polygon points="393.96,469.48 402.92,473.56 397.57,419.64 387.88,415.90" fill="#078807" stroke="#078807" stroke-width="0.3" stroke-linejoin="round"/>
<polygon points="402.92,473.56 409.63,467.47 404.97,414.01 397.57,419.64" fill="#046604" stroke="#046604" stroke-width="0.3" stroke-linejoin="round"/>
<polygon points="387.88,415.90 397.57,419.64 396.49,408.72 386.65,405.07" fill="#b2f066" stroke="#b2f066" stroke-width="0.3" stroke-linejoin="round"/>
<polygon points="397.57,419.64 404.97,414.01 404.03,403.20 396.49,408.72" fill="#aae660" stroke="#aae660" stroke-width="0.3" stroke-linejoin="round"/>
<polygon points="386.65,405.07 396.49,408.72 404.03,403.20 394.28,399.70" fill="#bff47c" stroke="#bff47c" stroke-width="0.3" stroke-linejoin="round"/>
<text x="395.37" y="403.83" font-size="5.4" font-weight="bold" text-anchor="middle" fill="#1a1a1a" stroke="#1a1a1a" stroke-width="0.15">0.771</text>
<text x="395.37" y="409.73" font-size="5.4" font-weight="bold" text-anchor="middle" fill="#1a1a1a" stroke="#1a1a1a" stroke-width="0.15">0.652</text>
<polygon points="432.10,467.61 441.49,471.65 439.56,415.04 429.31,411.37" fill="#6472f1" stroke="#6472f1" stroke-width="0.3" stroke-linejoin="round"/>
<polygon points="441.49,471.65 447.52,465.61 446.18,409.49 439.56,415.04" fill="#3e4ab4" stroke="#3e4ab4" stroke-width="0.3" stroke-linejoin="round"/>
<polygon points="429.31,411.37 439.56,415.04 439.20,404.61 428.80,401.02" fill="#bee8fa" stroke="#bee8fa" stroke-width="0.3" stroke-linejoin="round"/>
<polygon points="439.56,415.04 446.18,409.49 445.93,399.17 439.20,404.61" fill="#90aaba" stroke="#90aaba" stroke-width="0.3" stroke-linejoin="round"/>
<polygon points="428.80,401.02 439.20,404.61 445.93,399.17 435.63,395.72" fill="#cdeefc" stroke="#cdeefc" stroke-width="0.3" stroke-linejoin="round"/>
<text x="437.39" y="399.79" font-size="5.4" font-weight="bold" text-anchor="middle" fill="#1a1a1a" stroke="#1a1a1a" stroke-width="0.15">0.795</text>
<text x="437.39" y="405.69" font-size="5.4" font-weight="bold" text-anchor="middle" fill="#1a1a1a" stroke="#1a1a1a" stroke-width="0.15">0.682</text>
<polygon points="469.97,465.75 479.79,469.75 480.66,441.00 470.36,437.17" fill="#f26464" stroke="#f26464" stroke-width="0.3" stroke-linejoin="round"/>
<polygon points="479.79,469.75 485.15,463.77 486.25,435.24 480.66,441.00" fill="#c84e52" stroke="#c84e52" stroke-width="0.3" stroke-linejoin="round"/>
<polygon points="470.36,437.17 480.66,441.00 480.69,439.83 470.37,436.01" fill="#ffc2c2" stroke="#ffc2c2" stroke-width="0.3" stroke-linejoin="round"/>
<polygon points="480.66,441.00 486.25,435.24 486.29,434.08 480.69,439.83" fill="#cfa0a2" stroke="#cfa0a2" stroke-width="0.3" stroke-linejoin="round"/>
<polygon points="470.37,436.01 480.69,439.83 486.29,434.08 476.09,430.40" fill="#ecc0c0" stroke="#ecc0c0" stroke-width="0.3" stroke-linejoin="round"/>
<text x="478.35" y="434.74" font-size="5.4" font-weight="bold" text-anchor="middle" fill="#1a1a1a" stroke="#1a1a1a" stroke-width="0.15">0.376</text>
<text x="478.35" y="440.64" font-size="5.4" font-weight="bold" text-anchor="middle" fill="#1a1a1a" stroke="#1a1a1a" stroke-width="0.15">0.362</text>
<polygon points="378.94,482.67 388.05,487.08 385.88,469.97 376.53,465.67" fill="#078807" stroke="#078807" stroke-width="0.3" stroke-linejoin="round"/>
<polygon points="388.05,487.08 395.27,480.52 393.34,463.54 385.88,469.97" fill="#046604" stroke="#046604" stroke-width="0.3" stroke-linejoin="round"/>
<polygon points="376.53,465.67 385.88,469.97 380.21,425.39 370.26,421.39" fill="#b2f066" stroke="#b2f066" stroke-width="0.3" stroke-linejoin="round"/>
<polygon points="385.88,469.97 393.34,463.54 388.33,419.36 380.21,425.39" fill="#aae660" stroke="#aae660" stroke-width="0.3" stroke-linejoin="round"/>
<polygon points="370.26,421.39 380.21,425.39 388.33,419.36 378.46,415.51" fill="#bff47c" stroke="#bff47c" stroke-width="0.3" stroke-linejoin="round"/>
<text x="379.32" y="420.07" font-size="5.4" font-weight="bold" text-anchor="middle" fill="#1a1a1a" stroke="#1a1a1a" stroke-width="0.15">0.725</text>
<text x="379.32" y="425.97" font-size="5.4" font-weight="bold" text-anchor="middle" fill="#1a1a1a" stroke="#1a1a1a" stroke-width="0.15">0.216</text>
<polygon points="418.55,480.68 428.13,485.04 424.44,421.22 413.88,417.28" fill="#6472f1" stroke="#6472f1" stroke-width="0.3" stroke-linejoin="round"/>
<polygon points="428.13,485.04 434.61,478.54 431.69,415.27 424.44,421.22" fill="#3e4ab4" stroke="#3e4ab4" stroke-width="0.3" stroke-linejoin="round"/>
<polygon points="413.88,417.28 424.44,421.22 424.08,415.01 413.42,411.11" fill="#bee8fa" stroke="#bee8fa" stroke-width="0.3" stroke-linejoin="round"/>
<polygon points="424.44,421.22 431.69,415.27 431.40,409.13 424.08,415.01" fill="#90aaba" stroke="#90aaba" stroke-width="0.3" stroke-linejoin="round"/>
<polygon points="413.42,411.11 424.08,415.01 431.40,409.13 420.86,405.39" fill="#cdeefc" stroke="#cdeefc" stroke-width="0.3" stroke-linejoin="round"/>
<text x="422.44" y="409.82" font-size="5.4" font-weight="bold" text-anchor="middle" fill="#1a1a1a" stroke="#1a1a1a" stroke-width="0.15">0.813</text>
<text x="422.44" y="415.72" font-size="5.4" font-weight="bold" text-anchor="middle" fill="#1a1a1a" stroke="#1a1a1a" stroke-width="0.15">0.748</text>
<polygon points="457.88,478.70 467.92,483.02 468.02,473.25 457.82,468.99" fill="#f26464" stroke="#f26464" stroke-width="0.3" stroke-linejoin="round"/>
<polygon points="467.92,483.02 473.68,476.58 473.88,466.88 468.02,473.25" fill="#c84e52" stroke="#c84e52" stroke-width="0.3" stroke-linejoin="round"/>
<polygon points="457.82,468.99 468.02,473.25 468.03,473.01 457.82,468.75" fill="#ffc2c2" stroke="#ffc2c2" stroke-width="0.3" stroke-linejoin="round"/>
<polygon points="468.02,473.25 473.88,466.88 473.88,466.65 468.03,473.01" fill="#cfa0a2" stroke="#cfa0a2" stroke-width="0.3" stroke-linejoin="round"/>
<polygon points="457.82,468.75 468.03,473.01 473.88,466.65 463.78,462.53" fill="#ecc0c0" stroke="#ecc0c0" stroke-width="0.3" stroke-linejoin="round"/>
<text x="465.87" y="467.39" font-size="5.4" font-weight="bold" text-anchor="middle" fill="#1a1a1a" stroke="#1a1a1a" stroke-width="0.15">0.128</text>
<text x="465.87" y="473.29" font-size="5.4" font-weight="bold" text-anchor="middle" fill="#1a1a1a" stroke="#1a1a1a" stroke-width="0.15">0.125</text>
<polygon points="403.96,494.77 413.72,499.49 412.44,484.37 402.44,479.73" fill="#6472f1" stroke="#6472f1" stroke-width="0.3" stroke-linejoin="round"/>
<polygon points="413.72,499.49 420.72,492.47 419.64,477.45 412.44,484.37" fill="#3e4ab4" stroke="#3e4ab4" stroke-width="0.3" stroke-linejoin="round"/>
<polygon points="402.44,479.73 412.44,484.37 408.13,433.56 397.34,429.26" fill="#bee8fa" stroke="#bee8fa" stroke-width="0.3" stroke-linejoin="round"/>
<polygon points="412.44,484.37 419.64,477.45 416.04,427.09 408.13,433.56" fill="#90aaba" stroke="#90aaba" stroke-width="0.3" stroke-linejoin="round"/>
<polygon points="397.34,429.26 408.13,433.56 416.04,427.09 405.35,422.97" fill="#cdeefc" stroke="#cdeefc" stroke-width="0.3" stroke-linejoin="round"/>
<text x="406.72" y="427.87" font-size="5.4" font-weight="bold" text-anchor="middle" fill="#1a1a1a" stroke="#1a1a1a" stroke-width="0.15">0.758</text>
<text x="406.72" y="433.77" font-size="5.4" font-weight="bold" text-anchor="middle" fill="#1a1a1a" stroke="#1a1a1a" stroke-width="0.15">0.189</text>
<polygon points="444.86,492.66 455.12,497.34 455.00,486.94 444.56,482.32" fill="#f26464" stroke="#f26464" stroke-width="0.3" stroke-linejoin="round"/>
<polygon points="455.12,497.34 461.34,490.39 461.33,480.06 455.00,486.94" fill="#c84e52" stroke="#c84e52" stroke-width="0.3" stroke-linejoin="round"/>
<polygon points="444.56,482.32 455.00,486.94 454.98,485.65 444.52,481.03" fill="#ffc2c2" stroke="#ffc2c2" stroke-width="0.3" stroke-linejoin="round"/>
<polygon points="455.00,486.94 461.33,480.06 461.33,478.77 454.98,485.65" fill="#cfa0a2" stroke="#cfa0a2" stroke-width="0.3" stroke-linejoin="round"/>
<polygon points="444.52,481.03 454.98,485.65 461.33,478.77 450.97,474.33" fill="#ecc0c0" stroke="#ecc0c0" stroke-width="0.3" stroke-linejoin="round"/>
<text x="452.95" y="479.60" font-size="5.4" font-weight="bold" text-anchor="middle" fill="#1a1a1a" stroke="#1a1a1a" stroke-width="0.15">0.147</text>
<text x="452.95" y="485.50" font-size="5.4" font-weight="bold" text-anchor="middle" fill="#1a1a1a" stroke="#1a1a1a" stroke-width="0.15">0.131</text>
<polygon points="430.79,507.74 441.28,512.81 441.14,509.00 430.58,503.95" fill="#f26464" stroke="#f26464" stroke-width="0.3" stroke-linejoin="round"/>
<polygon points="441.28,512.81 448.01,505.29 447.91,501.50 441.14,509.00" fill="#c84e52" stroke="#c84e52" stroke-width="0.3" stroke-linejoin="round"/>
<polygon points="430.58,503.95 441.14,509.00 440.90,502.44 430.22,497.42" fill="#ffc2c2" stroke="#ffc2c2" stroke-width="0.3" stroke-linejoin="round"/>
<polygon points="441.14,509.00 447.91,501.50 447.75,494.99 440.90,502.44" fill="#cfa0a2" stroke="#cfa0a2" stroke-width="0.3" stroke-linejoin="round"/>
<polygon points="430.22,497.42 440.90,502.44 447.75,494.99 437.19,490.16" fill="#ecc0c0" stroke="#ecc0c0" stroke-width="0.3" stroke-linejoin="round"/>
<text x="439.01" y="495.90" font-size="5.4" font-weight="bold" text-anchor="middle" fill="#1a1a1a" stroke="#1a1a1a" stroke-width="0.15">0.129</text>
<text x="439.01" y="501.80" font-size="5.4" font-weight="bold" text-anchor="middle" fill="#1a1a1a" stroke="#1a1a1a" stroke-width="0.15">0.048</text>
<text x="373.96" y="492.73" font-size="4.8" font-weight="bold" text-anchor="middle" dominant-baseline="central" fill="#222" stroke="#222" stroke-width="0.28" transform="rotate(-42.0 373.96 492.73)">RF</text>
<text x="398.82" y="506.54" font-size="4.8" font-weight="bold" text-anchor="middle" dominant-baseline="central" fill="#222" stroke="#222" stroke-width="0.28" transform="rotate(-42.0 398.82 506.54)">ETr</text>
<text x="426.76" y="519.07" font-size="4.8" font-weight="bold" text-anchor="middle" dominant-baseline="central" fill="#222" stroke="#222" stroke-width="0.28" transform="rotate(-42.0 426.76 519.07)">LR</text>
<text x="381.72" y="506.94" font-size="5.75" font-weight="bold" text-anchor="middle" dominant-baseline="central" fill="#222" stroke="#222" stroke-width="0.28" transform="rotate(28.0 381.72 506.94)">Machine learning algorithm</text>
<text x="456.20" y="515.92" font-size="5.1" font-weight="bold" text-anchor="start" dominant-baseline="central" fill="#222" stroke="#222" stroke-width="0.28" transform="rotate(20.0 456.20 515.92)">10/30</text>
<text x="469.58" y="500.39" font-size="5.1" font-weight="bold" text-anchor="start" dominant-baseline="central" fill="#222" stroke="#222" stroke-width="0.28" transform="rotate(20.0 469.58 500.39)">9/28</text>
<text x="481.96" y="486.04" font-size="5.1" font-weight="bold" text-anchor="start" dominant-baseline="central" fill="#222" stroke="#222" stroke-width="0.28" transform="rotate(20.0 481.96 486.04)">8/24</text>
<text x="493.43" y="472.73" font-size="5.1" font-weight="bold" text-anchor="start" dominant-baseline="central" fill="#222" stroke="#222" stroke-width="0.28" transform="rotate(20.0 493.43 472.73)">6/22</text>
<text x="495.79" y="501.98" font-size="5.0" font-weight="bold" text-anchor="middle" dominant-baseline="central" fill="#222" stroke="#222" stroke-width="0.28" transform="rotate(-48.0 495.79 501.98)">Date</text>
<text x="349.68" y="454.05" font-size="5.4" font-weight="bold" font-style="italic" fill="#222" stroke="#222" stroke-width="0.15" text-anchor="middle" dominant-baseline="central" transform="rotate(-45 349.68 454.05)">R<tspan font-size="3.4" dy="-2">2</tspan></text>
<text x="355.00" y="370.90" font-size="11" font-weight="bold" text-anchor="start" fill="#111">(i)</text>
<rect x="503.30" y="9.40" width="11.6" height="5.4" fill="#aef064"/>
<text x="516.30" y="14.00" font-size="5.1" font-weight="normal" text-anchor="start" fill="#333">RF-Training</text>
<rect x="503.30" y="15.50" width="11.6" height="5.4" fill="#057a05"/>
<text x="516.30" y="20.10" font-size="5.1" font-weight="normal" text-anchor="start" fill="#333">RF-Testing</text>
<rect x="503.30" y="21.60" width="11.6" height="5.4" fill="#bfe4fa"/>
<text x="516.30" y="26.20" font-size="5.1" font-weight="normal" text-anchor="start" fill="#333">ETr-Training</text>
<rect x="503.30" y="27.70" width="11.6" height="5.4" fill="#5a6af0"/>
<text x="516.30" y="32.30" font-size="5.1" font-weight="normal" text-anchor="start" fill="#333">ETr-Testing</text>
<rect x="503.30" y="33.80" width="11.6" height="5.4" fill="#ffbcbc"/>
<text x="516.30" y="38.40" font-size="5.1" font-weight="normal" text-anchor="start" fill="#333">LR-Training</text>
<rect x="503.30" y="39.90" width="11.6" height="5.4" fill="#f06262"/>
<text x="516.30" y="44.50" font-size="5.1" font-weight="normal" text-anchor="start" fill="#333">LR-Testing</text>
<rect x="503.60" y="188.90" width="11.6" height="5.4" fill="#aef064"/>
<text x="516.60" y="193.50" font-size="5.1" font-weight="normal" text-anchor="start" fill="#333">RF-Training</text>
<rect x="503.60" y="195.00" width="11.6" height="5.4" fill="#057a05"/>
<text x="516.60" y="199.60" font-size="5.1" font-weight="normal" text-anchor="start" fill="#333">RF-Testing</text>
<rect x="503.60" y="201.10" width="11.6" height="5.4" fill="#bfe4fa"/>
<text x="516.60" y="205.70" font-size="5.1" font-weight="normal" text-anchor="start" fill="#333">ETr-Training</text>
<rect x="503.60" y="207.20" width="11.6" height="5.4" fill="#5a6af0"/>
<text x="516.60" y="211.80" font-size="5.1" font-weight="normal" text-anchor="start" fill="#333">ETr-Testing</text>
<rect x="503.60" y="213.30" width="11.6" height="5.4" fill="#ffbcbc"/>
<text x="516.60" y="217.90" font-size="5.1" font-weight="normal" text-anchor="start" fill="#333">LR-Training</text>
<rect x="503.60" y="219.40" width="11.6" height="5.4" fill="#f06262"/>
<text x="516.60" y="224.00" font-size="5.1" font-weight="normal" text-anchor="start" fill="#333">LR-Testing</text>
<rect x="502.60" y="359.80" width="11.6" height="5.4" fill="#aef064"/>
<text x="515.60" y="364.40" font-size="5.1" font-weight="normal" text-anchor="start" fill="#333">RF-Training</text>
<rect x="502.60" y="365.90" width="11.6" height="5.4" fill="#057a05"/>
<text x="515.60" y="370.50" font-size="5.1" font-weight="normal" text-anchor="start" fill="#333">RF-Testing</text>
<rect x="502.60" y="372.00" width="11.6" height="5.4" fill="#bfe4fa"/>
<text x="515.60" y="376.60" font-size="5.1" font-weight="normal" text-anchor="start" fill="#333">ETr-Training</text>
<rect x="502.60" y="378.10" width="11.6" height="5.4" fill="#5a6af0"/>
<text x="515.60" y="382.70" font-size="5.1" font-weight="normal" text-anchor="start" fill="#333">ETr-Testing</text>
<rect x="502.60" y="384.20" width="11.6" height="5.4" fill="#ffbcbc"/>
<text x="515.60" y="388.80" font-size="5.1" font-weight="normal" text-anchor="start" fill="#333">LR-Training</text>
<rect x="502.60" y="390.30" width="11.6" height="5.4" fill="#f06262"/>
<text x="515.60" y="394.90" font-size="5.1" font-weight="normal" text-anchor="start" fill="#333">LR-Testing</text>
</svg></body></html>
